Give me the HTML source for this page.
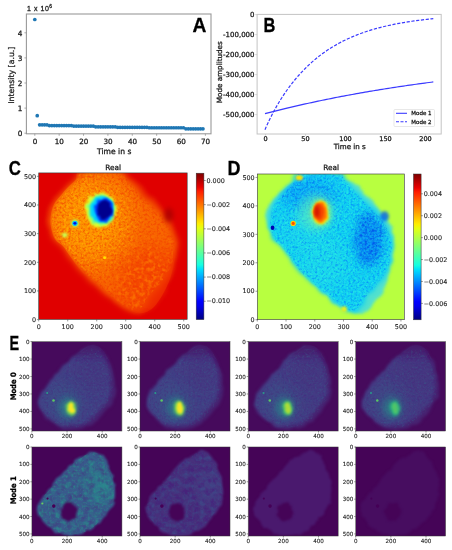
<!DOCTYPE html>
<html><head><meta charset="utf-8"><title>Figure</title>
<style>html,body{margin:0;padding:0;background:#fff;overflow:hidden}svg{display:block;filter:blur(0.35px)}</style></head>
<body><svg width="452" height="550" viewBox="0 0 452 550">
<defs><linearGradient id="gC" x1="0" y1="0" x2="0" y2="1"><stop offset="0.0000" stop-color="#800000"/><stop offset="0.0312" stop-color="#9f0000"/><stop offset="0.0625" stop-color="#c40000"/><stop offset="0.0938" stop-color="#e80000"/><stop offset="0.1250" stop-color="#ff1e00"/><stop offset="0.1562" stop-color="#ff3b00"/><stop offset="0.1875" stop-color="#ff5900"/><stop offset="0.2188" stop-color="#ff7700"/><stop offset="0.2500" stop-color="#ff9400"/><stop offset="0.2812" stop-color="#ffb200"/><stop offset="0.3125" stop-color="#ffd000"/><stop offset="0.3438" stop-color="#feed00"/><stop offset="0.3750" stop-color="#e4ff13"/><stop offset="0.4062" stop-color="#caff2c"/><stop offset="0.4375" stop-color="#b1ff46"/><stop offset="0.4688" stop-color="#97ff60"/><stop offset="0.5000" stop-color="#7dff7a"/><stop offset="0.5312" stop-color="#63ff94"/><stop offset="0.5625" stop-color="#49ffad"/><stop offset="0.5938" stop-color="#30ffc7"/><stop offset="0.6250" stop-color="#16ffe1"/><stop offset="0.6562" stop-color="#00e0fb"/><stop offset="0.6875" stop-color="#00c0ff"/><stop offset="0.7188" stop-color="#00a0ff"/><stop offset="0.7500" stop-color="#0080ff"/><stop offset="0.7812" stop-color="#0060ff"/><stop offset="0.8125" stop-color="#0040ff"/><stop offset="0.8438" stop-color="#0020ff"/><stop offset="0.8750" stop-color="#0000ff"/><stop offset="0.9062" stop-color="#0000ed"/><stop offset="0.9375" stop-color="#0000c8"/><stop offset="0.9688" stop-color="#0000a4"/><stop offset="1.0000" stop-color="#000080"/></linearGradient><linearGradient id="gD" x1="0" y1="0" x2="0" y2="1"><stop offset="0.0000" stop-color="#800000"/><stop offset="0.0312" stop-color="#9f0000"/><stop offset="0.0625" stop-color="#c40000"/><stop offset="0.0938" stop-color="#e80000"/><stop offset="0.1250" stop-color="#ff1e00"/><stop offset="0.1562" stop-color="#ff3b00"/><stop offset="0.1875" stop-color="#ff5900"/><stop offset="0.2188" stop-color="#ff7700"/><stop offset="0.2500" stop-color="#ff9400"/><stop offset="0.2812" stop-color="#ffb200"/><stop offset="0.3125" stop-color="#ffd000"/><stop offset="0.3438" stop-color="#feed00"/><stop offset="0.3750" stop-color="#e4ff13"/><stop offset="0.4062" stop-color="#caff2c"/><stop offset="0.4375" stop-color="#b1ff46"/><stop offset="0.4688" stop-color="#97ff60"/><stop offset="0.5000" stop-color="#7dff7a"/><stop offset="0.5312" stop-color="#63ff94"/><stop offset="0.5625" stop-color="#49ffad"/><stop offset="0.5938" stop-color="#30ffc7"/><stop offset="0.6250" stop-color="#16ffe1"/><stop offset="0.6562" stop-color="#00e0fb"/><stop offset="0.6875" stop-color="#00c0ff"/><stop offset="0.7188" stop-color="#00a0ff"/><stop offset="0.7500" stop-color="#0080ff"/><stop offset="0.7812" stop-color="#0060ff"/><stop offset="0.8125" stop-color="#0040ff"/><stop offset="0.8438" stop-color="#0020ff"/><stop offset="0.8750" stop-color="#0000ff"/><stop offset="0.9062" stop-color="#0000ed"/><stop offset="0.9375" stop-color="#0000c8"/><stop offset="0.9688" stop-color="#0000a4"/><stop offset="1.0000" stop-color="#000080"/></linearGradient></defs>
<rect width="452" height="550" fill="#fff"/>
<rect x="26.4" y="14.0" width="184.6" height="119.80000000000001" fill="none" stroke="#9a9a9a" stroke-width="1.1"/>
<line x1="24.4" y1="133.20" x2="26.4" y2="133.20" stroke="#8a8a8a" stroke-width="0.7"/>
<text x="22.40" y="136.10" font-size="7.3" text-anchor="end" fill="#1a1a1a" stroke="#1a1a1a" stroke-width="0.28" font-family="DejaVu Sans, Liberation Sans, sans-serif" >0</text>
<line x1="24.4" y1="108.10" x2="26.4" y2="108.10" stroke="#8a8a8a" stroke-width="0.7"/>
<text x="22.40" y="111.00" font-size="7.3" text-anchor="end" fill="#1a1a1a" stroke="#1a1a1a" stroke-width="0.28" font-family="DejaVu Sans, Liberation Sans, sans-serif" >1</text>
<line x1="24.4" y1="83.00" x2="26.4" y2="83.00" stroke="#8a8a8a" stroke-width="0.7"/>
<text x="22.40" y="85.90" font-size="7.3" text-anchor="end" fill="#1a1a1a" stroke="#1a1a1a" stroke-width="0.28" font-family="DejaVu Sans, Liberation Sans, sans-serif" >2</text>
<line x1="24.4" y1="57.90" x2="26.4" y2="57.90" stroke="#8a8a8a" stroke-width="0.7"/>
<text x="22.40" y="60.80" font-size="7.3" text-anchor="end" fill="#1a1a1a" stroke="#1a1a1a" stroke-width="0.28" font-family="DejaVu Sans, Liberation Sans, sans-serif" >3</text>
<line x1="24.4" y1="32.80" x2="26.4" y2="32.80" stroke="#8a8a8a" stroke-width="0.7"/>
<text x="22.40" y="35.70" font-size="7.3" text-anchor="end" fill="#1a1a1a" stroke="#1a1a1a" stroke-width="0.28" font-family="DejaVu Sans, Liberation Sans, sans-serif" >4</text>
<line x1="34.80" y1="133.8" x2="34.80" y2="135.8" stroke="#8a8a8a" stroke-width="0.7"/>
<text x="35.00" y="144.00" font-size="7.2" text-anchor="middle" fill="#1a1a1a" stroke="#1a1a1a" stroke-width="0.28" font-family="DejaVu Sans, Liberation Sans, sans-serif" >0</text>
<line x1="59.17" y1="133.8" x2="59.17" y2="135.8" stroke="#8a8a8a" stroke-width="0.7"/>
<text x="59.37" y="144.00" font-size="7.2" text-anchor="middle" fill="#1a1a1a" stroke="#1a1a1a" stroke-width="0.28" font-family="DejaVu Sans, Liberation Sans, sans-serif" >10</text>
<line x1="83.54" y1="133.8" x2="83.54" y2="135.8" stroke="#8a8a8a" stroke-width="0.7"/>
<text x="83.74" y="144.00" font-size="7.2" text-anchor="middle" fill="#1a1a1a" stroke="#1a1a1a" stroke-width="0.28" font-family="DejaVu Sans, Liberation Sans, sans-serif" >20</text>
<line x1="107.91" y1="133.8" x2="107.91" y2="135.8" stroke="#8a8a8a" stroke-width="0.7"/>
<text x="108.11" y="144.00" font-size="7.2" text-anchor="middle" fill="#1a1a1a" stroke="#1a1a1a" stroke-width="0.28" font-family="DejaVu Sans, Liberation Sans, sans-serif" >30</text>
<line x1="132.28" y1="133.8" x2="132.28" y2="135.8" stroke="#8a8a8a" stroke-width="0.7"/>
<text x="132.48" y="144.00" font-size="7.2" text-anchor="middle" fill="#1a1a1a" stroke="#1a1a1a" stroke-width="0.28" font-family="DejaVu Sans, Liberation Sans, sans-serif" >40</text>
<line x1="156.65" y1="133.8" x2="156.65" y2="135.8" stroke="#8a8a8a" stroke-width="0.7"/>
<text x="156.85" y="144.00" font-size="7.2" text-anchor="middle" fill="#1a1a1a" stroke="#1a1a1a" stroke-width="0.28" font-family="DejaVu Sans, Liberation Sans, sans-serif" >50</text>
<line x1="181.02" y1="133.8" x2="181.02" y2="135.8" stroke="#8a8a8a" stroke-width="0.7"/>
<text x="181.22" y="144.00" font-size="7.2" text-anchor="middle" fill="#1a1a1a" stroke="#1a1a1a" stroke-width="0.28" font-family="DejaVu Sans, Liberation Sans, sans-serif" >60</text>
<line x1="205.39" y1="133.8" x2="205.39" y2="135.8" stroke="#8a8a8a" stroke-width="0.7"/>
<text x="205.59" y="144.00" font-size="7.2" text-anchor="middle" fill="#1a1a1a" stroke="#1a1a1a" stroke-width="0.28" font-family="DejaVu Sans, Liberation Sans, sans-serif" >70</text>
<text x="27.00" y="11.00" font-size="7.0" text-anchor="start" fill="#1a1a1a" stroke="#1a1a1a" stroke-width="0.28" font-family="Liberation Sans, sans-serif" letter-spacing="0.55" >1 x 10<tspan font-size="4.8" dy="-3.0" dx="-0.2">6</tspan></text>
<text x="0.00" y="0.00" font-size="7.8" text-anchor="middle" fill="#1a1a1a" stroke="#1a1a1a" stroke-width="0.28" font-family="DejaVu Sans, Liberation Sans, sans-serif" transform="translate(13.7,75.2) rotate(-90)">Intensity [a.u.]</text>
<text x="114.20" y="154.30" font-size="7.6" text-anchor="middle" fill="#1a1a1a" stroke="#1a1a1a" stroke-width="0.28" font-family="DejaVu Sans, Liberation Sans, sans-serif" >Time in s</text>
<text x="0.00" y="0.00" font-size="20" text-anchor="start" fill="#000" stroke="#000" stroke-width="0.28" font-family="Liberation Sans, Arial, sans-serif" font-weight="bold" transform="translate(192.6,32.1) scale(0.96,1)">A</text>
<circle cx="34.80" cy="19.50" r="1.85" fill="#1f77b4"/>
<circle cx="37.24" cy="115.63" r="1.85" fill="#1f77b4"/>
<circle cx="39.67" cy="124.79" r="1.85" fill="#1f77b4"/>
<circle cx="42.11" cy="124.79" r="1.85" fill="#1f77b4"/>
<circle cx="44.55" cy="124.79" r="1.85" fill="#1f77b4"/>
<circle cx="46.98" cy="124.79" r="1.85" fill="#1f77b4"/>
<circle cx="49.42" cy="125.59" r="1.85" fill="#1f77b4"/>
<circle cx="51.86" cy="125.59" r="1.85" fill="#1f77b4"/>
<circle cx="54.30" cy="125.59" r="1.85" fill="#1f77b4"/>
<circle cx="56.73" cy="125.59" r="1.85" fill="#1f77b4"/>
<circle cx="59.17" cy="125.59" r="1.85" fill="#1f77b4"/>
<circle cx="61.61" cy="125.59" r="1.85" fill="#1f77b4"/>
<circle cx="64.04" cy="125.59" r="1.85" fill="#1f77b4"/>
<circle cx="66.48" cy="125.59" r="1.85" fill="#1f77b4"/>
<circle cx="68.92" cy="125.59" r="1.85" fill="#1f77b4"/>
<circle cx="71.35" cy="125.59" r="1.85" fill="#1f77b4"/>
<circle cx="73.79" cy="126.10" r="1.85" fill="#1f77b4"/>
<circle cx="76.23" cy="126.10" r="1.85" fill="#1f77b4"/>
<circle cx="78.67" cy="126.10" r="1.85" fill="#1f77b4"/>
<circle cx="81.10" cy="126.10" r="1.85" fill="#1f77b4"/>
<circle cx="83.54" cy="126.10" r="1.85" fill="#1f77b4"/>
<circle cx="85.98" cy="126.10" r="1.85" fill="#1f77b4"/>
<circle cx="88.41" cy="126.10" r="1.85" fill="#1f77b4"/>
<circle cx="90.85" cy="126.10" r="1.85" fill="#1f77b4"/>
<circle cx="93.29" cy="126.10" r="1.85" fill="#1f77b4"/>
<circle cx="95.72" cy="126.80" r="1.85" fill="#1f77b4"/>
<circle cx="98.16" cy="126.80" r="1.85" fill="#1f77b4"/>
<circle cx="100.60" cy="126.80" r="1.85" fill="#1f77b4"/>
<circle cx="103.04" cy="126.80" r="1.85" fill="#1f77b4"/>
<circle cx="105.47" cy="126.80" r="1.85" fill="#1f77b4"/>
<circle cx="107.91" cy="126.80" r="1.85" fill="#1f77b4"/>
<circle cx="110.35" cy="126.80" r="1.85" fill="#1f77b4"/>
<circle cx="112.78" cy="126.80" r="1.85" fill="#1f77b4"/>
<circle cx="115.22" cy="126.80" r="1.85" fill="#1f77b4"/>
<circle cx="117.66" cy="127.35" r="1.85" fill="#1f77b4"/>
<circle cx="120.09" cy="127.35" r="1.85" fill="#1f77b4"/>
<circle cx="122.53" cy="127.35" r="1.85" fill="#1f77b4"/>
<circle cx="124.97" cy="127.35" r="1.85" fill="#1f77b4"/>
<circle cx="127.41" cy="127.35" r="1.85" fill="#1f77b4"/>
<circle cx="129.84" cy="127.35" r="1.85" fill="#1f77b4"/>
<circle cx="132.28" cy="127.35" r="1.85" fill="#1f77b4"/>
<circle cx="134.72" cy="127.35" r="1.85" fill="#1f77b4"/>
<circle cx="137.15" cy="127.35" r="1.85" fill="#1f77b4"/>
<circle cx="139.59" cy="127.35" r="1.85" fill="#1f77b4"/>
<circle cx="142.03" cy="127.35" r="1.85" fill="#1f77b4"/>
<circle cx="144.46" cy="127.35" r="1.85" fill="#1f77b4"/>
<circle cx="146.90" cy="127.35" r="1.85" fill="#1f77b4"/>
<circle cx="149.34" cy="127.75" r="1.85" fill="#1f77b4"/>
<circle cx="151.78" cy="127.75" r="1.85" fill="#1f77b4"/>
<circle cx="154.21" cy="127.75" r="1.85" fill="#1f77b4"/>
<circle cx="156.65" cy="127.75" r="1.85" fill="#1f77b4"/>
<circle cx="159.09" cy="127.75" r="1.85" fill="#1f77b4"/>
<circle cx="161.52" cy="127.75" r="1.85" fill="#1f77b4"/>
<circle cx="163.96" cy="127.75" r="1.85" fill="#1f77b4"/>
<circle cx="166.40" cy="127.75" r="1.85" fill="#1f77b4"/>
<circle cx="168.83" cy="127.75" r="1.85" fill="#1f77b4"/>
<circle cx="171.27" cy="127.75" r="1.85" fill="#1f77b4"/>
<circle cx="173.71" cy="127.75" r="1.85" fill="#1f77b4"/>
<circle cx="176.15" cy="127.75" r="1.85" fill="#1f77b4"/>
<circle cx="178.58" cy="127.75" r="1.85" fill="#1f77b4"/>
<circle cx="181.02" cy="127.75" r="1.85" fill="#1f77b4"/>
<circle cx="183.46" cy="127.75" r="1.85" fill="#1f77b4"/>
<circle cx="185.89" cy="128.81" r="1.85" fill="#1f77b4"/>
<circle cx="188.33" cy="128.81" r="1.85" fill="#1f77b4"/>
<circle cx="190.77" cy="128.81" r="1.85" fill="#1f77b4"/>
<circle cx="193.20" cy="128.81" r="1.85" fill="#1f77b4"/>
<circle cx="195.64" cy="128.81" r="1.85" fill="#1f77b4"/>
<circle cx="198.08" cy="128.81" r="1.85" fill="#1f77b4"/>
<circle cx="200.52" cy="128.81" r="1.85" fill="#1f77b4"/>
<circle cx="202.95" cy="128.81" r="1.85" fill="#1f77b4"/>
<rect x="257.1" y="14.4" width="184.09999999999997" height="119.6" fill="none" stroke="#c4c4c4" stroke-width="1"/>
<line x1="255.3" y1="14.60" x2="257.1" y2="14.60" stroke="#c4c4c4" stroke-width="0.7"/>
<text x="254.50" y="17.15" font-size="7.0" text-anchor="end" fill="#1a1a1a" stroke="#1a1a1a" stroke-width="0.28" font-family="DejaVu Sans, Liberation Sans, sans-serif" >0</text>
<line x1="255.3" y1="34.60" x2="257.1" y2="34.60" stroke="#c4c4c4" stroke-width="0.7"/>
<text x="254.50" y="37.15" font-size="7.0" text-anchor="end" fill="#1a1a1a" stroke="#1a1a1a" stroke-width="0.28" font-family="DejaVu Sans, Liberation Sans, sans-serif" >-100,000</text>
<line x1="255.3" y1="54.60" x2="257.1" y2="54.60" stroke="#c4c4c4" stroke-width="0.7"/>
<text x="254.50" y="57.15" font-size="7.0" text-anchor="end" fill="#1a1a1a" stroke="#1a1a1a" stroke-width="0.28" font-family="DejaVu Sans, Liberation Sans, sans-serif" >-200,000</text>
<line x1="255.3" y1="74.60" x2="257.1" y2="74.60" stroke="#c4c4c4" stroke-width="0.7"/>
<text x="254.50" y="77.15" font-size="7.0" text-anchor="end" fill="#1a1a1a" stroke="#1a1a1a" stroke-width="0.28" font-family="DejaVu Sans, Liberation Sans, sans-serif" >-300,000</text>
<line x1="255.3" y1="94.60" x2="257.1" y2="94.60" stroke="#c4c4c4" stroke-width="0.7"/>
<text x="254.50" y="97.15" font-size="7.0" text-anchor="end" fill="#1a1a1a" stroke="#1a1a1a" stroke-width="0.28" font-family="DejaVu Sans, Liberation Sans, sans-serif" >-400,000</text>
<line x1="255.3" y1="114.60" x2="257.1" y2="114.60" stroke="#c4c4c4" stroke-width="0.7"/>
<text x="254.50" y="117.15" font-size="7.0" text-anchor="end" fill="#1a1a1a" stroke="#1a1a1a" stroke-width="0.28" font-family="DejaVu Sans, Liberation Sans, sans-serif" >-500,000</text>
<line x1="265.50" y1="134.0" x2="265.50" y2="135.8" stroke="#c4c4c4" stroke-width="0.7"/>
<text x="265.50" y="141.20" font-size="6.5" text-anchor="middle" fill="#1a1a1a" stroke="#1a1a1a" stroke-width="0.28" font-family="DejaVu Sans, Liberation Sans, sans-serif" >0</text>
<line x1="305.50" y1="134.0" x2="305.50" y2="135.8" stroke="#c4c4c4" stroke-width="0.7"/>
<text x="305.50" y="141.20" font-size="6.5" text-anchor="middle" fill="#1a1a1a" stroke="#1a1a1a" stroke-width="0.28" font-family="DejaVu Sans, Liberation Sans, sans-serif" >50</text>
<line x1="345.50" y1="134.0" x2="345.50" y2="135.8" stroke="#c4c4c4" stroke-width="0.7"/>
<text x="345.50" y="141.20" font-size="6.5" text-anchor="middle" fill="#1a1a1a" stroke="#1a1a1a" stroke-width="0.28" font-family="DejaVu Sans, Liberation Sans, sans-serif" >100</text>
<line x1="385.50" y1="134.0" x2="385.50" y2="135.8" stroke="#c4c4c4" stroke-width="0.7"/>
<text x="385.50" y="141.20" font-size="6.5" text-anchor="middle" fill="#1a1a1a" stroke="#1a1a1a" stroke-width="0.28" font-family="DejaVu Sans, Liberation Sans, sans-serif" >150</text>
<line x1="425.50" y1="134.0" x2="425.50" y2="135.8" stroke="#c4c4c4" stroke-width="0.7"/>
<text x="425.50" y="141.20" font-size="6.5" text-anchor="middle" fill="#1a1a1a" stroke="#1a1a1a" stroke-width="0.28" font-family="DejaVu Sans, Liberation Sans, sans-serif" >200</text>
<text x="0.00" y="0.00" font-size="7.2" text-anchor="middle" fill="#1a1a1a" stroke="#1a1a1a" stroke-width="0.28" font-family="DejaVu Sans, Liberation Sans, sans-serif" transform="translate(221.6,72.2) rotate(-90)">Mode amplitudes</text>
<text x="349.70" y="148.70" font-size="7.1" text-anchor="middle" fill="#1a1a1a" stroke="#1a1a1a" stroke-width="0.28" font-family="DejaVu Sans, Liberation Sans, sans-serif" >Time in s</text>
<text x="0.00" y="0.00" font-size="19.3" text-anchor="start" fill="#000" stroke="#000" stroke-width="0.28" font-family="Liberation Sans, Arial, sans-serif" font-weight="bold" transform="translate(263.4,31.9) scale(0.85,1)">B</text>
<polyline points="265.00,113.70 266.00,113.43 267.00,113.17 268.00,112.91 269.00,112.65 270.00,112.39 271.00,112.13 272.00,111.88 273.00,111.62 274.00,111.37 275.00,111.11 276.00,110.86 277.00,110.61 278.00,110.36 279.00,110.11 280.00,109.86 281.00,109.62 282.00,109.37 283.00,109.13 284.00,108.88 285.00,108.64 286.00,108.40 288.13,107.88 290.27,107.38 292.40,106.87 294.54,106.37 296.67,105.88 298.81,105.39 300.94,104.90 303.08,104.42 305.21,103.94 307.35,103.47 309.48,103.00 311.62,102.54 313.75,102.08 315.89,101.62 318.02,101.17 320.16,100.72 322.29,100.28 324.43,99.84 326.56,99.40 328.70,98.97 330.83,98.54 332.97,98.12 335.10,97.70 337.23,97.28 339.37,96.87 341.50,96.46 343.64,96.05 345.77,95.65 347.91,95.25 350.04,94.86 352.18,94.47 354.31,94.08 356.45,93.69 358.58,93.31 360.72,92.94 362.85,92.56 364.99,92.19 367.12,91.82 369.26,91.46 371.39,91.10 373.53,90.74 375.66,90.39 377.80,90.04 379.93,89.69 382.07,89.34 384.20,89.00 386.33,88.66 388.47,88.33 390.60,88.00 392.74,87.67 394.87,87.34 397.01,87.02 399.14,86.70 401.28,86.38 403.41,86.06 405.55,85.75 407.68,85.44 409.82,85.14 411.95,84.83 414.09,84.53 416.22,84.23 418.36,83.94 420.49,83.64 422.63,83.35 424.76,83.06 426.90,82.78 429.03,82.50 431.17,82.22 433.30,81.94" fill="none" stroke="#3a3aff" stroke-width="1.2"/>
<polyline points="265.00,129.66 266.00,127.35 267.00,125.10 268.00,122.92 269.00,120.80 270.00,118.74 271.00,116.73 272.00,114.77 273.00,112.86 274.00,110.99 275.00,109.17 276.00,107.39 277.00,105.65 278.00,103.94 279.00,102.28 280.00,100.64 281.00,99.04 282.00,97.48 283.00,95.94 284.00,94.44 285.00,92.97 286.00,91.52 288.13,88.53 290.27,85.66 292.40,82.90 294.54,80.25 296.67,77.71 298.81,75.26 300.94,72.91 303.08,70.65 305.21,68.47 307.35,66.38 309.48,64.37 311.62,62.43 313.75,60.57 315.89,58.78 318.02,57.06 320.16,55.40 322.29,53.81 324.43,52.27 326.56,50.79 328.70,49.37 330.83,48.01 332.97,46.69 335.10,45.43 337.23,44.21 339.37,43.04 341.50,41.91 343.64,40.82 345.77,39.78 347.91,38.78 350.04,37.81 352.18,36.88 354.31,35.98 356.45,35.12 358.58,34.29 360.72,33.50 362.85,32.73 364.99,31.99 367.12,31.28 369.26,30.60 371.39,29.94 373.53,29.31 375.66,28.70 377.80,28.11 379.93,27.55 382.07,27.01 384.20,26.49 386.33,25.98 388.47,25.50 390.60,25.04 392.74,24.59 394.87,24.16 397.01,23.74 399.14,23.35 401.28,22.96 403.41,22.59 405.55,22.24 407.68,21.90 409.82,21.57 411.95,21.25 414.09,20.95 416.22,20.65 418.36,20.37 420.49,20.10 422.63,19.84 424.76,19.59 426.90,19.35 429.03,19.12 431.17,18.89 433.30,18.68" fill="none" stroke="#3a3aff" stroke-width="1.2" stroke-dasharray="3.2,1.6"/>
<rect x="394" y="109.5" width="40.5" height="17" rx="1" fill="#fff" stroke="#d8d8d8" stroke-width="0.6"/>
<line x1="396" y1="113.3" x2="407" y2="113.3" stroke="#3a3aff" stroke-width="1.1"/>
<line x1="396" y1="121.8" x2="407" y2="121.8" stroke="#3a3aff" stroke-width="1.1" stroke-dasharray="3,1.5"/>
<text x="411.30" y="115.20" font-size="5.5" text-anchor="start" fill="#1a1a1a" stroke="#1a1a1a" stroke-width="0.28" font-family="DejaVu Sans, Liberation Sans, sans-serif" >Mode 1</text>
<text x="411.30" y="123.70" font-size="5.5" text-anchor="start" fill="#1a1a1a" stroke="#1a1a1a" stroke-width="0.28" font-family="DejaVu Sans, Liberation Sans, sans-serif" >Mode 2</text>
<defs><clipPath id="i1clip"><rect x="38.70" y="172.90" width="148.50" height="146.70"/></clipPath><filter id="i1r1" x="-20%" y="-20%" width="140%" height="140%" color-interpolation-filters="sRGB"><feTurbulence type="fractalNoise" baseFrequency="0.1" numOctaves="2" seed="3" result="t"/><feDisplacementMap in="SourceGraphic" in2="t" scale="7" xChannelSelector="R" yChannelSelector="G" result="d"/><feGaussianBlur in="d" stdDeviation="2.5"/></filter><filter id="i1r2" x="-20%" y="-20%" width="140%" height="140%" color-interpolation-filters="sRGB"><feTurbulence type="fractalNoise" baseFrequency="0.12" numOctaves="2" seed="5" result="t"/><feDisplacementMap in="SourceGraphic" in2="t" scale="5" xChannelSelector="R" yChannelSelector="G" result="d"/><feGaussianBlur in="d" stdDeviation="3.5"/></filter><filter id="i1b3" x="-50%" y="-50%" width="200%" height="200%"><feGaussianBlur stdDeviation="10"/></filter><clipPath id="i1ccbody"><path d="M130.03,310.80 C132.38,311.78 135.35,312.75 137.45,312.26 C139.56,311.78 141.36,309.21 142.65,307.86 C143.94,306.52 143.91,306.20 145.17,304.20 C146.44,302.19 148.00,298.62 150.22,295.83 C152.45,293.05 156.06,290.24 158.54,287.47 C161.01,284.71 163.14,282.02 165.07,279.26 C167.00,276.49 168.74,273.66 170.12,270.90 C171.51,268.13 172.72,265.44 173.39,262.68 C174.06,259.92 173.69,257.06 174.13,254.32 C174.58,251.58 175.91,248.96 176.06,246.25 C176.21,243.54 176.38,242.07 175.02,238.03 C173.66,234.00 170.57,226.54 167.89,222.04 C165.22,217.55 161.96,214.34 158.99,211.04 C156.02,207.74 153.04,205.17 150.07,202.24 C147.10,199.31 143.89,196.37 141.16,193.44 C138.44,190.50 136.22,187.33 133.74,184.64 C131.27,181.95 128.47,179.50 126.31,177.30 C124.16,175.10 128.37,172.41 120.82,171.43 C113.27,170.45 88.52,170.09 81.02,171.43 C73.52,172.78 77.93,176.93 75.83,179.50 C73.72,182.07 70.63,184.51 68.40,186.84 C66.17,189.16 64.94,190.38 62.46,193.44 C59.99,196.49 55.55,200.43 53.55,205.17 C51.55,209.92 50.26,216.35 50.43,221.90 C50.60,227.45 52.51,234.47 54.59,238.47 C56.67,242.48 60.55,243.32 62.91,245.96 C65.26,248.60 66.77,251.56 68.70,254.32 C70.63,257.08 72.41,259.77 74.49,262.53 C76.57,265.30 78.70,268.11 81.17,270.90 C83.65,273.68 86.29,276.49 89.34,279.26 C92.38,282.02 96.12,284.71 99.44,287.47 C102.75,290.24 106.99,293.90 109.24,295.83 C111.49,297.77 110.60,297.30 112.95,299.06 C115.30,300.82 120.50,304.44 123.34,306.40 C126.19,308.35 127.68,309.82 130.03,310.80Z"/></clipPath><filter id="i1b4" x="-50%" y="-50%" width="200%" height="200%"><feGaussianBlur stdDeviation="9"/></filter><clipPath id="i1cc1000"><path d="M137.45,313.00 C140.30,313.49 143.02,313.12 145.62,312.26 C148.22,311.41 150.82,309.82 153.05,307.86 C155.27,305.91 157.01,303.46 158.99,300.53 C160.97,297.59 163.07,293.93 164.93,290.26 C166.78,286.59 168.76,282.44 170.12,278.52 C171.48,274.61 172.23,270.70 173.09,266.79 C173.96,262.88 174.82,258.96 175.32,255.05 C175.81,251.14 176.06,246.74 176.06,243.32 C176.06,239.89 175.94,237.69 175.32,234.51 C174.70,231.34 173.84,227.55 172.35,224.25 C170.87,220.94 168.64,217.89 166.41,214.71 C164.18,211.53 161.71,208.47 158.99,205.17 C156.26,201.87 153.04,198.08 150.07,194.91 C147.10,191.73 144.38,188.55 141.16,186.10 C137.95,183.66 133.99,181.87 130.77,180.24 C127.55,178.60 125.57,177.25 121.86,176.27 C118.15,175.30 112.95,174.73 108.50,174.37 C104.04,174.00 99.34,173.76 95.13,174.07 C90.92,174.39 86.84,175.00 83.25,176.27 C79.66,177.55 76.69,179.57 73.60,181.70 C70.50,183.83 67.53,186.47 64.69,189.04 C61.84,191.60 59.00,194.29 56.52,197.11 C54.05,199.92 51.45,202.97 49.84,205.91 C48.23,208.84 47.24,211.90 46.87,214.71 C46.50,217.52 46.87,220.21 47.61,222.78 C48.35,225.35 49.84,227.55 51.32,230.11 C52.81,232.68 54.54,235.49 56.52,238.18 C58.50,240.87 60.95,243.66 63.20,246.25 C65.45,248.84 67.78,251.09 70.03,253.73 C72.29,256.37 74.19,259.31 76.72,262.09 C79.24,264.88 82.36,267.47 85.18,270.46 C88.00,273.44 90.75,276.81 93.65,279.99 C96.54,283.17 99.59,286.47 102.56,289.53 C105.53,292.58 108.50,296.01 111.47,298.33 C114.44,300.65 117.53,301.63 120.38,303.46 C123.22,305.30 125.70,307.74 128.54,309.33 C131.39,310.92 134.61,312.51 137.45,313.00Z"/></clipPath><filter id="i1n5" x="0" y="0" width="100%" height="100%" color-interpolation-filters="sRGB"><feTurbulence type="fractalNoise" baseFrequency="0.42" numOctaves="2" seed="3"/><feColorMatrix type="matrix" values="0 0 0 0 1.000 0 0 0 0 0.706 0 0 0 0 0.000 3.0 0 0 0 -1.25"/></filter><clipPath id="i1c6"><path d="M129.73,309.39 C132.03,310.35 134.94,311.31 137.00,310.83 C139.07,310.35 140.84,307.84 142.10,306.52 C143.36,305.20 143.34,304.89 144.57,302.92 C145.81,300.96 147.34,297.46 149.52,294.73 C151.70,292.00 155.24,289.24 157.67,286.53 C160.10,283.83 162.18,281.19 164.07,278.48 C165.97,275.78 167.66,273.00 169.02,270.29 C170.38,267.58 171.57,264.95 172.22,262.24 C172.88,259.53 172.51,256.73 172.95,254.04 C173.39,251.36 174.70,248.80 174.84,246.14 C174.99,243.48 175.16,242.04 173.82,238.09 C172.49,234.13 169.46,226.82 166.84,222.42 C164.22,218.01 161.02,214.87 158.11,211.63 C155.20,208.40 152.29,205.88 149.37,203.01 C146.46,200.13 143.31,197.26 140.64,194.38 C137.97,191.51 135.79,188.39 133.37,185.75 C130.94,183.12 128.20,180.72 126.09,178.57 C123.98,176.41 128.10,173.77 120.71,172.82 C113.31,171.86 89.05,171.50 81.70,172.82 C74.35,174.13 78.67,178.21 76.61,180.72 C74.55,183.24 71.52,185.63 69.33,187.91 C67.15,190.19 65.94,191.39 63.51,194.38 C61.09,197.38 56.74,201.23 54.78,205.88 C52.82,210.53 51.55,216.83 51.72,222.27 C51.89,227.71 53.76,234.59 55.80,238.52 C57.84,242.45 61.64,243.26 63.95,245.85 C66.25,248.44 67.73,251.34 69.62,254.04 C71.52,256.75 73.26,259.39 75.30,262.09 C77.34,264.80 79.42,267.56 81.85,270.29 C84.27,273.02 86.87,275.78 89.85,278.48 C92.84,281.19 96.50,283.83 99.75,286.53 C103.00,289.24 107.15,292.84 109.35,294.73 C111.56,296.62 110.69,296.17 112.99,297.89 C115.30,299.62 120.39,303.16 123.18,305.08 C125.97,307.00 127.42,308.44 129.73,309.39Z"/></clipPath><filter id="i1m7f" x="-50%" y="-50%" width="200%" height="200%"><feGaussianBlur stdDeviation="12"/></filter><mask id="i1m7" maskUnits="userSpaceOnUse" x="38.7" y="172.9" width="148.5" height="146.70000000000002"><ellipse cx="90.67" cy="222.78" rx="44.55" ry="48.41" fill="#fff" filter="url(#i1m7f)"/></mask><filter id="i1n8" x="0" y="0" width="100%" height="100%" color-interpolation-filters="sRGB"><feTurbulence type="fractalNoise" baseFrequency="0.42" numOctaves="2" seed="11"/><feColorMatrix type="matrix" values="0 0 0 0 0.941 0 0 0 0 0.188 0 0 0 0 0.000 3.0 0 0 0 -1.35"/></filter><clipPath id="i1c9"><path d="M129.73,309.39 C132.03,310.35 134.94,311.31 137.00,310.83 C139.07,310.35 140.84,307.84 142.10,306.52 C143.36,305.20 143.34,304.89 144.57,302.92 C145.81,300.96 147.34,297.46 149.52,294.73 C151.70,292.00 155.24,289.24 157.67,286.53 C160.10,283.83 162.18,281.19 164.07,278.48 C165.97,275.78 167.66,273.00 169.02,270.29 C170.38,267.58 171.57,264.95 172.22,262.24 C172.88,259.53 172.51,256.73 172.95,254.04 C173.39,251.36 174.70,248.80 174.84,246.14 C174.99,243.48 175.16,242.04 173.82,238.09 C172.49,234.13 169.46,226.82 166.84,222.42 C164.22,218.01 161.02,214.87 158.11,211.63 C155.20,208.40 152.29,205.88 149.37,203.01 C146.46,200.13 143.31,197.26 140.64,194.38 C137.97,191.51 135.79,188.39 133.37,185.75 C130.94,183.12 128.20,180.72 126.09,178.57 C123.98,176.41 128.10,173.77 120.71,172.82 C113.31,171.86 89.05,171.50 81.70,172.82 C74.35,174.13 78.67,178.21 76.61,180.72 C74.55,183.24 71.52,185.63 69.33,187.91 C67.15,190.19 65.94,191.39 63.51,194.38 C61.09,197.38 56.74,201.23 54.78,205.88 C52.82,210.53 51.55,216.83 51.72,222.27 C51.89,227.71 53.76,234.59 55.80,238.52 C57.84,242.45 61.64,243.26 63.95,245.85 C66.25,248.44 67.73,251.34 69.62,254.04 C71.52,256.75 73.26,259.39 75.30,262.09 C77.34,264.80 79.42,267.56 81.85,270.29 C84.27,273.02 86.87,275.78 89.85,278.48 C92.84,281.19 96.50,283.83 99.75,286.53 C103.00,289.24 107.15,292.84 109.35,294.73 C111.56,296.62 110.69,296.17 112.99,297.89 C115.30,299.62 120.39,303.16 123.18,305.08 C125.97,307.00 127.42,308.44 129.73,309.39Z"/></clipPath><filter id="i1n10" x="0" y="0" width="100%" height="100%" color-interpolation-filters="sRGB"><feTurbulence type="fractalNoise" baseFrequency="0.25" numOctaves="2" seed="13"/><feColorMatrix type="matrix" values="0 0 0 0 1.000 0 0 0 0 0.533 0 0 0 0 0.000 3.0 0 0 0 -1.3"/></filter><clipPath id="i1c11"><path d="M129.73,309.39 C132.03,310.35 134.94,311.31 137.00,310.83 C139.07,310.35 140.84,307.84 142.10,306.52 C143.36,305.20 143.34,304.89 144.57,302.92 C145.81,300.96 147.34,297.46 149.52,294.73 C151.70,292.00 155.24,289.24 157.67,286.53 C160.10,283.83 162.18,281.19 164.07,278.48 C165.97,275.78 167.66,273.00 169.02,270.29 C170.38,267.58 171.57,264.95 172.22,262.24 C172.88,259.53 172.51,256.73 172.95,254.04 C173.39,251.36 174.70,248.80 174.84,246.14 C174.99,243.48 175.16,242.04 173.82,238.09 C172.49,234.13 169.46,226.82 166.84,222.42 C164.22,218.01 161.02,214.87 158.11,211.63 C155.20,208.40 152.29,205.88 149.37,203.01 C146.46,200.13 143.31,197.26 140.64,194.38 C137.97,191.51 135.79,188.39 133.37,185.75 C130.94,183.12 128.20,180.72 126.09,178.57 C123.98,176.41 128.10,173.77 120.71,172.82 C113.31,171.86 89.05,171.50 81.70,172.82 C74.35,174.13 78.67,178.21 76.61,180.72 C74.55,183.24 71.52,185.63 69.33,187.91 C67.15,190.19 65.94,191.39 63.51,194.38 C61.09,197.38 56.74,201.23 54.78,205.88 C52.82,210.53 51.55,216.83 51.72,222.27 C51.89,227.71 53.76,234.59 55.80,238.52 C57.84,242.45 61.64,243.26 63.95,245.85 C66.25,248.44 67.73,251.34 69.62,254.04 C71.52,256.75 73.26,259.39 75.30,262.09 C77.34,264.80 79.42,267.56 81.85,270.29 C84.27,273.02 86.87,275.78 89.85,278.48 C92.84,281.19 96.50,283.83 99.75,286.53 C103.00,289.24 107.15,292.84 109.35,294.73 C111.56,296.62 110.69,296.17 112.99,297.89 C115.30,299.62 120.39,303.16 123.18,305.08 C125.97,307.00 127.42,308.44 129.73,309.39Z"/></clipPath><filter id="i1m12f" x="-50%" y="-50%" width="200%" height="200%"><feGaussianBlur stdDeviation="10"/></filter><mask id="i1m12" maskUnits="userSpaceOnUse" x="38.7" y="172.9" width="148.5" height="146.70000000000002"><ellipse cx="145.62" cy="278.52" rx="37.12" ry="41.08" fill="#fff" filter="url(#i1m12f)"/></mask><filter id="i1r13" x="-20%" y="-20%" width="140%" height="140%" color-interpolation-filters="sRGB"><feTurbulence type="fractalNoise" baseFrequency="0.2" numOctaves="2" seed="4" result="t"/><feDisplacementMap in="SourceGraphic" in2="t" scale="6" xChannelSelector="R" yChannelSelector="G" result="d"/><feGaussianBlur in="d" stdDeviation="1.2"/></filter><filter id="i1r14" x="-20%" y="-20%" width="140%" height="140%" color-interpolation-filters="sRGB"><feTurbulence type="fractalNoise" baseFrequency="0.2" numOctaves="2" seed="6" result="t"/><feDisplacementMap in="SourceGraphic" in2="t" scale="6" xChannelSelector="R" yChannelSelector="G" result="d"/><feGaussianBlur in="d" stdDeviation="1.2"/></filter><filter id="i1r15" x="-20%" y="-20%" width="140%" height="140%" color-interpolation-filters="sRGB"><feTurbulence type="fractalNoise" baseFrequency="0.2" numOctaves="2" seed="7" result="t"/><feDisplacementMap in="SourceGraphic" in2="t" scale="5" xChannelSelector="R" yChannelSelector="G" result="d"/><feGaussianBlur in="d" stdDeviation="1.0"/></filter><filter id="i1r16" x="-20%" y="-20%" width="140%" height="140%" color-interpolation-filters="sRGB"><feTurbulence type="fractalNoise" baseFrequency="0.2" numOctaves="2" seed="8" result="t"/><feDisplacementMap in="SourceGraphic" in2="t" scale="5" xChannelSelector="R" yChannelSelector="G" result="d"/><feGaussianBlur in="d" stdDeviation="1.0"/></filter><filter id="i1r17" x="-20%" y="-20%" width="140%" height="140%" color-interpolation-filters="sRGB"><feTurbulence type="fractalNoise" baseFrequency="0.2" numOctaves="2" seed="9" result="t"/><feDisplacementMap in="SourceGraphic" in2="t" scale="4" xChannelSelector="R" yChannelSelector="G" result="d"/><feGaussianBlur in="d" stdDeviation="1.0"/></filter><filter id="i1b18" x="-50%" y="-50%" width="200%" height="200%"><feGaussianBlur stdDeviation="0.8"/></filter><filter id="i1b19" x="-50%" y="-50%" width="200%" height="200%"><feGaussianBlur stdDeviation="0.6"/></filter><filter id="i1b20" x="-50%" y="-50%" width="200%" height="200%"><feGaussianBlur stdDeviation="0.5"/></filter><filter id="i1b21" x="-50%" y="-50%" width="200%" height="200%"><feGaussianBlur stdDeviation="0.8"/></filter><filter id="i1b22" x="-50%" y="-50%" width="200%" height="200%"><feGaussianBlur stdDeviation="2.5"/></filter><filter id="i1b23" x="-50%" y="-50%" width="200%" height="200%"><feGaussianBlur stdDeviation="0.5"/></filter></defs><g clip-path="url(#i1clip)"><rect x="38.70" y="172.90" width="148.50" height="146.70" fill="#e00000"/><path d="M137.45,313.00 C140.30,313.49 143.02,313.12 145.62,312.26 C148.22,311.41 150.82,309.82 153.05,307.86 C155.27,305.91 157.01,303.46 158.99,300.53 C160.97,297.59 163.07,293.93 164.93,290.26 C166.78,286.59 168.76,282.44 170.12,278.52 C171.48,274.61 172.23,270.70 173.09,266.79 C173.96,262.88 174.82,258.96 175.32,255.05 C175.81,251.14 176.06,246.74 176.06,243.32 C176.06,239.89 175.94,237.69 175.32,234.51 C174.70,231.34 173.84,227.55 172.35,224.25 C170.87,220.94 168.64,217.89 166.41,214.71 C164.18,211.53 161.71,208.47 158.99,205.17 C156.26,201.87 153.04,198.08 150.07,194.91 C147.10,191.73 144.38,188.55 141.16,186.10 C137.95,183.66 133.99,181.87 130.77,180.24 C127.55,178.60 125.57,177.25 121.86,176.27 C118.15,175.30 112.95,174.73 108.50,174.37 C104.04,174.00 99.34,173.76 95.13,174.07 C90.92,174.39 86.84,175.00 83.25,176.27 C79.66,177.55 76.69,179.57 73.60,181.70 C70.50,183.83 67.53,186.47 64.69,189.04 C61.84,191.60 59.00,194.29 56.52,197.11 C54.05,199.92 51.45,202.97 49.84,205.91 C48.23,208.84 47.24,211.90 46.87,214.71 C46.50,217.52 46.87,220.21 47.61,222.78 C48.35,225.35 49.84,227.55 51.32,230.11 C52.81,232.68 54.54,235.49 56.52,238.18 C58.50,240.87 60.95,243.66 63.20,246.25 C65.45,248.84 67.78,251.09 70.03,253.73 C72.29,256.37 74.19,259.31 76.72,262.09 C79.24,264.88 82.36,267.47 85.18,270.46 C88.00,273.44 90.75,276.81 93.65,279.99 C96.54,283.17 99.59,286.47 102.56,289.53 C105.53,292.58 108.50,296.01 111.47,298.33 C114.44,300.65 117.53,301.63 120.38,303.46 C123.22,305.30 125.70,307.74 128.54,309.33 C131.39,310.92 134.61,312.51 137.45,313.00Z" fill="#ea2400" opacity="0.9" filter="url(#i1r1)"/><path d="M130.03,310.80 C132.38,311.78 135.35,312.75 137.45,312.26 C139.56,311.78 141.36,309.21 142.65,307.86 C143.94,306.52 143.91,306.20 145.17,304.20 C146.44,302.19 148.00,298.62 150.22,295.83 C152.45,293.05 156.06,290.24 158.54,287.47 C161.01,284.71 163.14,282.02 165.07,279.26 C167.00,276.49 168.74,273.66 170.12,270.90 C171.51,268.13 172.72,265.44 173.39,262.68 C174.06,259.92 173.69,257.06 174.13,254.32 C174.58,251.58 175.91,248.96 176.06,246.25 C176.21,243.54 176.38,242.07 175.02,238.03 C173.66,234.00 170.57,226.54 167.89,222.04 C165.22,217.55 161.96,214.34 158.99,211.04 C156.02,207.74 153.04,205.17 150.07,202.24 C147.10,199.31 143.89,196.37 141.16,193.44 C138.44,190.50 136.22,187.33 133.74,184.64 C131.27,181.95 128.47,179.50 126.31,177.30 C124.16,175.10 128.37,172.41 120.82,171.43 C113.27,170.45 88.52,170.09 81.02,171.43 C73.52,172.78 77.93,176.93 75.83,179.50 C73.72,182.07 70.63,184.51 68.40,186.84 C66.17,189.16 64.94,190.38 62.46,193.44 C59.99,196.49 55.55,200.43 53.55,205.17 C51.55,209.92 50.26,216.35 50.43,221.90 C50.60,227.45 52.51,234.47 54.59,238.47 C56.67,242.48 60.55,243.32 62.91,245.96 C65.26,248.60 66.77,251.56 68.70,254.32 C70.63,257.08 72.41,259.77 74.49,262.53 C76.57,265.30 78.70,268.11 81.17,270.90 C83.65,273.68 86.29,276.49 89.34,279.26 C92.38,282.02 96.12,284.71 99.44,287.47 C102.75,290.24 106.99,293.90 109.24,295.83 C111.49,297.77 110.60,297.30 112.95,299.06 C115.30,300.82 120.50,304.44 123.34,306.40 C126.19,308.35 127.68,309.82 130.03,310.80Z" fill="#f86800" opacity="1.0" filter="url(#i1r2)"/><g clip-path="url(#i1ccbody)"><g filter="url(#i1b3)"><ellipse cx="89.19" cy="219.84" rx="38.61" ry="41.08" fill="#ffa000" opacity="0.75"/></g></g><g clip-path="url(#i1cc1000)"><g filter="url(#i1b4)"><ellipse cx="151.56" cy="282.93" rx="35.64" ry="38.14" fill="#f23400" opacity="0.6"/></g></g><g clip-path="url(#i1c6)"><g mask="url(#i1m7)"><rect x="38.70" y="172.90" width="148.50" height="146.70" filter="url(#i1n5)" opacity="0.7"/></g></g><g clip-path="url(#i1c9)"><g><rect x="38.70" y="172.90" width="148.50" height="146.70" filter="url(#i1n8)" opacity="0.5"/></g></g><g clip-path="url(#i1c11)"><g mask="url(#i1m12)"><rect x="38.70" y="172.90" width="148.50" height="146.70" filter="url(#i1n10)" opacity="0.6"/></g></g><g filter="url(#i1r13)"><ellipse cx="100.33" cy="209.87" rx="15.15" ry="16.72" fill="#e0ff28" opacity="1.0"/></g><g filter="url(#i1r14)"><ellipse cx="101.07" cy="209.87" rx="13.37" ry="15.11" fill="#80ff7c" opacity="1.0"/></g><g filter="url(#i1r15)"><ellipse cx="101.81" cy="209.58" rx="11.73" ry="13.79" fill="#00d4ff" opacity="1.0"/></g><g filter="url(#i1r16)"><ellipse cx="103.59" cy="209.87" rx="9.21" ry="11.74" fill="#0040ff" opacity="1.0"/></g><g filter="url(#i1r17)"><ellipse cx="104.49" cy="209.87" rx="7.28" ry="9.83" fill="#00008e" opacity="1.0"/></g><g filter="url(#i1b18)"><ellipse cx="74.93" cy="223.36" rx="3.86" ry="3.81" fill="#b0ff50" opacity="1.0"/></g><g filter="url(#i1b19)"><ellipse cx="74.93" cy="223.36" rx="2.67" ry="2.64" fill="#00c0ff" opacity="1.0"/></g><g filter="url(#i1b20)"><ellipse cx="74.93" cy="223.36" rx="1.49" ry="1.47" fill="#0010e0" opacity="1.0"/></g><g filter="url(#i1b21)"><ellipse cx="64.69" cy="235.10" rx="2.67" ry="2.35" fill="#c8ff50" opacity="1.0"/></g><g filter="url(#i1b22)"><ellipse cx="168.79" cy="215.15" rx="4.46" ry="7.34" fill="#a80000" opacity="0.8"/></g><g filter="url(#i1b23)"><ellipse cx="104.63" cy="257.69" rx="1.49" ry="1.47" fill="#ffe000" opacity="1.0"/></g></g>
<rect x="38.70" y="172.90" width="148.50" height="146.70" fill="none" stroke="#333" stroke-width="0.6"/>
<line x1="38.70" y1="319.6" x2="38.70" y2="321.40000000000003" stroke="#333" stroke-width="0.5"/>
<text x="38.70" y="328.50" font-size="6.4" text-anchor="middle" fill="#1a1a1a" stroke="#1a1a1a" stroke-width="0.1" font-family="DejaVu Sans, Liberation Sans, sans-serif" >0</text>
<line x1="36.900000000000006" y1="319.60" x2="38.7" y2="319.60" stroke="#333" stroke-width="0.5"/>
<text x="36.10" y="321.80" font-size="6.4" text-anchor="end" fill="#1a1a1a" stroke="#1a1a1a" stroke-width="0.1" font-family="DejaVu Sans, Liberation Sans, sans-serif" >0</text>
<line x1="67.70" y1="319.6" x2="67.70" y2="321.40000000000003" stroke="#333" stroke-width="0.5"/>
<text x="67.70" y="328.50" font-size="6.4" text-anchor="middle" fill="#1a1a1a" stroke="#1a1a1a" stroke-width="0.1" font-family="DejaVu Sans, Liberation Sans, sans-serif" >100</text>
<line x1="36.900000000000006" y1="290.95" x2="38.7" y2="290.95" stroke="#333" stroke-width="0.5"/>
<text x="36.10" y="293.15" font-size="6.4" text-anchor="end" fill="#1a1a1a" stroke="#1a1a1a" stroke-width="0.1" font-family="DejaVu Sans, Liberation Sans, sans-serif" >100</text>
<line x1="96.71" y1="319.6" x2="96.71" y2="321.40000000000003" stroke="#333" stroke-width="0.5"/>
<text x="96.71" y="328.50" font-size="6.4" text-anchor="middle" fill="#1a1a1a" stroke="#1a1a1a" stroke-width="0.1" font-family="DejaVu Sans, Liberation Sans, sans-serif" >200</text>
<line x1="36.900000000000006" y1="262.30" x2="38.7" y2="262.30" stroke="#333" stroke-width="0.5"/>
<text x="36.10" y="264.50" font-size="6.4" text-anchor="end" fill="#1a1a1a" stroke="#1a1a1a" stroke-width="0.1" font-family="DejaVu Sans, Liberation Sans, sans-serif" >200</text>
<line x1="125.71" y1="319.6" x2="125.71" y2="321.40000000000003" stroke="#333" stroke-width="0.5"/>
<text x="125.71" y="328.50" font-size="6.4" text-anchor="middle" fill="#1a1a1a" stroke="#1a1a1a" stroke-width="0.1" font-family="DejaVu Sans, Liberation Sans, sans-serif" >300</text>
<line x1="36.900000000000006" y1="233.64" x2="38.7" y2="233.64" stroke="#333" stroke-width="0.5"/>
<text x="36.10" y="235.84" font-size="6.4" text-anchor="end" fill="#1a1a1a" stroke="#1a1a1a" stroke-width="0.1" font-family="DejaVu Sans, Liberation Sans, sans-serif" >300</text>
<line x1="154.72" y1="319.6" x2="154.72" y2="321.40000000000003" stroke="#333" stroke-width="0.5"/>
<text x="154.72" y="328.50" font-size="6.4" text-anchor="middle" fill="#1a1a1a" stroke="#1a1a1a" stroke-width="0.1" font-family="DejaVu Sans, Liberation Sans, sans-serif" >400</text>
<line x1="36.900000000000006" y1="204.99" x2="38.7" y2="204.99" stroke="#333" stroke-width="0.5"/>
<text x="36.10" y="207.19" font-size="6.4" text-anchor="end" fill="#1a1a1a" stroke="#1a1a1a" stroke-width="0.1" font-family="DejaVu Sans, Liberation Sans, sans-serif" >400</text>
<line x1="183.72" y1="319.6" x2="183.72" y2="321.40000000000003" stroke="#333" stroke-width="0.5"/>
<text x="183.72" y="328.50" font-size="6.4" text-anchor="middle" fill="#1a1a1a" stroke="#1a1a1a" stroke-width="0.1" font-family="DejaVu Sans, Liberation Sans, sans-serif" >500</text>
<line x1="36.900000000000006" y1="176.34" x2="38.7" y2="176.34" stroke="#333" stroke-width="0.5"/>
<text x="36.10" y="178.54" font-size="6.4" text-anchor="end" fill="#1a1a1a" stroke="#1a1a1a" stroke-width="0.1" font-family="DejaVu Sans, Liberation Sans, sans-serif" >500</text>
<text x="113.20" y="169.50" font-size="7.3" text-anchor="middle" fill="#1a1a1a" stroke="#1a1a1a" stroke-width="0.28" font-family="DejaVu Sans, Liberation Sans, sans-serif" >Real</text>
<text x="0.00" y="0.00" font-size="20" text-anchor="start" fill="#000" stroke="#000" stroke-width="0.28" font-family="Liberation Sans, Arial, sans-serif" font-weight="bold" transform="translate(8.7,175.3) scale(0.84,1)">C</text>
<rect x="196.2" y="173.20" width="7.70" height="146.40" fill="url(#gC)" stroke="#333" stroke-width="0.5"/>
<line x1="203.9" y1="180.50" x2="205.70000000000002" y2="180.50" stroke="#333" stroke-width="0.5"/>
<text x="206.50" y="182.70" font-size="6.4" text-anchor="start" fill="#1a1a1a" stroke="#1a1a1a" stroke-width="0.1" font-family="DejaVu Sans, Liberation Sans, sans-serif" >0.000</text>
<line x1="203.9" y1="204.65" x2="205.70000000000002" y2="204.65" stroke="#333" stroke-width="0.5"/>
<text x="206.50" y="206.85" font-size="6.4" text-anchor="start" fill="#1a1a1a" stroke="#1a1a1a" stroke-width="0.1" font-family="DejaVu Sans, Liberation Sans, sans-serif" >−0.002</text>
<line x1="203.9" y1="228.80" x2="205.70000000000002" y2="228.80" stroke="#333" stroke-width="0.5"/>
<text x="206.50" y="231.00" font-size="6.4" text-anchor="start" fill="#1a1a1a" stroke="#1a1a1a" stroke-width="0.1" font-family="DejaVu Sans, Liberation Sans, sans-serif" >−0.004</text>
<line x1="203.9" y1="252.95" x2="205.70000000000002" y2="252.95" stroke="#333" stroke-width="0.5"/>
<text x="206.50" y="255.15" font-size="6.4" text-anchor="start" fill="#1a1a1a" stroke="#1a1a1a" stroke-width="0.1" font-family="DejaVu Sans, Liberation Sans, sans-serif" >−0.006</text>
<line x1="203.9" y1="277.10" x2="205.70000000000002" y2="277.10" stroke="#333" stroke-width="0.5"/>
<text x="206.50" y="279.30" font-size="6.4" text-anchor="start" fill="#1a1a1a" stroke="#1a1a1a" stroke-width="0.1" font-family="DejaVu Sans, Liberation Sans, sans-serif" >−0.008</text>
<line x1="203.9" y1="301.25" x2="205.70000000000002" y2="301.25" stroke="#333" stroke-width="0.5"/>
<text x="206.50" y="303.45" font-size="6.4" text-anchor="start" fill="#1a1a1a" stroke="#1a1a1a" stroke-width="0.1" font-family="DejaVu Sans, Liberation Sans, sans-serif" >−0.010</text>
<defs><clipPath id="i2clip"><rect x="257.30" y="174.00" width="147.10" height="145.70"/></clipPath><filter id="i2r1" x="-20%" y="-20%" width="140%" height="140%" color-interpolation-filters="sRGB"><feTurbulence type="fractalNoise" baseFrequency="0.1" numOctaves="2" seed="3" result="t"/><feDisplacementMap in="SourceGraphic" in2="t" scale="6" xChannelSelector="R" yChannelSelector="G" result="d"/><feGaussianBlur in="d" stdDeviation="1.5"/></filter><filter id="i2r2" x="-20%" y="-20%" width="140%" height="140%" color-interpolation-filters="sRGB"><feTurbulence type="fractalNoise" baseFrequency="0.12" numOctaves="2" seed="5" result="t"/><feDisplacementMap in="SourceGraphic" in2="t" scale="5" xChannelSelector="R" yChannelSelector="G" result="d"/><feGaussianBlur in="d" stdDeviation="2.0"/></filter><filter id="i2b3" x="-50%" y="-50%" width="200%" height="200%"><feGaussianBlur stdDeviation="8"/></filter><clipPath id="i2ccbody"><path d="M347.77,310.96 C350.10,311.93 353.04,312.90 355.12,312.41 C357.21,311.93 359.00,309.38 360.27,308.04 C361.54,306.71 361.52,306.39 362.77,304.40 C364.02,302.41 365.57,298.86 367.77,296.10 C369.98,293.33 373.56,290.54 376.01,287.79 C378.46,285.05 380.57,282.38 382.48,279.63 C384.39,276.89 386.11,274.07 387.48,271.33 C388.86,268.58 390.06,265.91 390.72,263.17 C391.38,260.42 391.01,257.58 391.46,254.86 C391.90,252.14 393.22,249.55 393.37,246.85 C393.51,244.15 393.69,242.70 392.34,238.69 C390.99,234.68 387.92,227.28 385.28,222.81 C382.63,218.34 379.39,215.16 376.45,211.88 C373.51,208.60 370.57,206.05 367.62,203.14 C364.68,200.23 361.50,197.31 358.80,194.40 C356.10,191.48 353.90,188.33 351.44,185.66 C348.99,182.98 346.22,180.56 344.09,178.37 C341.96,176.19 346.12,173.51 338.65,172.54 C331.17,171.57 306.65,171.21 299.22,172.54 C291.79,173.88 296.16,178.01 294.07,180.56 C291.99,183.11 288.93,185.53 286.72,187.84 C284.51,190.15 283.29,191.36 280.84,194.40 C278.38,197.43 274.00,201.34 272.01,206.05 C270.02,210.76 268.75,217.15 268.92,222.66 C269.09,228.18 270.98,235.15 273.04,239.13 C275.10,243.11 278.95,243.94 281.28,246.56 C283.61,249.18 285.10,252.12 287.01,254.86 C288.93,257.61 290.69,260.28 292.75,263.02 C294.81,265.77 296.92,268.56 299.37,271.33 C301.82,274.10 304.45,276.89 307.46,279.63 C310.48,282.38 314.18,285.05 317.46,287.79 C320.75,290.54 324.94,294.18 327.17,296.10 C329.40,298.01 328.52,297.55 330.85,299.30 C333.18,301.05 338.33,304.64 341.15,306.59 C343.97,308.53 345.44,309.99 347.77,310.96Z"/></clipPath><filter id="i2b4" x="-50%" y="-50%" width="200%" height="200%"><feGaussianBlur stdDeviation="8"/></filter><filter id="i2n5" x="0" y="0" width="100%" height="100%" color-interpolation-filters="sRGB"><feTurbulence type="fractalNoise" baseFrequency="0.45" numOctaves="2" seed="5"/><feColorMatrix type="matrix" values="0 0 0 0 0.000 0 0 0 0 0.439 0 0 0 0 1.000 3.0 0 0 0 -1.35"/></filter><clipPath id="i2c6"><path d="M347.47,309.56 C349.75,310.51 352.64,311.47 354.68,310.99 C356.72,310.51 358.47,308.02 359.72,306.71 C360.97,305.40 360.95,305.09 362.17,303.14 C363.40,301.19 364.91,297.71 367.08,295.00 C369.24,292.29 372.75,289.55 375.15,286.86 C377.55,284.17 379.62,281.55 381.49,278.86 C383.37,276.17 385.05,273.41 386.39,270.73 C387.74,268.04 388.92,265.42 389.56,262.73 C390.21,260.04 389.85,257.26 390.28,254.59 C390.72,251.93 392.01,249.38 392.16,246.74 C392.30,244.10 392.47,242.67 391.15,238.74 C389.83,234.81 386.83,227.56 384.23,223.18 C381.64,218.80 378.46,215.68 375.58,212.47 C372.70,209.26 369.81,206.76 366.93,203.90 C364.05,201.05 360.92,198.19 358.28,195.33 C355.64,192.48 353.48,189.38 351.07,186.77 C348.67,184.15 345.96,181.77 343.87,179.63 C341.78,177.49 345.86,174.87 338.53,173.92 C331.20,172.96 307.18,172.61 299.90,173.92 C292.62,175.23 296.89,179.27 294.85,181.77 C292.81,184.27 289.81,186.65 287.64,188.91 C285.48,191.17 284.28,192.36 281.88,195.33 C279.48,198.31 275.17,202.14 273.23,206.76 C271.28,211.37 270.03,217.63 270.20,223.03 C270.37,228.44 272.22,235.27 274.24,239.17 C276.26,243.07 280.03,243.88 282.31,246.45 C284.59,249.02 286.06,251.90 287.93,254.59 C289.81,257.28 291.54,259.90 293.55,262.59 C295.57,265.28 297.64,268.01 300.04,270.73 C302.44,273.44 305.02,276.17 307.97,278.86 C310.93,281.55 314.55,284.17 317.77,286.86 C320.99,289.55 325.10,293.12 327.29,295.00 C329.47,296.88 328.61,296.43 330.89,298.14 C333.17,299.85 338.22,303.38 340.98,305.28 C343.75,307.18 345.19,308.61 347.47,309.56Z"/></clipPath><filter id="i2n7" x="0" y="0" width="100%" height="100%" color-interpolation-filters="sRGB"><feTurbulence type="fractalNoise" baseFrequency="0.45" numOctaves="2" seed="9"/><feColorMatrix type="matrix" values="0 0 0 0 0.188 0 0 0 0 0.957 0 0 0 0 0.878 3.0 0 0 0 -1.3"/></filter><clipPath id="i2c8"><path d="M347.47,309.56 C349.75,310.51 352.64,311.47 354.68,310.99 C356.72,310.51 358.47,308.02 359.72,306.71 C360.97,305.40 360.95,305.09 362.17,303.14 C363.40,301.19 364.91,297.71 367.08,295.00 C369.24,292.29 372.75,289.55 375.15,286.86 C377.55,284.17 379.62,281.55 381.49,278.86 C383.37,276.17 385.05,273.41 386.39,270.73 C387.74,268.04 388.92,265.42 389.56,262.73 C390.21,260.04 389.85,257.26 390.28,254.59 C390.72,251.93 392.01,249.38 392.16,246.74 C392.30,244.10 392.47,242.67 391.15,238.74 C389.83,234.81 386.83,227.56 384.23,223.18 C381.64,218.80 378.46,215.68 375.58,212.47 C372.70,209.26 369.81,206.76 366.93,203.90 C364.05,201.05 360.92,198.19 358.28,195.33 C355.64,192.48 353.48,189.38 351.07,186.77 C348.67,184.15 345.96,181.77 343.87,179.63 C341.78,177.49 345.86,174.87 338.53,173.92 C331.20,172.96 307.18,172.61 299.90,173.92 C292.62,175.23 296.89,179.27 294.85,181.77 C292.81,184.27 289.81,186.65 287.64,188.91 C285.48,191.17 284.28,192.36 281.88,195.33 C279.48,198.31 275.17,202.14 273.23,206.76 C271.28,211.37 270.03,217.63 270.20,223.03 C270.37,228.44 272.22,235.27 274.24,239.17 C276.26,243.07 280.03,243.88 282.31,246.45 C284.59,249.02 286.06,251.90 287.93,254.59 C289.81,257.28 291.54,259.90 293.55,262.59 C295.57,265.28 297.64,268.01 300.04,270.73 C302.44,273.44 305.02,276.17 307.97,278.86 C310.93,281.55 314.55,284.17 317.77,286.86 C320.99,289.55 325.10,293.12 327.29,295.00 C329.47,296.88 328.61,296.43 330.89,298.14 C333.17,299.85 338.22,303.38 340.98,305.28 C343.75,307.18 345.19,308.61 347.47,309.56Z"/></clipPath><filter id="i2r9" x="-20%" y="-20%" width="140%" height="140%" color-interpolation-filters="sRGB"><feTurbulence type="fractalNoise" baseFrequency="0.1" numOctaves="2" seed="4" result="t"/><feDisplacementMap in="SourceGraphic" in2="t" scale="10" xChannelSelector="R" yChannelSelector="G" result="d"/><feGaussianBlur in="d" stdDeviation="3"/></filter><clipPath id="i2cc1000"><path d="M355.12,313.14 C357.94,313.63 360.64,313.26 363.21,312.41 C365.79,311.57 368.36,309.99 370.57,308.04 C372.77,306.10 374.49,303.67 376.45,300.76 C378.41,297.85 380.50,294.20 382.33,290.56 C384.17,286.92 386.14,282.79 387.48,278.90 C388.83,275.02 389.57,271.13 390.43,267.25 C391.28,263.36 392.14,259.48 392.63,255.59 C393.12,251.71 393.37,247.34 393.37,243.94 C393.37,240.54 393.24,238.35 392.63,235.19 C392.02,232.04 391.16,228.27 389.69,225.00 C388.22,221.72 386.01,218.68 383.81,215.52 C381.60,212.37 379.15,209.33 376.45,206.05 C373.75,202.78 370.57,199.01 367.62,195.85 C364.68,192.70 361.99,189.54 358.80,187.11 C355.61,184.68 351.69,182.91 348.50,181.28 C345.31,179.66 343.35,178.32 339.68,177.35 C336.00,176.38 330.85,175.82 326.44,175.46 C322.02,175.09 317.37,174.85 313.20,175.17 C309.03,175.48 304.98,176.09 301.43,177.35 C297.88,178.61 294.93,180.63 291.87,182.74 C288.80,184.85 285.86,187.48 283.04,190.03 C280.22,192.58 277.40,195.25 274.95,198.04 C272.50,200.83 269.93,203.87 268.33,206.78 C266.74,209.70 265.76,212.73 265.39,215.52 C265.02,218.32 265.39,220.99 266.13,223.54 C266.86,226.09 268.33,228.27 269.80,230.82 C271.27,233.37 272.99,236.17 274.95,238.84 C276.91,241.51 279.34,244.28 281.57,246.85 C283.80,249.42 286.11,251.66 288.34,254.28 C290.57,256.90 292.46,259.82 294.96,262.59 C297.46,265.35 300.55,267.93 303.34,270.89 C306.14,273.85 308.86,277.20 311.73,280.36 C314.60,283.52 317.61,286.80 320.55,289.83 C323.50,292.87 326.44,296.27 329.38,298.57 C332.32,300.88 335.39,301.85 338.20,303.67 C341.02,305.49 343.48,307.92 346.30,309.50 C349.11,311.08 352.30,312.66 355.12,313.14Z"/></clipPath><filter id="i2b10" x="-50%" y="-50%" width="200%" height="200%"><feGaussianBlur stdDeviation="1.5"/></filter><filter id="i2b11" x="-50%" y="-50%" width="200%" height="200%"><feGaussianBlur stdDeviation="6"/></filter><filter id="i2n12" x="0" y="0" width="100%" height="100%" color-interpolation-filters="sRGB"><feTurbulence type="fractalNoise" baseFrequency="0.4" numOctaves="2" seed="19"/><feColorMatrix type="matrix" values="0 0 0 0 0.000 0 0 0 0 0.251 0 0 0 0 0.910 3.0 0 0 0 -1.25"/></filter><clipPath id="i2c13"><path d="M347.47,309.56 C349.75,310.51 352.64,311.47 354.68,310.99 C356.72,310.51 358.47,308.02 359.72,306.71 C360.97,305.40 360.95,305.09 362.17,303.14 C363.40,301.19 364.91,297.71 367.08,295.00 C369.24,292.29 372.75,289.55 375.15,286.86 C377.55,284.17 379.62,281.55 381.49,278.86 C383.37,276.17 385.05,273.41 386.39,270.73 C387.74,268.04 388.92,265.42 389.56,262.73 C390.21,260.04 389.85,257.26 390.28,254.59 C390.72,251.93 392.01,249.38 392.16,246.74 C392.30,244.10 392.47,242.67 391.15,238.74 C389.83,234.81 386.83,227.56 384.23,223.18 C381.64,218.80 378.46,215.68 375.58,212.47 C372.70,209.26 369.81,206.76 366.93,203.90 C364.05,201.05 360.92,198.19 358.28,195.33 C355.64,192.48 353.48,189.38 351.07,186.77 C348.67,184.15 345.96,181.77 343.87,179.63 C341.78,177.49 345.86,174.87 338.53,173.92 C331.20,172.96 307.18,172.61 299.90,173.92 C292.62,175.23 296.89,179.27 294.85,181.77 C292.81,184.27 289.81,186.65 287.64,188.91 C285.48,191.17 284.28,192.36 281.88,195.33 C279.48,198.31 275.17,202.14 273.23,206.76 C271.28,211.37 270.03,217.63 270.20,223.03 C270.37,228.44 272.22,235.27 274.24,239.17 C276.26,243.07 280.03,243.88 282.31,246.45 C284.59,249.02 286.06,251.90 287.93,254.59 C289.81,257.28 291.54,259.90 293.55,262.59 C295.57,265.28 297.64,268.01 300.04,270.73 C302.44,273.44 305.02,276.17 307.97,278.86 C310.93,281.55 314.55,284.17 317.77,286.86 C320.99,289.55 325.10,293.12 327.29,295.00 C329.47,296.88 328.61,296.43 330.89,298.14 C333.17,299.85 338.22,303.38 340.98,305.28 C343.75,307.18 345.19,308.61 347.47,309.56Z"/></clipPath><filter id="i2m14f" x="-50%" y="-50%" width="200%" height="200%"><feGaussianBlur stdDeviation="4"/></filter><mask id="i2m14" maskUnits="userSpaceOnUse" x="257.3" y="174.0" width="147.09999999999997" height="145.7"><ellipse cx="369.10" cy="239.56" rx="14.71" ry="27.68" fill="#fff" filter="url(#i2m14f)"/></mask><filter id="i2n15" x="0" y="0" width="100%" height="100%" color-interpolation-filters="sRGB"><feTurbulence type="fractalNoise" baseFrequency="0.45" numOctaves="2" seed="23"/><feColorMatrix type="matrix" values="0 0 0 0 0.000 0 0 0 0 0.314 0 0 0 0 0.941 3.0 0 0 0 -1.4"/></filter><clipPath id="i2c16"><path d="M347.47,309.56 C349.75,310.51 352.64,311.47 354.68,310.99 C356.72,310.51 358.47,308.02 359.72,306.71 C360.97,305.40 360.95,305.09 362.17,303.14 C363.40,301.19 364.91,297.71 367.08,295.00 C369.24,292.29 372.75,289.55 375.15,286.86 C377.55,284.17 379.62,281.55 381.49,278.86 C383.37,276.17 385.05,273.41 386.39,270.73 C387.74,268.04 388.92,265.42 389.56,262.73 C390.21,260.04 389.85,257.26 390.28,254.59 C390.72,251.93 392.01,249.38 392.16,246.74 C392.30,244.10 392.47,242.67 391.15,238.74 C389.83,234.81 386.83,227.56 384.23,223.18 C381.64,218.80 378.46,215.68 375.58,212.47 C372.70,209.26 369.81,206.76 366.93,203.90 C364.05,201.05 360.92,198.19 358.28,195.33 C355.64,192.48 353.48,189.38 351.07,186.77 C348.67,184.15 345.96,181.77 343.87,179.63 C341.78,177.49 345.86,174.87 338.53,173.92 C331.20,172.96 307.18,172.61 299.90,173.92 C292.62,175.23 296.89,179.27 294.85,181.77 C292.81,184.27 289.81,186.65 287.64,188.91 C285.48,191.17 284.28,192.36 281.88,195.33 C279.48,198.31 275.17,202.14 273.23,206.76 C271.28,211.37 270.03,217.63 270.20,223.03 C270.37,228.44 272.22,235.27 274.24,239.17 C276.26,243.07 280.03,243.88 282.31,246.45 C284.59,249.02 286.06,251.90 287.93,254.59 C289.81,257.28 291.54,259.90 293.55,262.59 C295.57,265.28 297.64,268.01 300.04,270.73 C302.44,273.44 305.02,276.17 307.97,278.86 C310.93,281.55 314.55,284.17 317.77,286.86 C320.99,289.55 325.10,293.12 327.29,295.00 C329.47,296.88 328.61,296.43 330.89,298.14 C333.17,299.85 338.22,303.38 340.98,305.28 C343.75,307.18 345.19,308.61 347.47,309.56Z"/></clipPath><filter id="i2m17f" x="-50%" y="-50%" width="200%" height="200%"><feGaussianBlur stdDeviation="5"/></filter><mask id="i2m17" maskUnits="userSpaceOnUse" x="257.3" y="174.0" width="147.09999999999997" height="145.7"><ellipse cx="308.78" cy="194.40" rx="29.42" ry="17.48" fill="#fff" filter="url(#i2m17f)"/></mask><filter id="i2b18" x="-50%" y="-50%" width="200%" height="200%"><feGaussianBlur stdDeviation="4"/></filter><filter id="i2r19" x="-20%" y="-20%" width="140%" height="140%" color-interpolation-filters="sRGB"><feTurbulence type="fractalNoise" baseFrequency="0.2" numOctaves="2" seed="4" result="t"/><feDisplacementMap in="SourceGraphic" in2="t" scale="4" xChannelSelector="R" yChannelSelector="G" result="d"/><feGaussianBlur in="d" stdDeviation="2"/></filter><filter id="i2r20" x="-20%" y="-20%" width="140%" height="140%" color-interpolation-filters="sRGB"><feTurbulence type="fractalNoise" baseFrequency="0.2" numOctaves="2" seed="6" result="t"/><feDisplacementMap in="SourceGraphic" in2="t" scale="4" xChannelSelector="R" yChannelSelector="G" result="d"/><feGaussianBlur in="d" stdDeviation="1.2"/></filter><filter id="i2r21" x="-20%" y="-20%" width="140%" height="140%" color-interpolation-filters="sRGB"><feTurbulence type="fractalNoise" baseFrequency="0.2" numOctaves="2" seed="7" result="t"/><feDisplacementMap in="SourceGraphic" in2="t" scale="4" xChannelSelector="R" yChannelSelector="G" result="d"/><feGaussianBlur in="d" stdDeviation="1.0"/></filter><filter id="i2r22" x="-20%" y="-20%" width="140%" height="140%" color-interpolation-filters="sRGB"><feTurbulence type="fractalNoise" baseFrequency="0.2" numOctaves="2" seed="8" result="t"/><feDisplacementMap in="SourceGraphic" in2="t" scale="3" xChannelSelector="R" yChannelSelector="G" result="d"/><feGaussianBlur in="d" stdDeviation="1.2"/></filter><filter id="i2r23" x="-20%" y="-20%" width="140%" height="140%" color-interpolation-filters="sRGB"><feTurbulence type="fractalNoise" baseFrequency="0.2" numOctaves="2" seed="9" result="t"/><feDisplacementMap in="SourceGraphic" in2="t" scale="3" xChannelSelector="R" yChannelSelector="G" result="d"/><feGaussianBlur in="d" stdDeviation="1.5"/></filter><filter id="i2b24" x="-50%" y="-50%" width="200%" height="200%"><feGaussianBlur stdDeviation="0.7"/></filter><filter id="i2b25" x="-50%" y="-50%" width="200%" height="200%"><feGaussianBlur stdDeviation="0.5"/></filter><filter id="i2b26" x="-50%" y="-50%" width="200%" height="200%"><feGaussianBlur stdDeviation="0.6"/></filter><filter id="i2b27" x="-50%" y="-50%" width="200%" height="200%"><feGaussianBlur stdDeviation="1"/></filter><filter id="i2b28" x="-50%" y="-50%" width="200%" height="200%"><feGaussianBlur stdDeviation="1"/></filter></defs><g clip-path="url(#i2clip)"><rect x="257.30" y="174.00" width="147.10" height="145.70" fill="#b8ff40"/><path d="M355.12,313.14 C357.94,313.63 360.64,313.26 363.21,312.41 C365.79,311.57 368.36,309.99 370.57,308.04 C372.77,306.10 374.49,303.67 376.45,300.76 C378.41,297.85 380.50,294.20 382.33,290.56 C384.17,286.92 386.14,282.79 387.48,278.90 C388.83,275.02 389.57,271.13 390.43,267.25 C391.28,263.36 392.14,259.48 392.63,255.59 C393.12,251.71 393.37,247.34 393.37,243.94 C393.37,240.54 393.24,238.35 392.63,235.19 C392.02,232.04 391.16,228.27 389.69,225.00 C388.22,221.72 386.01,218.68 383.81,215.52 C381.60,212.37 379.15,209.33 376.45,206.05 C373.75,202.78 370.57,199.01 367.62,195.85 C364.68,192.70 361.99,189.54 358.80,187.11 C355.61,184.68 351.69,182.91 348.50,181.28 C345.31,179.66 343.35,178.32 339.68,177.35 C336.00,176.38 330.85,175.82 326.44,175.46 C322.02,175.09 317.37,174.85 313.20,175.17 C309.03,175.48 304.98,176.09 301.43,177.35 C297.88,178.61 294.93,180.63 291.87,182.74 C288.80,184.85 285.86,187.48 283.04,190.03 C280.22,192.58 277.40,195.25 274.95,198.04 C272.50,200.83 269.93,203.87 268.33,206.78 C266.74,209.70 265.76,212.73 265.39,215.52 C265.02,218.32 265.39,220.99 266.13,223.54 C266.86,226.09 268.33,228.27 269.80,230.82 C271.27,233.37 272.99,236.17 274.95,238.84 C276.91,241.51 279.34,244.28 281.57,246.85 C283.80,249.42 286.11,251.66 288.34,254.28 C290.57,256.90 292.46,259.82 294.96,262.59 C297.46,265.35 300.55,267.93 303.34,270.89 C306.14,273.85 308.86,277.20 311.73,280.36 C314.60,283.52 317.61,286.80 320.55,289.83 C323.50,292.87 326.44,296.27 329.38,298.57 C332.32,300.88 335.39,301.85 338.20,303.67 C341.02,305.49 343.48,307.92 346.30,309.50 C349.11,311.08 352.30,312.66 355.12,313.14Z" fill="#40dce8" opacity="0.85" filter="url(#i2r1)"/><path d="M347.77,310.96 C350.10,311.93 353.04,312.90 355.12,312.41 C357.21,311.93 359.00,309.38 360.27,308.04 C361.54,306.71 361.52,306.39 362.77,304.40 C364.02,302.41 365.57,298.86 367.77,296.10 C369.98,293.33 373.56,290.54 376.01,287.79 C378.46,285.05 380.57,282.38 382.48,279.63 C384.39,276.89 386.11,274.07 387.48,271.33 C388.86,268.58 390.06,265.91 390.72,263.17 C391.38,260.42 391.01,257.58 391.46,254.86 C391.90,252.14 393.22,249.55 393.37,246.85 C393.51,244.15 393.69,242.70 392.34,238.69 C390.99,234.68 387.92,227.28 385.28,222.81 C382.63,218.34 379.39,215.16 376.45,211.88 C373.51,208.60 370.57,206.05 367.62,203.14 C364.68,200.23 361.50,197.31 358.80,194.40 C356.10,191.48 353.90,188.33 351.44,185.66 C348.99,182.98 346.22,180.56 344.09,178.37 C341.96,176.19 346.12,173.51 338.65,172.54 C331.17,171.57 306.65,171.21 299.22,172.54 C291.79,173.88 296.16,178.01 294.07,180.56 C291.99,183.11 288.93,185.53 286.72,187.84 C284.51,190.15 283.29,191.36 280.84,194.40 C278.38,197.43 274.00,201.34 272.01,206.05 C270.02,210.76 268.75,217.15 268.92,222.66 C269.09,228.18 270.98,235.15 273.04,239.13 C275.10,243.11 278.95,243.94 281.28,246.56 C283.61,249.18 285.10,252.12 287.01,254.86 C288.93,257.61 290.69,260.28 292.75,263.02 C294.81,265.77 296.92,268.56 299.37,271.33 C301.82,274.10 304.45,276.89 307.46,279.63 C310.48,282.38 314.18,285.05 317.46,287.79 C320.75,290.54 324.94,294.18 327.17,296.10 C329.40,298.01 328.52,297.55 330.85,299.30 C333.18,301.05 338.33,304.64 341.15,306.59 C343.97,308.53 345.44,309.99 347.77,310.96Z" fill="#10d0f2" opacity="1.0" filter="url(#i2r2)"/><g clip-path="url(#i2ccbody)"><g filter="url(#i2b3)"><ellipse cx="323.50" cy="261.42" rx="23.54" ry="29.14" fill="#28e4e4" opacity="0.45"/></g></g><g clip-path="url(#i2ccbody)"><g filter="url(#i2b4)"><ellipse cx="301.43" cy="229.37" rx="17.65" ry="21.85" fill="#20dce8" opacity="0.4"/></g></g><g clip-path="url(#i2c6)"><g><rect x="257.30" y="174.00" width="147.10" height="145.70" filter="url(#i2n5)" opacity="0.55"/></g></g><g clip-path="url(#i2c8)"><g><rect x="257.30" y="174.00" width="147.10" height="145.70" filter="url(#i2n7)" opacity="0.55"/></g></g><g clip-path="url(#i2cc1000)"><g filter="url(#i2r9)"><ellipse cx="369.10" cy="239.56" rx="13.97" ry="26.23" fill="#0064f4" opacity="0.45"/></g></g><g filter="url(#i2b10)"><ellipse cx="384.54" cy="216.25" rx="4.41" ry="5.10" fill="#0060f0" opacity="0.8"/></g><g clip-path="url(#i2cc1000)"><g filter="url(#i2b11)"><ellipse cx="308.78" cy="194.40" rx="26.48" ry="14.57" fill="#0088ff" opacity="0.35"/></g></g><g clip-path="url(#i2c13)"><g mask="url(#i2m14)"><rect x="257.30" y="174.00" width="147.10" height="145.70" filter="url(#i2n12)" opacity="0.7"/></g></g><g clip-path="url(#i2c16)"><g mask="url(#i2m17)"><rect x="257.30" y="174.00" width="147.10" height="145.70" filter="url(#i2n15)" opacity="0.5"/></g></g><g clip-path="url(#i2cc1000)"><g filter="url(#i2b18)"><ellipse cx="316.14" cy="212.61" rx="17.65" ry="18.94" fill="#60f0b8" opacity="0.55"/></g></g><g filter="url(#i2r19)"><ellipse cx="320.55" cy="212.61" rx="10.00" ry="13.40" fill="#b0ff60" opacity="0.7"/></g><g filter="url(#i2r20)"><ellipse cx="320.55" cy="212.61" rx="7.94" ry="11.36" fill="#ffd800" opacity="1.0"/></g><g filter="url(#i2r21)"><ellipse cx="320.26" cy="212.17" rx="6.62" ry="9.91" fill="#ff7000" opacity="1.0"/></g><g filter="url(#i2r22)"><ellipse cx="319.08" cy="211.88" rx="4.71" ry="8.01" fill="#f44000" opacity="1.0"/></g><g filter="url(#i2r23)"><ellipse cx="316.88" cy="211.88" rx="2.65" ry="5.83" fill="#d41800" opacity="1.0"/></g><g filter="url(#i2b24)"><ellipse cx="293.19" cy="223.39" rx="2.65" ry="2.62" fill="#ffd000" opacity="1.0"/></g><g filter="url(#i2b25)"><ellipse cx="293.19" cy="223.39" rx="1.62" ry="1.60" fill="#ff5000" opacity="1.0"/></g><g filter="url(#i2b26)"><ellipse cx="272.60" cy="227.76" rx="1.91" ry="2.19" fill="#0000b4" opacity="1.0"/></g><g filter="url(#i2b27)"><ellipse cx="299.22" cy="177.64" rx="3.68" ry="2.62" fill="#ffe000" opacity="1.0"/></g><g filter="url(#i2b28)"><ellipse cx="344.09" cy="309.06" rx="2.94" ry="2.91" fill="#e0f020" opacity="1.0"/></g></g>
<rect x="257.30" y="174.00" width="147.10" height="145.70" fill="none" stroke="#333" stroke-width="0.6"/>
<line x1="257.30" y1="319.7" x2="257.30" y2="321.5" stroke="#333" stroke-width="0.5"/>
<text x="257.30" y="328.50" font-size="6.4" text-anchor="middle" fill="#1a1a1a" stroke="#1a1a1a" stroke-width="0.1" font-family="DejaVu Sans, Liberation Sans, sans-serif" >0</text>
<line x1="255.5" y1="319.70" x2="257.3" y2="319.70" stroke="#333" stroke-width="0.5"/>
<text x="254.70" y="321.90" font-size="6.4" text-anchor="end" fill="#1a1a1a" stroke="#1a1a1a" stroke-width="0.1" font-family="DejaVu Sans, Liberation Sans, sans-serif" >0</text>
<line x1="286.03" y1="319.7" x2="286.03" y2="321.5" stroke="#333" stroke-width="0.5"/>
<text x="286.03" y="328.50" font-size="6.4" text-anchor="middle" fill="#1a1a1a" stroke="#1a1a1a" stroke-width="0.1" font-family="DejaVu Sans, Liberation Sans, sans-serif" >100</text>
<line x1="255.5" y1="291.24" x2="257.3" y2="291.24" stroke="#333" stroke-width="0.5"/>
<text x="254.70" y="293.44" font-size="6.4" text-anchor="end" fill="#1a1a1a" stroke="#1a1a1a" stroke-width="0.1" font-family="DejaVu Sans, Liberation Sans, sans-serif" >100</text>
<line x1="314.76" y1="319.7" x2="314.76" y2="321.5" stroke="#333" stroke-width="0.5"/>
<text x="314.76" y="328.50" font-size="6.4" text-anchor="middle" fill="#1a1a1a" stroke="#1a1a1a" stroke-width="0.1" font-family="DejaVu Sans, Liberation Sans, sans-serif" >200</text>
<line x1="255.5" y1="262.79" x2="257.3" y2="262.79" stroke="#333" stroke-width="0.5"/>
<text x="254.70" y="264.99" font-size="6.4" text-anchor="end" fill="#1a1a1a" stroke="#1a1a1a" stroke-width="0.1" font-family="DejaVu Sans, Liberation Sans, sans-serif" >200</text>
<line x1="343.49" y1="319.7" x2="343.49" y2="321.5" stroke="#333" stroke-width="0.5"/>
<text x="343.49" y="328.50" font-size="6.4" text-anchor="middle" fill="#1a1a1a" stroke="#1a1a1a" stroke-width="0.1" font-family="DejaVu Sans, Liberation Sans, sans-serif" >300</text>
<line x1="255.5" y1="234.33" x2="257.3" y2="234.33" stroke="#333" stroke-width="0.5"/>
<text x="254.70" y="236.53" font-size="6.4" text-anchor="end" fill="#1a1a1a" stroke="#1a1a1a" stroke-width="0.1" font-family="DejaVu Sans, Liberation Sans, sans-serif" >300</text>
<line x1="372.22" y1="319.7" x2="372.22" y2="321.5" stroke="#333" stroke-width="0.5"/>
<text x="372.22" y="328.50" font-size="6.4" text-anchor="middle" fill="#1a1a1a" stroke="#1a1a1a" stroke-width="0.1" font-family="DejaVu Sans, Liberation Sans, sans-serif" >400</text>
<line x1="255.5" y1="205.87" x2="257.3" y2="205.87" stroke="#333" stroke-width="0.5"/>
<text x="254.70" y="208.07" font-size="6.4" text-anchor="end" fill="#1a1a1a" stroke="#1a1a1a" stroke-width="0.1" font-family="DejaVu Sans, Liberation Sans, sans-serif" >400</text>
<line x1="400.95" y1="319.7" x2="400.95" y2="321.5" stroke="#333" stroke-width="0.5"/>
<text x="400.95" y="328.50" font-size="6.4" text-anchor="middle" fill="#1a1a1a" stroke="#1a1a1a" stroke-width="0.1" font-family="DejaVu Sans, Liberation Sans, sans-serif" >500</text>
<line x1="255.5" y1="177.41" x2="257.3" y2="177.41" stroke="#333" stroke-width="0.5"/>
<text x="254.70" y="179.61" font-size="6.4" text-anchor="end" fill="#1a1a1a" stroke="#1a1a1a" stroke-width="0.1" font-family="DejaVu Sans, Liberation Sans, sans-serif" >500</text>
<text x="331.20" y="170.30" font-size="7.3" text-anchor="middle" fill="#1a1a1a" stroke="#1a1a1a" stroke-width="0.28" font-family="DejaVu Sans, Liberation Sans, sans-serif" >Real</text>
<text x="0.00" y="0.00" font-size="20" text-anchor="start" fill="#000" stroke="#000" stroke-width="0.28" font-family="Liberation Sans, Arial, sans-serif" font-weight="bold" transform="translate(227.4,175.0) scale(0.9,1)">D</text>
<rect x="413.5" y="174.00" width="7.60" height="145.80" fill="url(#gD)" stroke="#333" stroke-width="0.5"/>
<line x1="421.1" y1="193.80" x2="422.90000000000003" y2="193.80" stroke="#333" stroke-width="0.5"/>
<text x="423.70" y="196.00" font-size="6.4" text-anchor="start" fill="#1a1a1a" stroke="#1a1a1a" stroke-width="0.1" font-family="DejaVu Sans, Liberation Sans, sans-serif" >0.004</text>
<line x1="421.1" y1="215.72" x2="422.90000000000003" y2="215.72" stroke="#333" stroke-width="0.5"/>
<text x="423.70" y="217.92" font-size="6.4" text-anchor="start" fill="#1a1a1a" stroke="#1a1a1a" stroke-width="0.1" font-family="DejaVu Sans, Liberation Sans, sans-serif" >0.002</text>
<line x1="421.1" y1="237.64" x2="422.90000000000003" y2="237.64" stroke="#333" stroke-width="0.5"/>
<text x="423.70" y="239.84" font-size="6.4" text-anchor="start" fill="#1a1a1a" stroke="#1a1a1a" stroke-width="0.1" font-family="DejaVu Sans, Liberation Sans, sans-serif" >0.000</text>
<line x1="421.1" y1="259.56" x2="422.90000000000003" y2="259.56" stroke="#333" stroke-width="0.5"/>
<text x="423.70" y="261.76" font-size="6.4" text-anchor="start" fill="#1a1a1a" stroke="#1a1a1a" stroke-width="0.1" font-family="DejaVu Sans, Liberation Sans, sans-serif" >−0.002</text>
<line x1="421.1" y1="281.48" x2="422.90000000000003" y2="281.48" stroke="#333" stroke-width="0.5"/>
<text x="423.70" y="283.68" font-size="6.4" text-anchor="start" fill="#1a1a1a" stroke="#1a1a1a" stroke-width="0.1" font-family="DejaVu Sans, Liberation Sans, sans-serif" >−0.004</text>
<line x1="421.1" y1="303.40" x2="422.90000000000003" y2="303.40" stroke="#333" stroke-width="0.5"/>
<text x="423.70" y="305.60" font-size="6.4" text-anchor="start" fill="#1a1a1a" stroke="#1a1a1a" stroke-width="0.1" font-family="DejaVu Sans, Liberation Sans, sans-serif" >−0.006</text>
<defs><clipPath id="i3clip"><rect x="31.90" y="341.60" width="90.00" height="89.40"/></clipPath><filter id="i3r1" x="-20%" y="-20%" width="140%" height="140%" color-interpolation-filters="sRGB"><feTurbulence type="fractalNoise" baseFrequency="0.1" numOctaves="2" seed="3" result="t"/><feDisplacementMap in="SourceGraphic" in2="t" scale="4" xChannelSelector="R" yChannelSelector="G" result="d"/><feGaussianBlur in="d" stdDeviation="1.5"/></filter><filter id="i3r2" x="-20%" y="-20%" width="140%" height="140%" color-interpolation-filters="sRGB"><feTurbulence type="fractalNoise" baseFrequency="0.12" numOctaves="2" seed="5" result="t"/><feDisplacementMap in="SourceGraphic" in2="t" scale="5" xChannelSelector="R" yChannelSelector="G" result="d"/><feGaussianBlur in="d" stdDeviation="1.5"/></filter><filter id="i3b3" x="-50%" y="-50%" width="200%" height="200%"><feGaussianBlur stdDeviation="6"/></filter><clipPath id="i3cc950"><path d="M91.07,347.83 C92.71,347.55 94.28,347.76 95.77,348.25 C97.27,348.75 98.77,349.67 100.05,350.80 C101.33,351.93 102.33,353.35 103.47,355.05 C104.61,356.75 105.82,358.87 106.89,360.99 C107.96,363.12 109.10,365.52 109.88,367.79 C110.67,370.05 111.09,372.32 111.59,374.58 C112.09,376.85 112.59,379.11 112.87,381.38 C113.16,383.64 113.30,386.19 113.30,388.17 C113.30,390.15 113.23,391.43 112.87,393.27 C112.52,395.11 112.02,397.30 111.16,399.21 C110.31,401.12 109.03,402.89 107.74,404.73 C106.46,406.57 105.04,408.34 103.47,410.25 C101.90,412.16 100.05,414.36 98.34,416.20 C96.63,418.04 95.06,419.88 93.21,421.29 C91.36,422.71 89.08,423.74 87.22,424.69 C85.37,425.64 84.23,426.42 82.09,426.98 C79.96,427.55 76.96,427.88 74.40,428.09 C71.83,428.30 69.13,428.44 66.70,428.26 C64.28,428.07 61.93,427.72 59.86,426.98 C57.80,426.25 56.09,425.07 54.31,423.84 C52.53,422.61 50.82,421.08 49.18,419.60 C47.54,418.11 45.90,416.55 44.47,414.92 C43.05,413.30 41.55,411.53 40.63,409.83 C39.70,408.13 39.13,406.36 38.92,404.73 C38.70,403.11 38.92,401.55 39.34,400.06 C39.77,398.58 40.63,397.30 41.48,395.82 C42.34,394.33 43.33,392.70 44.47,391.14 C45.61,389.59 47.02,387.97 48.32,386.47 C49.62,384.97 50.96,383.67 52.25,382.14 C53.55,380.61 54.65,378.91 56.10,377.30 C57.56,375.69 59.35,374.19 60.98,372.46 C62.60,370.73 64.18,368.78 65.85,366.94 C67.52,365.10 69.27,363.19 70.98,361.42 C72.69,359.65 74.40,357.67 76.11,356.32 C77.82,354.98 79.60,354.41 81.24,353.35 C82.88,352.29 84.30,350.87 85.94,349.95 C87.58,349.03 89.43,348.11 91.07,347.83Z"/></clipPath><filter id="i3b4" x="-50%" y="-50%" width="200%" height="200%"><feGaussianBlur stdDeviation="7"/></filter><clipPath id="i3cc1000"><path d="M91.75,345.62 C93.47,345.33 95.12,345.55 96.70,346.07 C98.27,346.59 99.85,347.56 101.20,348.75 C102.55,349.94 103.60,351.43 104.80,353.22 C106.00,355.01 107.28,357.25 108.40,359.48 C109.53,361.72 110.73,364.25 111.55,366.63 C112.38,369.02 112.83,371.40 113.35,373.78 C113.87,376.17 114.40,378.55 114.70,380.94 C115.00,383.32 115.15,386.00 115.15,388.09 C115.15,390.17 115.07,391.51 114.70,393.45 C114.32,395.39 113.80,397.70 112.90,399.71 C112.00,401.72 110.65,403.58 109.30,405.52 C107.95,407.46 106.45,409.32 104.80,411.33 C103.15,413.34 101.20,415.65 99.40,417.59 C97.60,419.53 95.95,421.46 94.00,422.95 C92.05,424.44 89.65,425.53 87.70,426.53 C85.75,427.53 84.55,428.35 82.30,428.94 C80.05,429.54 76.90,429.88 74.20,430.11 C71.50,430.33 68.65,430.48 66.10,430.28 C63.55,430.09 61.07,429.72 58.90,428.94 C56.73,428.17 54.92,426.93 53.05,425.64 C51.17,424.34 49.38,422.73 47.65,421.17 C45.92,419.60 44.20,417.96 42.70,416.25 C41.20,414.54 39.62,412.67 38.65,410.88 C37.67,409.10 37.07,407.23 36.85,405.52 C36.62,403.81 36.85,402.17 37.30,400.60 C37.75,399.04 38.65,397.70 39.55,396.13 C40.45,394.57 41.50,392.86 42.70,391.22 C43.90,389.58 45.38,387.88 46.75,386.30 C48.12,384.72 49.52,383.35 50.89,381.74 C52.26,380.13 53.41,378.34 54.94,376.64 C56.47,374.95 58.36,373.37 60.07,371.55 C61.78,369.73 63.44,367.68 65.20,365.74 C66.95,363.80 68.80,361.79 70.60,359.93 C72.40,358.06 74.20,355.98 76.00,354.56 C77.80,353.15 79.68,352.55 81.40,351.43 C83.12,350.32 84.62,348.83 86.35,347.86 C88.07,346.89 90.03,345.92 91.75,345.62Z"/></clipPath><filter id="i3b5" x="-50%" y="-50%" width="200%" height="200%"><feGaussianBlur stdDeviation="4"/></filter><filter id="i3b6" x="-50%" y="-50%" width="200%" height="200%"><feGaussianBlur stdDeviation="4"/></filter><filter id="i3n7" x="0" y="0" width="100%" height="100%" color-interpolation-filters="sRGB"><feTurbulence type="fractalNoise" baseFrequency="0.45" numOctaves="2" seed="5"/><feColorMatrix type="matrix" values="0 0 0 0 0.227 0 0 0 0 0.361 0 0 0 0 0.549 2.6 0 0 0 -1.3"/></filter><clipPath id="i3c8"><path d="M90.80,348.71 C92.40,348.44 93.94,348.64 95.40,349.13 C96.87,349.61 98.33,350.51 99.59,351.62 C100.84,352.73 101.82,354.12 102.94,355.78 C104.05,357.44 105.24,359.52 106.28,361.60 C107.33,363.68 108.45,366.03 109.21,368.25 C109.98,370.47 110.40,372.69 110.89,374.90 C111.38,377.12 111.86,379.34 112.14,381.55 C112.42,383.77 112.56,386.27 112.56,388.21 C112.56,390.15 112.49,391.39 112.14,393.19 C111.79,394.99 111.31,397.14 110.47,399.01 C109.63,400.88 108.38,402.62 107.12,404.42 C105.87,406.22 104.47,407.95 102.94,409.82 C101.40,411.69 99.59,413.84 97.91,415.64 C96.24,417.44 94.71,419.24 92.89,420.63 C91.08,422.02 88.85,423.03 87.03,423.96 C85.22,424.88 84.10,425.65 82.01,426.20 C79.92,426.76 76.99,427.07 74.48,427.28 C71.97,427.49 69.32,427.63 66.95,427.45 C64.57,427.27 62.27,426.92 60.25,426.20 C58.23,425.48 56.55,424.33 54.81,423.12 C53.07,421.92 51.39,420.42 49.79,418.97 C48.18,417.51 46.58,415.99 45.18,414.39 C43.79,412.80 42.32,411.07 41.42,409.41 C40.51,407.74 39.95,406.01 39.74,404.42 C39.53,402.82 39.74,401.30 40.16,399.84 C40.58,398.39 41.42,397.14 42.25,395.69 C43.09,394.23 44.07,392.64 45.18,391.12 C46.30,389.59 47.68,388.01 48.95,386.54 C50.22,385.07 51.53,383.80 52.80,382.30 C54.07,380.81 55.14,379.14 56.57,377.56 C57.99,375.98 59.75,374.51 61.34,372.82 C62.93,371.13 64.48,369.22 66.11,367.42 C67.74,365.62 69.46,363.75 71.13,362.02 C72.80,360.28 74.48,358.34 76.15,357.03 C77.83,355.71 79.57,355.16 81.17,354.12 C82.78,353.08 84.17,351.69 85.78,350.79 C87.38,349.89 89.20,348.99 90.80,348.71Z"/></clipPath><filter id="i3n9" x="0" y="0" width="100%" height="100%" color-interpolation-filters="sRGB"><feTurbulence type="fractalNoise" baseFrequency="0.45" numOctaves="2" seed="15"/><feColorMatrix type="matrix" values="0 0 0 0 0.282 0 0 0 0 0.137 0 0 0 0 0.478 2.6 0 0 0 -1.3"/></filter><clipPath id="i3c10"><path d="M90.80,348.71 C92.40,348.44 93.94,348.64 95.40,349.13 C96.87,349.61 98.33,350.51 99.59,351.62 C100.84,352.73 101.82,354.12 102.94,355.78 C104.05,357.44 105.24,359.52 106.28,361.60 C107.33,363.68 108.45,366.03 109.21,368.25 C109.98,370.47 110.40,372.69 110.89,374.90 C111.38,377.12 111.86,379.34 112.14,381.55 C112.42,383.77 112.56,386.27 112.56,388.21 C112.56,390.15 112.49,391.39 112.14,393.19 C111.79,394.99 111.31,397.14 110.47,399.01 C109.63,400.88 108.38,402.62 107.12,404.42 C105.87,406.22 104.47,407.95 102.94,409.82 C101.40,411.69 99.59,413.84 97.91,415.64 C96.24,417.44 94.71,419.24 92.89,420.63 C91.08,422.02 88.85,423.03 87.03,423.96 C85.22,424.88 84.10,425.65 82.01,426.20 C79.92,426.76 76.99,427.07 74.48,427.28 C71.97,427.49 69.32,427.63 66.95,427.45 C64.57,427.27 62.27,426.92 60.25,426.20 C58.23,425.48 56.55,424.33 54.81,423.12 C53.07,421.92 51.39,420.42 49.79,418.97 C48.18,417.51 46.58,415.99 45.18,414.39 C43.79,412.80 42.32,411.07 41.42,409.41 C40.51,407.74 39.95,406.01 39.74,404.42 C39.53,402.82 39.74,401.30 40.16,399.84 C40.58,398.39 41.42,397.14 42.25,395.69 C43.09,394.23 44.07,392.64 45.18,391.12 C46.30,389.59 47.68,388.01 48.95,386.54 C50.22,385.07 51.53,383.80 52.80,382.30 C54.07,380.81 55.14,379.14 56.57,377.56 C57.99,375.98 59.75,374.51 61.34,372.82 C62.93,371.13 64.48,369.22 66.11,367.42 C67.74,365.62 69.46,363.75 71.13,362.02 C72.80,360.28 74.48,358.34 76.15,357.03 C77.83,355.71 79.57,355.16 81.17,354.12 C82.78,353.08 84.17,351.69 85.78,350.79 C87.38,349.89 89.20,348.99 90.80,348.71Z"/></clipPath><filter id="i3b11" x="-50%" y="-50%" width="200%" height="200%"><feGaussianBlur stdDeviation="3"/></filter><filter id="i3r12" x="-20%" y="-20%" width="140%" height="140%" color-interpolation-filters="sRGB"><feTurbulence type="fractalNoise" baseFrequency="0.2" numOctaves="2" seed="4" result="t"/><feDisplacementMap in="SourceGraphic" in2="t" scale="3" xChannelSelector="R" yChannelSelector="G" result="d"/><feGaussianBlur in="d" stdDeviation="1.4"/></filter><filter id="i3r13" x="-20%" y="-20%" width="140%" height="140%" color-interpolation-filters="sRGB"><feTurbulence type="fractalNoise" baseFrequency="0.2" numOctaves="2" seed="6" result="t"/><feDisplacementMap in="SourceGraphic" in2="t" scale="3" xChannelSelector="R" yChannelSelector="G" result="d"/><feGaussianBlur in="d" stdDeviation="1.1"/></filter><filter id="i3b14" x="-50%" y="-50%" width="200%" height="200%"><feGaussianBlur stdDeviation="0.6"/></filter><filter id="i3b15" x="-50%" y="-50%" width="200%" height="200%"><feGaussianBlur stdDeviation="0.6"/></filter></defs><g clip-path="url(#i3clip)"><rect x="31.90" y="341.60" width="90.00" height="89.40" fill="#460a5c"/><path d="M92.42,347.48 C94.10,347.19 95.70,347.41 97.22,347.92 C98.75,348.42 100.28,349.36 101.59,350.52 C102.90,351.67 103.92,353.12 105.08,354.85 C106.25,356.59 107.48,358.76 108.57,360.92 C109.66,363.09 110.83,365.55 111.63,367.86 C112.43,370.17 112.87,372.49 113.37,374.80 C113.88,377.11 114.39,379.42 114.68,381.74 C114.98,384.05 115.12,386.65 115.12,388.67 C115.12,390.70 115.05,392.00 114.68,393.88 C114.32,395.76 113.81,398.00 112.94,399.95 C112.07,401.90 110.76,403.71 109.45,405.58 C108.14,407.46 106.68,409.27 105.08,411.22 C103.48,413.17 101.59,415.41 99.84,417.29 C98.10,419.17 96.50,421.05 94.61,422.49 C92.71,423.94 90.39,424.99 88.49,425.96 C86.60,426.93 85.44,427.73 83.26,428.30 C81.07,428.88 78.02,429.22 75.40,429.43 C72.78,429.65 70.02,429.79 67.54,429.61 C65.07,429.42 62.67,429.06 60.56,428.30 C58.45,427.55 56.70,426.35 54.88,425.10 C53.07,423.84 51.32,422.28 49.65,420.76 C47.97,419.24 46.30,417.65 44.84,415.99 C43.39,414.33 41.86,412.52 40.92,410.79 C39.97,409.05 39.39,407.25 39.17,405.58 C38.95,403.92 39.17,402.33 39.61,400.82 C40.04,399.30 40.92,398.00 41.79,396.48 C42.66,394.96 43.68,393.30 44.84,391.71 C46.01,390.12 47.45,388.47 48.77,386.94 C50.10,385.41 51.46,384.08 52.79,382.52 C54.11,380.96 55.23,379.22 56.72,377.57 C58.20,375.93 60.03,374.39 61.69,372.63 C63.35,370.87 64.97,368.87 66.67,367.00 C68.37,365.12 70.16,363.17 71.91,361.36 C73.65,359.55 75.40,357.53 77.15,356.16 C78.89,354.78 80.71,354.20 82.38,353.12 C84.06,352.04 85.51,350.59 87.18,349.65 C88.86,348.71 90.75,347.77 92.42,347.48Z" fill="#472472" opacity="1.0" filter="url(#i3r1)"/><path d="M89.00,346.92 C90.60,346.65 92.14,346.86 93.60,347.34 C95.07,347.83 96.53,348.73 97.79,349.83 C99.04,350.94 100.02,352.33 101.14,353.99 C102.25,355.65 103.44,357.73 104.48,359.81 C105.53,361.89 106.65,364.25 107.41,366.46 C108.18,368.68 108.60,370.90 109.09,373.11 C109.58,375.33 110.06,377.55 110.34,379.77 C110.62,381.98 110.76,384.48 110.76,386.42 C110.76,388.36 110.69,389.60 110.34,391.41 C109.99,393.21 109.51,395.35 108.67,397.23 C107.83,399.10 106.58,400.83 105.32,402.63 C104.07,404.43 102.67,406.16 101.14,408.03 C99.60,409.90 97.79,412.05 96.11,413.85 C94.44,415.66 92.91,417.46 91.09,418.84 C89.28,420.23 87.05,421.24 85.23,422.17 C83.42,423.10 82.30,423.86 80.21,424.41 C78.12,424.97 75.19,425.29 72.68,425.49 C70.17,425.70 67.52,425.84 65.15,425.66 C62.77,425.48 60.47,425.13 58.45,424.41 C56.43,423.69 54.75,422.54 53.01,421.34 C51.27,420.13 49.59,418.63 47.99,417.18 C46.38,415.72 44.78,414.20 43.38,412.61 C41.99,411.01 40.52,409.28 39.62,407.62 C38.71,405.96 38.15,404.22 37.94,402.63 C37.73,401.04 37.94,399.51 38.36,398.06 C38.78,396.60 39.62,395.35 40.45,393.90 C41.29,392.44 42.27,390.85 43.38,389.33 C44.50,387.80 45.88,386.22 47.15,384.75 C48.42,383.29 49.73,382.01 51.00,380.51 C52.27,379.02 53.34,377.35 54.77,375.77 C56.19,374.20 57.95,372.73 59.54,371.04 C61.13,369.35 62.68,367.43 64.31,365.63 C65.94,363.83 67.66,361.96 69.33,360.23 C71.00,358.50 72.68,356.56 74.35,355.24 C76.03,353.92 77.77,353.37 79.37,352.33 C80.98,351.29 82.37,349.90 83.98,349.00 C85.58,348.10 87.40,347.20 89.00,346.92Z" fill="#423f85" opacity="1.0" filter="url(#i3r2)"/><g clip-path="url(#i3cc950)"><g filter="url(#i3b3)"><ellipse cx="64.30" cy="402.39" rx="19.80" ry="19.67" fill="#355f8d" opacity="0.35"/></g></g><g clip-path="url(#i3cc1000)"><g filter="url(#i3b4)"><ellipse cx="94.90" cy="368.42" rx="19.80" ry="22.35" fill="#472c7c" opacity="0.4"/></g></g><g clip-path="url(#i3cc1000)"><g filter="url(#i3b5)"><ellipse cx="87.70" cy="346.07" rx="22.50" ry="9.83" fill="#46146a" opacity="0.85"/></g></g><g clip-path="url(#i3cc1000)"><g filter="url(#i3b6)"><ellipse cx="112.90" cy="352.33" rx="9.00" ry="8.94" fill="#46166a" opacity="0.5"/></g></g><g clip-path="url(#i3c8)"><g><rect x="31.90" y="341.60" width="90.00" height="89.40" filter="url(#i3n7)" opacity="0.5"/></g></g><g clip-path="url(#i3c10)"><g><rect x="31.90" y="341.60" width="90.00" height="89.40" filter="url(#i3n9)" opacity="0.45"/></g></g><g filter="url(#i3b11)"><ellipse cx="67.90" cy="407.76" rx="9.00" ry="10.73" fill="#1f968b" opacity="0.55"/></g><g filter="url(#i3r12)"><ellipse cx="71.05" cy="408.20" rx="5.04" ry="7.69" fill="#6ccd5a" opacity="1.0" transform="rotate(-10 71.05 408.20)"/></g><g filter="url(#i3r13)"><ellipse cx="71.50" cy="408.20" rx="3.24" ry="5.72" fill="#f5e626" opacity="1.0" transform="rotate(-10 71.50 408.20)"/></g><g filter="url(#i3b14)"><ellipse cx="53.50" cy="400.60" rx="1.26" ry="1.25" fill="#5ac864" opacity="1.0"/></g><g filter="url(#i3b15)"><ellipse cx="47.20" cy="393.09" rx="0.99" ry="0.98" fill="#2a9a8a" opacity="1.0"/></g></g>
<rect x="31.90" y="341.60" width="90.00" height="89.40" fill="none" stroke="#333" stroke-width="0.5"/>
<defs><clipPath id="i4clip"><rect x="31.90" y="447.00" width="90.00" height="89.00"/></clipPath><filter id="i4r1" x="-20%" y="-20%" width="140%" height="140%" color-interpolation-filters="sRGB"><feTurbulence type="fractalNoise" baseFrequency="0.12" numOctaves="2" seed="3" result="t"/><feDisplacementMap in="SourceGraphic" in2="t" scale="6" xChannelSelector="R" yChannelSelector="G" result="d"/><feGaussianBlur in="d" stdDeviation="1.0"/></filter><filter id="i4b2" x="-50%" y="-50%" width="200%" height="200%"><feGaussianBlur stdDeviation="5"/></filter><clipPath id="i4cc1000"><path d="M91.75,451.00 C93.47,450.71 95.12,450.93 96.70,451.45 C98.27,451.97 99.85,452.93 101.20,454.12 C102.55,455.31 103.60,456.79 104.80,458.57 C106.00,460.35 107.28,462.57 108.40,464.80 C109.53,467.03 110.73,469.55 111.55,471.92 C112.38,474.29 112.83,476.67 113.35,479.04 C113.87,481.41 114.40,483.79 114.70,486.16 C115.00,488.53 115.15,491.20 115.15,493.28 C115.15,495.36 115.07,496.69 114.70,498.62 C114.32,500.55 113.80,502.85 112.90,504.85 C112.00,506.85 110.65,508.71 109.30,510.63 C107.95,512.56 106.45,514.42 104.80,516.42 C103.15,518.42 101.20,520.72 99.40,522.65 C97.60,524.58 95.95,526.51 94.00,527.99 C92.05,529.47 89.65,530.56 87.70,531.55 C85.75,532.54 84.55,533.36 82.30,533.95 C80.05,534.55 76.90,534.89 74.20,535.11 C71.50,535.33 68.65,535.48 66.10,535.29 C63.55,535.10 61.07,534.72 58.90,533.95 C56.73,533.18 54.92,531.95 53.05,530.66 C51.17,529.37 49.38,527.77 47.65,526.21 C45.92,524.65 44.20,523.02 42.70,521.32 C41.20,519.61 39.62,517.75 38.65,515.98 C37.67,514.20 37.07,512.34 36.85,510.63 C36.62,508.93 36.85,507.30 37.30,505.74 C37.75,504.18 38.65,502.85 39.55,501.29 C40.45,499.73 41.50,498.03 42.70,496.39 C43.90,494.76 45.38,493.07 46.75,491.50 C48.12,489.93 49.52,488.56 50.89,486.96 C52.26,485.36 53.41,483.58 54.94,481.89 C56.47,480.20 58.36,478.62 60.07,476.81 C61.78,475.01 63.44,472.96 65.20,471.03 C66.95,469.10 68.80,467.10 70.60,465.25 C72.40,463.39 74.20,461.31 76.00,459.90 C77.80,458.50 79.68,457.90 81.40,456.79 C83.12,455.68 84.62,454.19 86.35,453.23 C88.07,452.27 90.03,451.30 91.75,451.00Z"/></clipPath><filter id="i4n3" x="0" y="0" width="100%" height="100%" color-interpolation-filters="sRGB"><feTurbulence type="fractalNoise" baseFrequency="0.18" numOctaves="2" seed="7"/><feColorMatrix type="matrix" values="0 0 0 0 0.165 0 0 0 0 0.553 0 0 0 0 0.549 2.8 0 0 0 -1.25"/></filter><clipPath id="i4c4"><path d="M91.34,452.32 C93.02,452.04 94.62,452.25 96.14,452.75 C97.67,453.26 99.20,454.19 100.51,455.34 C101.82,456.50 102.84,457.93 104.00,459.66 C105.17,461.39 106.40,463.55 107.49,465.70 C108.58,467.86 109.75,470.31 110.55,472.61 C111.35,474.91 111.79,477.22 112.29,479.52 C112.80,481.82 113.31,484.12 113.60,486.42 C113.90,488.73 114.04,491.32 114.04,493.33 C114.04,495.34 113.97,496.64 113.60,498.51 C113.24,500.38 112.73,502.61 111.86,504.55 C110.99,506.50 109.68,508.29 108.37,510.16 C107.06,512.03 105.60,513.83 104.00,515.78 C102.40,517.72 100.51,519.95 98.76,521.82 C97.02,523.69 95.42,525.56 93.53,527.00 C91.63,528.44 89.31,529.49 87.41,530.45 C85.52,531.42 84.36,532.21 82.18,532.78 C79.99,533.36 76.94,533.69 74.32,533.91 C71.70,534.12 68.94,534.26 66.46,534.08 C63.99,533.89 61.59,533.53 59.48,532.78 C57.37,532.03 55.62,530.84 53.80,529.59 C51.99,528.34 50.24,526.78 48.57,525.27 C46.89,523.76 45.22,522.18 43.76,520.52 C42.31,518.87 40.78,517.07 39.84,515.34 C38.89,513.62 38.31,511.82 38.09,510.16 C37.87,508.51 38.09,506.93 38.53,505.42 C38.96,503.91 39.84,502.61 40.71,501.10 C41.58,499.59 42.60,497.93 43.76,496.35 C44.93,494.77 46.37,493.13 47.69,491.60 C49.02,490.08 50.38,488.75 51.71,487.20 C53.03,485.65 54.15,483.92 55.64,482.28 C57.12,480.64 58.95,479.11 60.61,477.36 C62.27,475.60 63.89,473.62 65.59,471.75 C67.29,469.88 69.08,467.93 70.83,466.14 C72.57,464.34 74.32,462.32 76.07,460.96 C77.81,459.59 79.63,459.01 81.30,457.93 C82.98,456.86 84.43,455.42 86.10,454.48 C87.78,453.55 89.67,452.61 91.34,452.32Z"/></clipPath><filter id="i4n5" x="0" y="0" width="100%" height="100%" color-interpolation-filters="sRGB"><feTurbulence type="fractalNoise" baseFrequency="0.18" numOctaves="2" seed="27"/><feColorMatrix type="matrix" values="0 0 0 0 0.267 0 0 0 0 0.208 0 0 0 0 0.498 2.8 0 0 0 -1.3"/></filter><clipPath id="i4c6"><path d="M91.34,452.32 C93.02,452.04 94.62,452.25 96.14,452.75 C97.67,453.26 99.20,454.19 100.51,455.34 C101.82,456.50 102.84,457.93 104.00,459.66 C105.17,461.39 106.40,463.55 107.49,465.70 C108.58,467.86 109.75,470.31 110.55,472.61 C111.35,474.91 111.79,477.22 112.29,479.52 C112.80,481.82 113.31,484.12 113.60,486.42 C113.90,488.73 114.04,491.32 114.04,493.33 C114.04,495.34 113.97,496.64 113.60,498.51 C113.24,500.38 112.73,502.61 111.86,504.55 C110.99,506.50 109.68,508.29 108.37,510.16 C107.06,512.03 105.60,513.83 104.00,515.78 C102.40,517.72 100.51,519.95 98.76,521.82 C97.02,523.69 95.42,525.56 93.53,527.00 C91.63,528.44 89.31,529.49 87.41,530.45 C85.52,531.42 84.36,532.21 82.18,532.78 C79.99,533.36 76.94,533.69 74.32,533.91 C71.70,534.12 68.94,534.26 66.46,534.08 C63.99,533.89 61.59,533.53 59.48,532.78 C57.37,532.03 55.62,530.84 53.80,529.59 C51.99,528.34 50.24,526.78 48.57,525.27 C46.89,523.76 45.22,522.18 43.76,520.52 C42.31,518.87 40.78,517.07 39.84,515.34 C38.89,513.62 38.31,511.82 38.09,510.16 C37.87,508.51 38.09,506.93 38.53,505.42 C38.96,503.91 39.84,502.61 40.71,501.10 C41.58,499.59 42.60,497.93 43.76,496.35 C44.93,494.77 46.37,493.13 47.69,491.60 C49.02,490.08 50.38,488.75 51.71,487.20 C53.03,485.65 54.15,483.92 55.64,482.28 C57.12,480.64 58.95,479.11 60.61,477.36 C62.27,475.60 63.89,473.62 65.59,471.75 C67.29,469.88 69.08,467.93 70.83,466.14 C72.57,464.34 74.32,462.32 76.07,460.96 C77.81,459.59 79.63,459.01 81.30,457.93 C82.98,456.86 84.43,455.42 86.10,454.48 C87.78,453.55 89.67,452.61 91.34,452.32Z"/></clipPath><filter id="i4n7" x="0" y="0" width="100%" height="100%" color-interpolation-filters="sRGB"><feTurbulence type="fractalNoise" baseFrequency="0.5" numOctaves="2" seed="37"/><feColorMatrix type="matrix" values="0 0 0 0 0.165 0 0 0 0 0.627 0 0 0 0 0.533 2.6 0 0 0 -1.3"/></filter><clipPath id="i4c8"><path d="M91.34,452.32 C93.02,452.04 94.62,452.25 96.14,452.75 C97.67,453.26 99.20,454.19 100.51,455.34 C101.82,456.50 102.84,457.93 104.00,459.66 C105.17,461.39 106.40,463.55 107.49,465.70 C108.58,467.86 109.75,470.31 110.55,472.61 C111.35,474.91 111.79,477.22 112.29,479.52 C112.80,481.82 113.31,484.12 113.60,486.42 C113.90,488.73 114.04,491.32 114.04,493.33 C114.04,495.34 113.97,496.64 113.60,498.51 C113.24,500.38 112.73,502.61 111.86,504.55 C110.99,506.50 109.68,508.29 108.37,510.16 C107.06,512.03 105.60,513.83 104.00,515.78 C102.40,517.72 100.51,519.95 98.76,521.82 C97.02,523.69 95.42,525.56 93.53,527.00 C91.63,528.44 89.31,529.49 87.41,530.45 C85.52,531.42 84.36,532.21 82.18,532.78 C79.99,533.36 76.94,533.69 74.32,533.91 C71.70,534.12 68.94,534.26 66.46,534.08 C63.99,533.89 61.59,533.53 59.48,532.78 C57.37,532.03 55.62,530.84 53.80,529.59 C51.99,528.34 50.24,526.78 48.57,525.27 C46.89,523.76 45.22,522.18 43.76,520.52 C42.31,518.87 40.78,517.07 39.84,515.34 C38.89,513.62 38.31,511.82 38.09,510.16 C37.87,508.51 38.09,506.93 38.53,505.42 C38.96,503.91 39.84,502.61 40.71,501.10 C41.58,499.59 42.60,497.93 43.76,496.35 C44.93,494.77 46.37,493.13 47.69,491.60 C49.02,490.08 50.38,488.75 51.71,487.20 C53.03,485.65 54.15,483.92 55.64,482.28 C57.12,480.64 58.95,479.11 60.61,477.36 C62.27,475.60 63.89,473.62 65.59,471.75 C67.29,469.88 69.08,467.93 70.83,466.14 C72.57,464.34 74.32,462.32 76.07,460.96 C77.81,459.59 79.63,459.01 81.30,457.93 C82.98,456.86 84.43,455.42 86.10,454.48 C87.78,453.55 89.67,452.61 91.34,452.32Z"/></clipPath><filter id="i4r9" x="-20%" y="-20%" width="140%" height="140%" color-interpolation-filters="sRGB"><feTurbulence type="fractalNoise" baseFrequency="0.2" numOctaves="2" seed="4" result="t"/><feDisplacementMap in="SourceGraphic" in2="t" scale="4" xChannelSelector="R" yChannelSelector="G" result="d"/><feGaussianBlur in="d" stdDeviation="1.0"/></filter><filter id="i4b10" x="-50%" y="-50%" width="200%" height="200%"><feGaussianBlur stdDeviation="0.6"/></filter><filter id="i4b11" x="-50%" y="-50%" width="200%" height="200%"><feGaussianBlur stdDeviation="0.5"/></filter><filter id="i4b12" x="-50%" y="-50%" width="200%" height="200%"><feGaussianBlur stdDeviation="0.5"/></filter></defs><g clip-path="url(#i4clip)"><rect x="31.90" y="447.00" width="90.00" height="89.00" fill="#450457"/><path d="M91.75,451.00 C93.47,450.71 95.12,450.93 96.70,451.45 C98.27,451.97 99.85,452.93 101.20,454.12 C102.55,455.31 103.60,456.79 104.80,458.57 C106.00,460.35 107.28,462.57 108.40,464.80 C109.53,467.03 110.73,469.55 111.55,471.92 C112.38,474.29 112.83,476.67 113.35,479.04 C113.87,481.41 114.40,483.79 114.70,486.16 C115.00,488.53 115.15,491.20 115.15,493.28 C115.15,495.36 115.07,496.69 114.70,498.62 C114.32,500.55 113.80,502.85 112.90,504.85 C112.00,506.85 110.65,508.71 109.30,510.63 C107.95,512.56 106.45,514.42 104.80,516.42 C103.15,518.42 101.20,520.72 99.40,522.65 C97.60,524.58 95.95,526.51 94.00,527.99 C92.05,529.47 89.65,530.56 87.70,531.55 C85.75,532.54 84.55,533.36 82.30,533.95 C80.05,534.55 76.90,534.89 74.20,535.11 C71.50,535.33 68.65,535.48 66.10,535.29 C63.55,535.10 61.07,534.72 58.90,533.95 C56.73,533.18 54.92,531.95 53.05,530.66 C51.17,529.37 49.38,527.77 47.65,526.21 C45.92,524.65 44.20,523.02 42.70,521.32 C41.20,519.61 39.62,517.75 38.65,515.98 C37.67,514.20 37.07,512.34 36.85,510.63 C36.62,508.93 36.85,507.30 37.30,505.74 C37.75,504.18 38.65,502.85 39.55,501.29 C40.45,499.73 41.50,498.03 42.70,496.39 C43.90,494.76 45.38,493.07 46.75,491.50 C48.12,489.93 49.52,488.56 50.89,486.96 C52.26,485.36 53.41,483.58 54.94,481.89 C56.47,480.20 58.36,478.62 60.07,476.81 C61.78,475.01 63.44,472.96 65.20,471.03 C66.95,469.10 68.80,467.10 70.60,465.25 C72.40,463.39 74.20,461.31 76.00,459.90 C77.80,458.50 79.68,457.90 81.40,456.79 C83.12,455.68 84.62,454.19 86.35,453.23 C88.07,452.27 90.03,451.30 91.75,451.00Z" fill="#395a8c" opacity="1.0" filter="url(#i4r1)"/><g clip-path="url(#i4cc1000)"><g filter="url(#i4b2)"><ellipse cx="100.30" cy="486.16" rx="11.70" ry="17.80" fill="#2b7f8e" opacity="0.8"/></g></g><g clip-path="url(#i4c4)"><g><rect x="31.90" y="447.00" width="90.00" height="89.00" filter="url(#i4n3)" opacity="0.75"/></g></g><g clip-path="url(#i4c6)"><g><rect x="31.90" y="447.00" width="90.00" height="89.00" filter="url(#i4n5)" opacity="0.6"/></g></g><g clip-path="url(#i4c8)"><g><rect x="31.90" y="447.00" width="90.00" height="89.00" filter="url(#i4n7)" opacity="0.45"/></g></g><g filter="url(#i4r9)"><ellipse cx="68.80" cy="511.97" rx="7.92" ry="9.34" fill="#450457" opacity="1.0"/></g><g filter="url(#i4b10)"><ellipse cx="53.77" cy="506.10" rx="1.80" ry="1.78" fill="#450457" opacity="1.0"/></g><g filter="url(#i4b11)"><ellipse cx="47.56" cy="498.62" rx="1.08" ry="1.07" fill="#450457" opacity="1.0"/></g><g filter="url(#i4b12)"><ellipse cx="42.34" cy="503.51" rx="1.08" ry="1.07" fill="#6ad060" opacity="1.0"/></g></g>
<rect x="31.90" y="447.00" width="90.00" height="89.00" fill="none" stroke="#333" stroke-width="0.5"/>
<line x1="30.4" y1="341.60" x2="31.9" y2="341.60" stroke="#333" stroke-width="0.5"/>
<text x="29.60" y="343.60" font-size="5.6" text-anchor="end" fill="#1a1a1a" stroke="#1a1a1a" stroke-width="0.1" font-family="DejaVu Sans, Liberation Sans, sans-serif" >0</text>
<line x1="30.4" y1="359.06" x2="31.9" y2="359.06" stroke="#333" stroke-width="0.5"/>
<text x="29.60" y="361.06" font-size="5.6" text-anchor="end" fill="#1a1a1a" stroke="#1a1a1a" stroke-width="0.1" font-family="DejaVu Sans, Liberation Sans, sans-serif" >100</text>
<line x1="30.4" y1="376.52" x2="31.9" y2="376.52" stroke="#333" stroke-width="0.5"/>
<text x="29.60" y="378.52" font-size="5.6" text-anchor="end" fill="#1a1a1a" stroke="#1a1a1a" stroke-width="0.1" font-family="DejaVu Sans, Liberation Sans, sans-serif" >200</text>
<line x1="30.4" y1="393.98" x2="31.9" y2="393.98" stroke="#333" stroke-width="0.5"/>
<text x="29.60" y="395.98" font-size="5.6" text-anchor="end" fill="#1a1a1a" stroke="#1a1a1a" stroke-width="0.1" font-family="DejaVu Sans, Liberation Sans, sans-serif" >300</text>
<line x1="30.4" y1="411.44" x2="31.9" y2="411.44" stroke="#333" stroke-width="0.5"/>
<text x="29.60" y="413.44" font-size="5.6" text-anchor="end" fill="#1a1a1a" stroke="#1a1a1a" stroke-width="0.1" font-family="DejaVu Sans, Liberation Sans, sans-serif" >400</text>
<line x1="30.4" y1="428.90" x2="31.9" y2="428.90" stroke="#333" stroke-width="0.5"/>
<text x="29.60" y="430.90" font-size="5.6" text-anchor="end" fill="#1a1a1a" stroke="#1a1a1a" stroke-width="0.1" font-family="DejaVu Sans, Liberation Sans, sans-serif" >500</text>
<line x1="31.90" y1="431.0" x2="31.90" y2="432.5" stroke="#333" stroke-width="0.5"/>
<text x="31.90" y="438.40" font-size="5.6" text-anchor="middle" fill="#1a1a1a" stroke="#1a1a1a" stroke-width="0.1" font-family="DejaVu Sans, Liberation Sans, sans-serif" >0</text>
<line x1="67.06" y1="431.0" x2="67.06" y2="432.5" stroke="#333" stroke-width="0.5"/>
<text x="67.06" y="438.40" font-size="5.6" text-anchor="middle" fill="#1a1a1a" stroke="#1a1a1a" stroke-width="0.1" font-family="DejaVu Sans, Liberation Sans, sans-serif" >200</text>
<line x1="102.21" y1="431.0" x2="102.21" y2="432.5" stroke="#333" stroke-width="0.5"/>
<text x="102.21" y="438.40" font-size="5.6" text-anchor="middle" fill="#1a1a1a" stroke="#1a1a1a" stroke-width="0.1" font-family="DejaVu Sans, Liberation Sans, sans-serif" >400</text>
<line x1="30.4" y1="447.00" x2="31.9" y2="447.00" stroke="#333" stroke-width="0.5"/>
<text x="29.60" y="449.00" font-size="5.6" text-anchor="end" fill="#1a1a1a" stroke="#1a1a1a" stroke-width="0.1" font-family="DejaVu Sans, Liberation Sans, sans-serif" >0</text>
<line x1="30.4" y1="464.38" x2="31.9" y2="464.38" stroke="#333" stroke-width="0.5"/>
<text x="29.60" y="466.38" font-size="5.6" text-anchor="end" fill="#1a1a1a" stroke="#1a1a1a" stroke-width="0.1" font-family="DejaVu Sans, Liberation Sans, sans-serif" >100</text>
<line x1="30.4" y1="481.77" x2="31.9" y2="481.77" stroke="#333" stroke-width="0.5"/>
<text x="29.60" y="483.77" font-size="5.6" text-anchor="end" fill="#1a1a1a" stroke="#1a1a1a" stroke-width="0.1" font-family="DejaVu Sans, Liberation Sans, sans-serif" >200</text>
<line x1="30.4" y1="499.15" x2="31.9" y2="499.15" stroke="#333" stroke-width="0.5"/>
<text x="29.60" y="501.15" font-size="5.6" text-anchor="end" fill="#1a1a1a" stroke="#1a1a1a" stroke-width="0.1" font-family="DejaVu Sans, Liberation Sans, sans-serif" >300</text>
<line x1="30.4" y1="516.53" x2="31.9" y2="516.53" stroke="#333" stroke-width="0.5"/>
<text x="29.60" y="518.53" font-size="5.6" text-anchor="end" fill="#1a1a1a" stroke="#1a1a1a" stroke-width="0.1" font-family="DejaVu Sans, Liberation Sans, sans-serif" >400</text>
<line x1="30.4" y1="533.91" x2="31.9" y2="533.91" stroke="#333" stroke-width="0.5"/>
<text x="29.60" y="535.91" font-size="5.6" text-anchor="end" fill="#1a1a1a" stroke="#1a1a1a" stroke-width="0.1" font-family="DejaVu Sans, Liberation Sans, sans-serif" >500</text>
<line x1="31.90" y1="536.0" x2="31.90" y2="537.5" stroke="#333" stroke-width="0.5"/>
<text x="31.90" y="543.40" font-size="5.6" text-anchor="middle" fill="#1a1a1a" stroke="#1a1a1a" stroke-width="0.1" font-family="DejaVu Sans, Liberation Sans, sans-serif" >0</text>
<line x1="67.06" y1="536.0" x2="67.06" y2="537.5" stroke="#333" stroke-width="0.5"/>
<text x="67.06" y="543.40" font-size="5.6" text-anchor="middle" fill="#1a1a1a" stroke="#1a1a1a" stroke-width="0.1" font-family="DejaVu Sans, Liberation Sans, sans-serif" >200</text>
<line x1="102.21" y1="536.0" x2="102.21" y2="537.5" stroke="#333" stroke-width="0.5"/>
<text x="102.21" y="543.40" font-size="5.6" text-anchor="middle" fill="#1a1a1a" stroke="#1a1a1a" stroke-width="0.1" font-family="DejaVu Sans, Liberation Sans, sans-serif" >400</text>
<defs><clipPath id="i5clip"><rect x="140.00" y="341.60" width="90.00" height="89.40"/></clipPath><filter id="i5r1" x="-20%" y="-20%" width="140%" height="140%" color-interpolation-filters="sRGB"><feTurbulence type="fractalNoise" baseFrequency="0.1" numOctaves="2" seed="3" result="t"/><feDisplacementMap in="SourceGraphic" in2="t" scale="4" xChannelSelector="R" yChannelSelector="G" result="d"/><feGaussianBlur in="d" stdDeviation="1.5"/></filter><filter id="i5r2" x="-20%" y="-20%" width="140%" height="140%" color-interpolation-filters="sRGB"><feTurbulence type="fractalNoise" baseFrequency="0.12" numOctaves="2" seed="5" result="t"/><feDisplacementMap in="SourceGraphic" in2="t" scale="5" xChannelSelector="R" yChannelSelector="G" result="d"/><feGaussianBlur in="d" stdDeviation="1.5"/></filter><filter id="i5b3" x="-50%" y="-50%" width="200%" height="200%"><feGaussianBlur stdDeviation="6"/></filter><clipPath id="i5cc950"><path d="M199.17,347.83 C200.81,347.55 202.38,347.76 203.87,348.25 C205.37,348.75 206.87,349.67 208.15,350.80 C209.43,351.93 210.43,353.35 211.57,355.05 C212.71,356.75 213.92,358.87 214.99,360.99 C216.06,363.12 217.20,365.52 217.98,367.79 C218.77,370.05 219.19,372.32 219.69,374.58 C220.19,376.85 220.69,379.11 220.97,381.38 C221.26,383.64 221.40,386.19 221.40,388.17 C221.40,390.15 221.33,391.43 220.97,393.27 C220.62,395.11 220.12,397.30 219.26,399.21 C218.41,401.12 217.13,402.89 215.84,404.73 C214.56,406.57 213.14,408.34 211.57,410.25 C210.00,412.16 208.15,414.36 206.44,416.20 C204.73,418.04 203.16,419.88 201.31,421.29 C199.46,422.71 197.18,423.74 195.32,424.69 C193.47,425.64 192.33,426.42 190.19,426.98 C188.06,427.55 185.06,427.88 182.50,428.09 C179.93,428.30 177.23,428.44 174.80,428.26 C172.38,428.07 170.03,427.72 167.96,426.98 C165.90,426.25 164.19,425.07 162.41,423.84 C160.63,422.61 158.92,421.08 157.28,419.60 C155.64,418.11 154.00,416.55 152.57,414.92 C151.15,413.30 149.65,411.53 148.73,409.83 C147.80,408.13 147.23,406.36 147.02,404.73 C146.80,403.11 147.02,401.55 147.44,400.06 C147.87,398.58 148.73,397.30 149.58,395.82 C150.44,394.33 151.43,392.70 152.57,391.14 C153.71,389.59 155.12,387.97 156.42,386.47 C157.72,384.97 159.06,383.67 160.35,382.14 C161.65,380.61 162.75,378.91 164.20,377.30 C165.66,375.69 167.45,374.19 169.08,372.46 C170.70,370.73 172.28,368.78 173.95,366.94 C175.62,365.10 177.37,363.19 179.08,361.42 C180.79,359.65 182.50,357.67 184.21,356.32 C185.92,354.98 187.70,354.41 189.34,353.35 C190.98,352.29 192.40,350.87 194.04,349.95 C195.68,349.03 197.53,348.11 199.17,347.83Z"/></clipPath><filter id="i5b4" x="-50%" y="-50%" width="200%" height="200%"><feGaussianBlur stdDeviation="7"/></filter><clipPath id="i5cc1000"><path d="M199.85,345.62 C201.57,345.33 203.23,345.55 204.80,346.07 C206.38,346.59 207.95,347.56 209.30,348.75 C210.65,349.94 211.70,351.43 212.90,353.22 C214.10,355.01 215.38,357.25 216.50,359.48 C217.62,361.72 218.83,364.25 219.65,366.63 C220.47,369.02 220.92,371.40 221.45,373.78 C221.97,376.17 222.50,378.55 222.80,380.94 C223.10,383.32 223.25,386.00 223.25,388.09 C223.25,390.17 223.18,391.51 222.80,393.45 C222.43,395.39 221.90,397.70 221.00,399.71 C220.10,401.72 218.75,403.58 217.40,405.52 C216.05,407.46 214.55,409.32 212.90,411.33 C211.25,413.34 209.30,415.65 207.50,417.59 C205.70,419.53 204.05,421.46 202.10,422.95 C200.15,424.44 197.75,425.53 195.80,426.53 C193.85,427.53 192.65,428.35 190.40,428.94 C188.15,429.54 185.00,429.88 182.30,430.11 C179.60,430.33 176.75,430.48 174.20,430.28 C171.65,430.09 169.18,429.72 167.00,428.94 C164.82,428.17 163.03,426.93 161.15,425.64 C159.28,424.34 157.47,422.73 155.75,421.17 C154.03,419.60 152.30,417.96 150.80,416.25 C149.30,414.54 147.72,412.67 146.75,410.88 C145.78,409.10 145.17,407.23 144.95,405.52 C144.72,403.81 144.95,402.17 145.40,400.60 C145.85,399.04 146.75,397.70 147.65,396.13 C148.55,394.57 149.60,392.86 150.80,391.22 C152.00,389.58 153.48,387.88 154.85,386.30 C156.22,384.72 157.62,383.35 158.99,381.74 C160.36,380.13 161.51,378.34 163.04,376.64 C164.57,374.95 166.46,373.37 168.17,371.55 C169.88,369.73 171.55,367.68 173.30,365.74 C175.06,363.80 176.90,361.79 178.70,359.93 C180.50,358.06 182.30,355.98 184.10,354.56 C185.90,353.15 187.78,352.55 189.50,351.43 C191.22,350.32 192.72,348.83 194.45,347.86 C196.17,346.89 198.12,345.92 199.85,345.62Z"/></clipPath><filter id="i5b5" x="-50%" y="-50%" width="200%" height="200%"><feGaussianBlur stdDeviation="4"/></filter><filter id="i5b6" x="-50%" y="-50%" width="200%" height="200%"><feGaussianBlur stdDeviation="4"/></filter><filter id="i5n7" x="0" y="0" width="100%" height="100%" color-interpolation-filters="sRGB"><feTurbulence type="fractalNoise" baseFrequency="0.45" numOctaves="2" seed="6"/><feColorMatrix type="matrix" values="0 0 0 0 0.227 0 0 0 0 0.361 0 0 0 0 0.549 2.6 0 0 0 -1.3"/></filter><clipPath id="i5c8"><path d="M198.90,348.71 C200.50,348.44 202.04,348.64 203.50,349.13 C204.97,349.61 206.43,350.51 207.69,351.62 C208.94,352.73 209.92,354.12 211.04,355.78 C212.15,357.44 213.34,359.52 214.38,361.60 C215.43,363.68 216.55,366.03 217.31,368.25 C218.08,370.47 218.50,372.69 218.99,374.90 C219.48,377.12 219.96,379.34 220.24,381.55 C220.52,383.77 220.66,386.27 220.66,388.21 C220.66,390.15 220.59,391.39 220.24,393.19 C219.89,394.99 219.41,397.14 218.57,399.01 C217.73,400.88 216.48,402.62 215.22,404.42 C213.97,406.22 212.57,407.95 211.04,409.82 C209.50,411.69 207.69,413.84 206.01,415.64 C204.34,417.44 202.81,419.24 200.99,420.63 C199.18,422.02 196.95,423.03 195.13,423.96 C193.32,424.88 192.20,425.65 190.11,426.20 C188.02,426.76 185.09,427.07 182.58,427.28 C180.07,427.49 177.42,427.63 175.05,427.45 C172.67,427.27 170.37,426.92 168.35,426.20 C166.33,425.48 164.65,424.33 162.91,423.12 C161.17,421.92 159.49,420.42 157.89,418.97 C156.28,417.51 154.68,415.99 153.28,414.39 C151.89,412.80 150.42,411.07 149.52,409.41 C148.61,407.74 148.05,406.01 147.84,404.42 C147.63,402.82 147.84,401.30 148.26,399.84 C148.68,398.39 149.52,397.14 150.35,395.69 C151.19,394.23 152.17,392.64 153.28,391.12 C154.40,389.59 155.78,388.01 157.05,386.54 C158.32,385.07 159.63,383.80 160.90,382.30 C162.17,380.81 163.24,379.14 164.67,377.56 C166.09,375.98 167.85,374.51 169.44,372.82 C171.03,371.13 172.58,369.22 174.21,367.42 C175.84,365.62 177.56,363.75 179.23,362.02 C180.90,360.28 182.58,358.34 184.25,357.03 C185.93,355.71 187.67,355.16 189.27,354.12 C190.88,353.08 192.27,351.69 193.88,350.79 C195.48,349.89 197.30,348.99 198.90,348.71Z"/></clipPath><filter id="i5n9" x="0" y="0" width="100%" height="100%" color-interpolation-filters="sRGB"><feTurbulence type="fractalNoise" baseFrequency="0.45" numOctaves="2" seed="16"/><feColorMatrix type="matrix" values="0 0 0 0 0.282 0 0 0 0 0.137 0 0 0 0 0.478 2.6 0 0 0 -1.3"/></filter><clipPath id="i5c10"><path d="M198.90,348.71 C200.50,348.44 202.04,348.64 203.50,349.13 C204.97,349.61 206.43,350.51 207.69,351.62 C208.94,352.73 209.92,354.12 211.04,355.78 C212.15,357.44 213.34,359.52 214.38,361.60 C215.43,363.68 216.55,366.03 217.31,368.25 C218.08,370.47 218.50,372.69 218.99,374.90 C219.48,377.12 219.96,379.34 220.24,381.55 C220.52,383.77 220.66,386.27 220.66,388.21 C220.66,390.15 220.59,391.39 220.24,393.19 C219.89,394.99 219.41,397.14 218.57,399.01 C217.73,400.88 216.48,402.62 215.22,404.42 C213.97,406.22 212.57,407.95 211.04,409.82 C209.50,411.69 207.69,413.84 206.01,415.64 C204.34,417.44 202.81,419.24 200.99,420.63 C199.18,422.02 196.95,423.03 195.13,423.96 C193.32,424.88 192.20,425.65 190.11,426.20 C188.02,426.76 185.09,427.07 182.58,427.28 C180.07,427.49 177.42,427.63 175.05,427.45 C172.67,427.27 170.37,426.92 168.35,426.20 C166.33,425.48 164.65,424.33 162.91,423.12 C161.17,421.92 159.49,420.42 157.89,418.97 C156.28,417.51 154.68,415.99 153.28,414.39 C151.89,412.80 150.42,411.07 149.52,409.41 C148.61,407.74 148.05,406.01 147.84,404.42 C147.63,402.82 147.84,401.30 148.26,399.84 C148.68,398.39 149.52,397.14 150.35,395.69 C151.19,394.23 152.17,392.64 153.28,391.12 C154.40,389.59 155.78,388.01 157.05,386.54 C158.32,385.07 159.63,383.80 160.90,382.30 C162.17,380.81 163.24,379.14 164.67,377.56 C166.09,375.98 167.85,374.51 169.44,372.82 C171.03,371.13 172.58,369.22 174.21,367.42 C175.84,365.62 177.56,363.75 179.23,362.02 C180.90,360.28 182.58,358.34 184.25,357.03 C185.93,355.71 187.67,355.16 189.27,354.12 C190.88,353.08 192.27,351.69 193.88,350.79 C195.48,349.89 197.30,348.99 198.90,348.71Z"/></clipPath><filter id="i5b11" x="-50%" y="-50%" width="200%" height="200%"><feGaussianBlur stdDeviation="3"/></filter><filter id="i5r12" x="-20%" y="-20%" width="140%" height="140%" color-interpolation-filters="sRGB"><feTurbulence type="fractalNoise" baseFrequency="0.2" numOctaves="2" seed="4" result="t"/><feDisplacementMap in="SourceGraphic" in2="t" scale="3" xChannelSelector="R" yChannelSelector="G" result="d"/><feGaussianBlur in="d" stdDeviation="1.4"/></filter><filter id="i5r13" x="-20%" y="-20%" width="140%" height="140%" color-interpolation-filters="sRGB"><feTurbulence type="fractalNoise" baseFrequency="0.2" numOctaves="2" seed="6" result="t"/><feDisplacementMap in="SourceGraphic" in2="t" scale="3" xChannelSelector="R" yChannelSelector="G" result="d"/><feGaussianBlur in="d" stdDeviation="1.1"/></filter><filter id="i5b14" x="-50%" y="-50%" width="200%" height="200%"><feGaussianBlur stdDeviation="0.6"/></filter><filter id="i5b15" x="-50%" y="-50%" width="200%" height="200%"><feGaussianBlur stdDeviation="0.6"/></filter></defs><g clip-path="url(#i5clip)"><rect x="140.00" y="341.60" width="90.00" height="89.40" fill="#460a5c"/><path d="M200.52,347.48 C202.20,347.19 203.80,347.41 205.32,347.92 C206.85,348.42 208.38,349.36 209.69,350.52 C211.00,351.67 212.02,353.12 213.18,354.85 C214.35,356.59 215.58,358.76 216.67,360.92 C217.76,363.09 218.93,365.55 219.73,367.86 C220.53,370.17 220.97,372.49 221.47,374.80 C221.98,377.11 222.49,379.42 222.78,381.74 C223.08,384.05 223.22,386.65 223.22,388.67 C223.22,390.70 223.15,392.00 222.78,393.88 C222.42,395.76 221.91,398.00 221.04,399.95 C220.17,401.90 218.86,403.71 217.55,405.58 C216.24,407.46 214.78,409.27 213.18,411.22 C211.58,413.17 209.69,415.41 207.94,417.29 C206.20,419.17 204.60,421.05 202.71,422.49 C200.81,423.94 198.49,424.99 196.59,425.96 C194.70,426.93 193.54,427.73 191.36,428.30 C189.17,428.88 186.12,429.22 183.50,429.43 C180.88,429.65 178.12,429.79 175.64,429.61 C173.17,429.42 170.77,429.06 168.66,428.30 C166.55,427.55 164.80,426.35 162.98,425.10 C161.17,423.84 159.42,422.28 157.75,420.76 C156.07,419.24 154.40,417.65 152.94,415.99 C151.49,414.33 149.96,412.52 149.02,410.79 C148.07,409.05 147.49,407.25 147.27,405.58 C147.05,403.92 147.27,402.33 147.71,400.82 C148.14,399.30 149.02,398.00 149.89,396.48 C150.76,394.96 151.78,393.30 152.94,391.71 C154.11,390.12 155.55,388.47 156.87,386.94 C158.20,385.41 159.56,384.08 160.89,382.52 C162.21,380.96 163.33,379.22 164.82,377.57 C166.30,375.93 168.13,374.39 169.79,372.63 C171.45,370.87 173.07,368.87 174.77,367.00 C176.47,365.12 178.26,363.17 180.01,361.36 C181.75,359.55 183.50,357.53 185.25,356.16 C186.99,354.78 188.81,354.20 190.48,353.12 C192.16,352.04 193.61,350.59 195.28,349.65 C196.96,348.71 198.85,347.77 200.52,347.48Z" fill="#472472" opacity="1.0" filter="url(#i5r1)"/><path d="M197.10,346.92 C198.70,346.65 200.24,346.86 201.70,347.34 C203.17,347.83 204.63,348.73 205.89,349.83 C207.14,350.94 208.12,352.33 209.24,353.99 C210.35,355.65 211.54,357.73 212.58,359.81 C213.63,361.89 214.75,364.25 215.51,366.46 C216.28,368.68 216.70,370.90 217.19,373.11 C217.68,375.33 218.16,377.55 218.44,379.77 C218.72,381.98 218.86,384.48 218.86,386.42 C218.86,388.36 218.79,389.60 218.44,391.41 C218.09,393.21 217.61,395.35 216.77,397.23 C215.93,399.10 214.68,400.83 213.42,402.63 C212.17,404.43 210.77,406.16 209.24,408.03 C207.70,409.90 205.89,412.05 204.21,413.85 C202.54,415.66 201.01,417.46 199.19,418.84 C197.38,420.23 195.15,421.24 193.33,422.17 C191.52,423.10 190.40,423.86 188.31,424.41 C186.22,424.97 183.29,425.29 180.78,425.49 C178.27,425.70 175.62,425.84 173.25,425.66 C170.87,425.48 168.57,425.13 166.55,424.41 C164.53,423.69 162.85,422.54 161.11,421.34 C159.37,420.13 157.69,418.63 156.09,417.18 C154.48,415.72 152.88,414.20 151.48,412.61 C150.09,411.01 148.62,409.28 147.72,407.62 C146.81,405.96 146.25,404.22 146.04,402.63 C145.83,401.04 146.04,399.51 146.46,398.06 C146.88,396.60 147.72,395.35 148.55,393.90 C149.39,392.44 150.37,390.85 151.48,389.33 C152.60,387.80 153.98,386.22 155.25,384.75 C156.52,383.29 157.83,382.01 159.10,380.51 C160.37,379.02 161.44,377.35 162.87,375.77 C164.29,374.20 166.05,372.73 167.64,371.04 C169.23,369.35 170.78,367.43 172.41,365.63 C174.04,363.83 175.76,361.96 177.43,360.23 C179.10,358.50 180.78,356.56 182.45,355.24 C184.13,353.92 185.87,353.37 187.47,352.33 C189.08,351.29 190.47,349.90 192.08,349.00 C193.68,348.10 195.50,347.20 197.10,346.92Z" fill="#423f85" opacity="1.0" filter="url(#i5r2)"/><g clip-path="url(#i5cc950)"><g filter="url(#i5b3)"><ellipse cx="172.40" cy="402.39" rx="19.80" ry="19.67" fill="#355f8d" opacity="0.35"/></g></g><g clip-path="url(#i5cc1000)"><g filter="url(#i5b4)"><ellipse cx="203.00" cy="368.42" rx="19.80" ry="22.35" fill="#472c7c" opacity="0.4"/></g></g><g clip-path="url(#i5cc1000)"><g filter="url(#i5b5)"><ellipse cx="195.80" cy="346.07" rx="22.50" ry="9.83" fill="#46146a" opacity="0.85"/></g></g><g clip-path="url(#i5cc1000)"><g filter="url(#i5b6)"><ellipse cx="221.00" cy="352.33" rx="9.00" ry="8.94" fill="#46166a" opacity="0.5"/></g></g><g clip-path="url(#i5c8)"><g><rect x="140.00" y="341.60" width="90.00" height="89.40" filter="url(#i5n7)" opacity="0.5"/></g></g><g clip-path="url(#i5c10)"><g><rect x="140.00" y="341.60" width="90.00" height="89.40" filter="url(#i5n9)" opacity="0.45"/></g></g><g filter="url(#i5b11)"><ellipse cx="176.00" cy="407.76" rx="9.00" ry="10.73" fill="#1f968b" opacity="0.55"/></g><g filter="url(#i5r12)"><ellipse cx="179.15" cy="408.20" rx="5.04" ry="7.69" fill="#6ccd5a" opacity="1.0" transform="rotate(-10 179.15 408.20)"/></g><g filter="url(#i5r13)"><ellipse cx="179.60" cy="408.20" rx="3.24" ry="5.72" fill="#f5e626" opacity="1.0" transform="rotate(-10 179.60 408.20)"/></g><g filter="url(#i5b14)"><ellipse cx="161.60" cy="400.60" rx="1.26" ry="1.25" fill="#5ac864" opacity="1.0"/></g><g filter="url(#i5b15)"><ellipse cx="155.30" cy="393.09" rx="0.99" ry="0.98" fill="#2a9a8a" opacity="1.0"/></g></g>
<rect x="140.00" y="341.60" width="90.00" height="89.40" fill="none" stroke="#333" stroke-width="0.5"/>
<defs><clipPath id="i6clip"><rect x="140.00" y="447.00" width="90.00" height="89.00"/></clipPath><filter id="i6r1" x="-20%" y="-20%" width="140%" height="140%" color-interpolation-filters="sRGB"><feTurbulence type="fractalNoise" baseFrequency="0.12" numOctaves="2" seed="3" result="t"/><feDisplacementMap in="SourceGraphic" in2="t" scale="6" xChannelSelector="R" yChannelSelector="G" result="d"/><feGaussianBlur in="d" stdDeviation="1.0"/></filter><filter id="i6b2" x="-50%" y="-50%" width="200%" height="200%"><feGaussianBlur stdDeviation="5"/></filter><clipPath id="i6cc1000"><path d="M199.85,451.00 C201.57,450.71 203.23,450.93 204.80,451.45 C206.38,451.97 207.95,452.93 209.30,454.12 C210.65,455.31 211.70,456.79 212.90,458.57 C214.10,460.35 215.38,462.57 216.50,464.80 C217.62,467.03 218.83,469.55 219.65,471.92 C220.47,474.29 220.92,476.67 221.45,479.04 C221.97,481.41 222.50,483.79 222.80,486.16 C223.10,488.53 223.25,491.20 223.25,493.28 C223.25,495.36 223.18,496.69 222.80,498.62 C222.43,500.55 221.90,502.85 221.00,504.85 C220.10,506.85 218.75,508.71 217.40,510.63 C216.05,512.56 214.55,514.42 212.90,516.42 C211.25,518.42 209.30,520.72 207.50,522.65 C205.70,524.58 204.05,526.51 202.10,527.99 C200.15,529.47 197.75,530.56 195.80,531.55 C193.85,532.54 192.65,533.36 190.40,533.95 C188.15,534.55 185.00,534.89 182.30,535.11 C179.60,535.33 176.75,535.48 174.20,535.29 C171.65,535.10 169.18,534.72 167.00,533.95 C164.82,533.18 163.03,531.95 161.15,530.66 C159.28,529.37 157.47,527.77 155.75,526.21 C154.03,524.65 152.30,523.02 150.80,521.32 C149.30,519.61 147.72,517.75 146.75,515.98 C145.78,514.20 145.17,512.34 144.95,510.63 C144.72,508.93 144.95,507.30 145.40,505.74 C145.85,504.18 146.75,502.85 147.65,501.29 C148.55,499.73 149.60,498.03 150.80,496.39 C152.00,494.76 153.48,493.07 154.85,491.50 C156.22,489.93 157.62,488.56 158.99,486.96 C160.36,485.36 161.51,483.58 163.04,481.89 C164.57,480.20 166.46,478.62 168.17,476.81 C169.88,475.01 171.55,472.96 173.30,471.03 C175.06,469.10 176.90,467.10 178.70,465.25 C180.50,463.39 182.30,461.31 184.10,459.90 C185.90,458.50 187.78,457.90 189.50,456.79 C191.22,455.68 192.72,454.19 194.45,453.23 C196.17,452.27 198.12,451.30 199.85,451.00Z"/></clipPath><filter id="i6n3" x="0" y="0" width="100%" height="100%" color-interpolation-filters="sRGB"><feTurbulence type="fractalNoise" baseFrequency="0.18" numOctaves="2" seed="8"/><feColorMatrix type="matrix" values="0 0 0 0 0.243 0 0 0 0 0.290 0 0 0 0 0.537 2.8 0 0 0 -1.25"/></filter><clipPath id="i6c4"><path d="M199.44,452.32 C201.12,452.04 202.72,452.25 204.24,452.75 C205.77,453.26 207.30,454.19 208.61,455.34 C209.92,456.50 210.94,457.93 212.10,459.66 C213.27,461.39 214.50,463.55 215.59,465.70 C216.68,467.86 217.85,470.31 218.65,472.61 C219.45,474.91 219.89,477.22 220.39,479.52 C220.90,481.82 221.41,484.12 221.70,486.42 C222.00,488.73 222.14,491.32 222.14,493.33 C222.14,495.34 222.07,496.64 221.70,498.51 C221.34,500.38 220.83,502.61 219.96,504.55 C219.09,506.50 217.78,508.29 216.47,510.16 C215.16,512.03 213.70,513.83 212.10,515.78 C210.50,517.72 208.61,519.95 206.86,521.82 C205.12,523.69 203.52,525.56 201.63,527.00 C199.73,528.44 197.41,529.49 195.51,530.45 C193.62,531.42 192.46,532.21 190.28,532.78 C188.09,533.36 185.04,533.69 182.42,533.91 C179.80,534.12 177.04,534.26 174.56,534.08 C172.09,533.89 169.69,533.53 167.58,532.78 C165.47,532.03 163.72,530.84 161.90,529.59 C160.09,528.34 158.34,526.78 156.67,525.27 C154.99,523.76 153.32,522.18 151.86,520.52 C150.41,518.87 148.88,517.07 147.94,515.34 C146.99,513.62 146.41,511.82 146.19,510.16 C145.97,508.51 146.19,506.93 146.63,505.42 C147.06,503.91 147.94,502.61 148.81,501.10 C149.68,499.59 150.70,497.93 151.86,496.35 C153.03,494.77 154.47,493.13 155.79,491.60 C157.12,490.08 158.48,488.75 159.81,487.20 C161.13,485.65 162.25,483.92 163.74,482.28 C165.22,480.64 167.05,479.11 168.71,477.36 C170.37,475.60 171.99,473.62 173.69,471.75 C175.39,469.88 177.18,467.93 178.93,466.14 C180.67,464.34 182.42,462.32 184.17,460.96 C185.91,459.59 187.73,459.01 189.40,457.93 C191.08,456.86 192.53,455.42 194.20,454.48 C195.88,453.55 197.77,452.61 199.44,452.32Z"/></clipPath><filter id="i6n5" x="0" y="0" width="100%" height="100%" color-interpolation-filters="sRGB"><feTurbulence type="fractalNoise" baseFrequency="0.18" numOctaves="2" seed="28"/><feColorMatrix type="matrix" values="0 0 0 0 0.282 0 0 0 0 0.098 0 0 0 0 0.478 2.8 0 0 0 -1.3"/></filter><clipPath id="i6c6"><path d="M199.44,452.32 C201.12,452.04 202.72,452.25 204.24,452.75 C205.77,453.26 207.30,454.19 208.61,455.34 C209.92,456.50 210.94,457.93 212.10,459.66 C213.27,461.39 214.50,463.55 215.59,465.70 C216.68,467.86 217.85,470.31 218.65,472.61 C219.45,474.91 219.89,477.22 220.39,479.52 C220.90,481.82 221.41,484.12 221.70,486.42 C222.00,488.73 222.14,491.32 222.14,493.33 C222.14,495.34 222.07,496.64 221.70,498.51 C221.34,500.38 220.83,502.61 219.96,504.55 C219.09,506.50 217.78,508.29 216.47,510.16 C215.16,512.03 213.70,513.83 212.10,515.78 C210.50,517.72 208.61,519.95 206.86,521.82 C205.12,523.69 203.52,525.56 201.63,527.00 C199.73,528.44 197.41,529.49 195.51,530.45 C193.62,531.42 192.46,532.21 190.28,532.78 C188.09,533.36 185.04,533.69 182.42,533.91 C179.80,534.12 177.04,534.26 174.56,534.08 C172.09,533.89 169.69,533.53 167.58,532.78 C165.47,532.03 163.72,530.84 161.90,529.59 C160.09,528.34 158.34,526.78 156.67,525.27 C154.99,523.76 153.32,522.18 151.86,520.52 C150.41,518.87 148.88,517.07 147.94,515.34 C146.99,513.62 146.41,511.82 146.19,510.16 C145.97,508.51 146.19,506.93 146.63,505.42 C147.06,503.91 147.94,502.61 148.81,501.10 C149.68,499.59 150.70,497.93 151.86,496.35 C153.03,494.77 154.47,493.13 155.79,491.60 C157.12,490.08 158.48,488.75 159.81,487.20 C161.13,485.65 162.25,483.92 163.74,482.28 C165.22,480.64 167.05,479.11 168.71,477.36 C170.37,475.60 171.99,473.62 173.69,471.75 C175.39,469.88 177.18,467.93 178.93,466.14 C180.67,464.34 182.42,462.32 184.17,460.96 C185.91,459.59 187.73,459.01 189.40,457.93 C191.08,456.86 192.53,455.42 194.20,454.48 C195.88,453.55 197.77,452.61 199.44,452.32Z"/></clipPath><filter id="i6n7" x="0" y="0" width="100%" height="100%" color-interpolation-filters="sRGB"><feTurbulence type="fractalNoise" baseFrequency="0.5" numOctaves="2" seed="38"/><feColorMatrix type="matrix" values="0 0 0 0 0.231 0 0 0 0 0.322 0 0 0 0 0.545 2.6 0 0 0 -1.3"/></filter><clipPath id="i6c8"><path d="M199.44,452.32 C201.12,452.04 202.72,452.25 204.24,452.75 C205.77,453.26 207.30,454.19 208.61,455.34 C209.92,456.50 210.94,457.93 212.10,459.66 C213.27,461.39 214.50,463.55 215.59,465.70 C216.68,467.86 217.85,470.31 218.65,472.61 C219.45,474.91 219.89,477.22 220.39,479.52 C220.90,481.82 221.41,484.12 221.70,486.42 C222.00,488.73 222.14,491.32 222.14,493.33 C222.14,495.34 222.07,496.64 221.70,498.51 C221.34,500.38 220.83,502.61 219.96,504.55 C219.09,506.50 217.78,508.29 216.47,510.16 C215.16,512.03 213.70,513.83 212.10,515.78 C210.50,517.72 208.61,519.95 206.86,521.82 C205.12,523.69 203.52,525.56 201.63,527.00 C199.73,528.44 197.41,529.49 195.51,530.45 C193.62,531.42 192.46,532.21 190.28,532.78 C188.09,533.36 185.04,533.69 182.42,533.91 C179.80,534.12 177.04,534.26 174.56,534.08 C172.09,533.89 169.69,533.53 167.58,532.78 C165.47,532.03 163.72,530.84 161.90,529.59 C160.09,528.34 158.34,526.78 156.67,525.27 C154.99,523.76 153.32,522.18 151.86,520.52 C150.41,518.87 148.88,517.07 147.94,515.34 C146.99,513.62 146.41,511.82 146.19,510.16 C145.97,508.51 146.19,506.93 146.63,505.42 C147.06,503.91 147.94,502.61 148.81,501.10 C149.68,499.59 150.70,497.93 151.86,496.35 C153.03,494.77 154.47,493.13 155.79,491.60 C157.12,490.08 158.48,488.75 159.81,487.20 C161.13,485.65 162.25,483.92 163.74,482.28 C165.22,480.64 167.05,479.11 168.71,477.36 C170.37,475.60 171.99,473.62 173.69,471.75 C175.39,469.88 177.18,467.93 178.93,466.14 C180.67,464.34 182.42,462.32 184.17,460.96 C185.91,459.59 187.73,459.01 189.40,457.93 C191.08,456.86 192.53,455.42 194.20,454.48 C195.88,453.55 197.77,452.61 199.44,452.32Z"/></clipPath><filter id="i6r9" x="-20%" y="-20%" width="140%" height="140%" color-interpolation-filters="sRGB"><feTurbulence type="fractalNoise" baseFrequency="0.2" numOctaves="2" seed="4" result="t"/><feDisplacementMap in="SourceGraphic" in2="t" scale="4" xChannelSelector="R" yChannelSelector="G" result="d"/><feGaussianBlur in="d" stdDeviation="1.0"/></filter><filter id="i6b10" x="-50%" y="-50%" width="200%" height="200%"><feGaussianBlur stdDeviation="0.6"/></filter><filter id="i6b11" x="-50%" y="-50%" width="200%" height="200%"><feGaussianBlur stdDeviation="0.5"/></filter></defs><g clip-path="url(#i6clip)"><rect x="140.00" y="447.00" width="90.00" height="89.00" fill="#450457"/><path d="M199.85,451.00 C201.57,450.71 203.23,450.93 204.80,451.45 C206.38,451.97 207.95,452.93 209.30,454.12 C210.65,455.31 211.70,456.79 212.90,458.57 C214.10,460.35 215.38,462.57 216.50,464.80 C217.62,467.03 218.83,469.55 219.65,471.92 C220.47,474.29 220.92,476.67 221.45,479.04 C221.97,481.41 222.50,483.79 222.80,486.16 C223.10,488.53 223.25,491.20 223.25,493.28 C223.25,495.36 223.18,496.69 222.80,498.62 C222.43,500.55 221.90,502.85 221.00,504.85 C220.10,506.85 218.75,508.71 217.40,510.63 C216.05,512.56 214.55,514.42 212.90,516.42 C211.25,518.42 209.30,520.72 207.50,522.65 C205.70,524.58 204.05,526.51 202.10,527.99 C200.15,529.47 197.75,530.56 195.80,531.55 C193.85,532.54 192.65,533.36 190.40,533.95 C188.15,534.55 185.00,534.89 182.30,535.11 C179.60,535.33 176.75,535.48 174.20,535.29 C171.65,535.10 169.18,534.72 167.00,533.95 C164.82,533.18 163.03,531.95 161.15,530.66 C159.28,529.37 157.47,527.77 155.75,526.21 C154.03,524.65 152.30,523.02 150.80,521.32 C149.30,519.61 147.72,517.75 146.75,515.98 C145.78,514.20 145.17,512.34 144.95,510.63 C144.72,508.93 144.95,507.30 145.40,505.74 C145.85,504.18 146.75,502.85 147.65,501.29 C148.55,499.73 149.60,498.03 150.80,496.39 C152.00,494.76 153.48,493.07 154.85,491.50 C156.22,489.93 157.62,488.56 158.99,486.96 C160.36,485.36 161.51,483.58 163.04,481.89 C164.57,480.20 166.46,478.62 168.17,476.81 C169.88,475.01 171.55,472.96 173.30,471.03 C175.06,469.10 176.90,467.10 178.70,465.25 C180.50,463.39 182.30,461.31 184.10,459.90 C185.90,458.50 187.78,457.90 189.50,456.79 C191.22,455.68 192.72,454.19 194.45,453.23 C196.17,452.27 198.12,451.30 199.85,451.00Z" fill="#47307c" opacity="1.0" filter="url(#i6r1)"/><g clip-path="url(#i6cc1000)"><g filter="url(#i6b2)"><ellipse cx="208.40" cy="486.16" rx="11.70" ry="17.80" fill="#433d84" opacity="0.8"/></g></g><g clip-path="url(#i6c4)"><g><rect x="140.00" y="447.00" width="90.00" height="89.00" filter="url(#i6n3)" opacity="0.75"/></g></g><g clip-path="url(#i6c6)"><g><rect x="140.00" y="447.00" width="90.00" height="89.00" filter="url(#i6n5)" opacity="0.6"/></g></g><g clip-path="url(#i6c8)"><g><rect x="140.00" y="447.00" width="90.00" height="89.00" filter="url(#i6n7)" opacity="0.45"/></g></g><g filter="url(#i6r9)"><ellipse cx="176.90" cy="511.97" rx="7.92" ry="9.34" fill="#450457" opacity="1.0"/></g><g filter="url(#i6b10)"><ellipse cx="161.87" cy="506.10" rx="1.80" ry="1.78" fill="#450457" opacity="1.0"/></g><g filter="url(#i6b11)"><ellipse cx="155.66" cy="498.62" rx="1.08" ry="1.07" fill="#450457" opacity="1.0"/></g></g>
<rect x="140.00" y="447.00" width="90.00" height="89.00" fill="none" stroke="#333" stroke-width="0.5"/>
<line x1="138.5" y1="341.60" x2="140.0" y2="341.60" stroke="#333" stroke-width="0.5"/>
<text x="137.70" y="343.60" font-size="5.6" text-anchor="end" fill="#1a1a1a" stroke="#1a1a1a" stroke-width="0.1" font-family="DejaVu Sans, Liberation Sans, sans-serif" >0</text>
<line x1="138.5" y1="359.06" x2="140.0" y2="359.06" stroke="#333" stroke-width="0.5"/>
<text x="137.70" y="361.06" font-size="5.6" text-anchor="end" fill="#1a1a1a" stroke="#1a1a1a" stroke-width="0.1" font-family="DejaVu Sans, Liberation Sans, sans-serif" >100</text>
<line x1="138.5" y1="376.52" x2="140.0" y2="376.52" stroke="#333" stroke-width="0.5"/>
<text x="137.70" y="378.52" font-size="5.6" text-anchor="end" fill="#1a1a1a" stroke="#1a1a1a" stroke-width="0.1" font-family="DejaVu Sans, Liberation Sans, sans-serif" >200</text>
<line x1="138.5" y1="393.98" x2="140.0" y2="393.98" stroke="#333" stroke-width="0.5"/>
<text x="137.70" y="395.98" font-size="5.6" text-anchor="end" fill="#1a1a1a" stroke="#1a1a1a" stroke-width="0.1" font-family="DejaVu Sans, Liberation Sans, sans-serif" >300</text>
<line x1="138.5" y1="411.44" x2="140.0" y2="411.44" stroke="#333" stroke-width="0.5"/>
<text x="137.70" y="413.44" font-size="5.6" text-anchor="end" fill="#1a1a1a" stroke="#1a1a1a" stroke-width="0.1" font-family="DejaVu Sans, Liberation Sans, sans-serif" >400</text>
<line x1="138.5" y1="428.90" x2="140.0" y2="428.90" stroke="#333" stroke-width="0.5"/>
<text x="137.70" y="430.90" font-size="5.6" text-anchor="end" fill="#1a1a1a" stroke="#1a1a1a" stroke-width="0.1" font-family="DejaVu Sans, Liberation Sans, sans-serif" >500</text>
<line x1="140.00" y1="431.0" x2="140.00" y2="432.5" stroke="#333" stroke-width="0.5"/>
<text x="140.00" y="438.40" font-size="5.6" text-anchor="middle" fill="#1a1a1a" stroke="#1a1a1a" stroke-width="0.1" font-family="DejaVu Sans, Liberation Sans, sans-serif" >0</text>
<line x1="175.16" y1="431.0" x2="175.16" y2="432.5" stroke="#333" stroke-width="0.5"/>
<text x="175.16" y="438.40" font-size="5.6" text-anchor="middle" fill="#1a1a1a" stroke="#1a1a1a" stroke-width="0.1" font-family="DejaVu Sans, Liberation Sans, sans-serif" >200</text>
<line x1="210.31" y1="431.0" x2="210.31" y2="432.5" stroke="#333" stroke-width="0.5"/>
<text x="210.31" y="438.40" font-size="5.6" text-anchor="middle" fill="#1a1a1a" stroke="#1a1a1a" stroke-width="0.1" font-family="DejaVu Sans, Liberation Sans, sans-serif" >400</text>
<line x1="138.5" y1="447.00" x2="140.0" y2="447.00" stroke="#333" stroke-width="0.5"/>
<text x="137.70" y="449.00" font-size="5.6" text-anchor="end" fill="#1a1a1a" stroke="#1a1a1a" stroke-width="0.1" font-family="DejaVu Sans, Liberation Sans, sans-serif" >0</text>
<line x1="138.5" y1="464.38" x2="140.0" y2="464.38" stroke="#333" stroke-width="0.5"/>
<text x="137.70" y="466.38" font-size="5.6" text-anchor="end" fill="#1a1a1a" stroke="#1a1a1a" stroke-width="0.1" font-family="DejaVu Sans, Liberation Sans, sans-serif" >100</text>
<line x1="138.5" y1="481.77" x2="140.0" y2="481.77" stroke="#333" stroke-width="0.5"/>
<text x="137.70" y="483.77" font-size="5.6" text-anchor="end" fill="#1a1a1a" stroke="#1a1a1a" stroke-width="0.1" font-family="DejaVu Sans, Liberation Sans, sans-serif" >200</text>
<line x1="138.5" y1="499.15" x2="140.0" y2="499.15" stroke="#333" stroke-width="0.5"/>
<text x="137.70" y="501.15" font-size="5.6" text-anchor="end" fill="#1a1a1a" stroke="#1a1a1a" stroke-width="0.1" font-family="DejaVu Sans, Liberation Sans, sans-serif" >300</text>
<line x1="138.5" y1="516.53" x2="140.0" y2="516.53" stroke="#333" stroke-width="0.5"/>
<text x="137.70" y="518.53" font-size="5.6" text-anchor="end" fill="#1a1a1a" stroke="#1a1a1a" stroke-width="0.1" font-family="DejaVu Sans, Liberation Sans, sans-serif" >400</text>
<line x1="138.5" y1="533.91" x2="140.0" y2="533.91" stroke="#333" stroke-width="0.5"/>
<text x="137.70" y="535.91" font-size="5.6" text-anchor="end" fill="#1a1a1a" stroke="#1a1a1a" stroke-width="0.1" font-family="DejaVu Sans, Liberation Sans, sans-serif" >500</text>
<line x1="140.00" y1="536.0" x2="140.00" y2="537.5" stroke="#333" stroke-width="0.5"/>
<text x="140.00" y="543.40" font-size="5.6" text-anchor="middle" fill="#1a1a1a" stroke="#1a1a1a" stroke-width="0.1" font-family="DejaVu Sans, Liberation Sans, sans-serif" >0</text>
<line x1="175.16" y1="536.0" x2="175.16" y2="537.5" stroke="#333" stroke-width="0.5"/>
<text x="175.16" y="543.40" font-size="5.6" text-anchor="middle" fill="#1a1a1a" stroke="#1a1a1a" stroke-width="0.1" font-family="DejaVu Sans, Liberation Sans, sans-serif" >200</text>
<line x1="210.31" y1="536.0" x2="210.31" y2="537.5" stroke="#333" stroke-width="0.5"/>
<text x="210.31" y="543.40" font-size="5.6" text-anchor="middle" fill="#1a1a1a" stroke="#1a1a1a" stroke-width="0.1" font-family="DejaVu Sans, Liberation Sans, sans-serif" >400</text>
<defs><clipPath id="i7clip"><rect x="248.20" y="341.60" width="90.00" height="89.40"/></clipPath><filter id="i7r1" x="-20%" y="-20%" width="140%" height="140%" color-interpolation-filters="sRGB"><feTurbulence type="fractalNoise" baseFrequency="0.1" numOctaves="2" seed="3" result="t"/><feDisplacementMap in="SourceGraphic" in2="t" scale="4" xChannelSelector="R" yChannelSelector="G" result="d"/><feGaussianBlur in="d" stdDeviation="1.5"/></filter><filter id="i7r2" x="-20%" y="-20%" width="140%" height="140%" color-interpolation-filters="sRGB"><feTurbulence type="fractalNoise" baseFrequency="0.12" numOctaves="2" seed="5" result="t"/><feDisplacementMap in="SourceGraphic" in2="t" scale="5" xChannelSelector="R" yChannelSelector="G" result="d"/><feGaussianBlur in="d" stdDeviation="1.5"/></filter><filter id="i7b3" x="-50%" y="-50%" width="200%" height="200%"><feGaussianBlur stdDeviation="6"/></filter><clipPath id="i7cc950"><path d="M307.37,347.83 C309.01,347.55 310.58,347.76 312.07,348.25 C313.57,348.75 315.07,349.67 316.35,350.80 C317.63,351.93 318.63,353.35 319.77,355.05 C320.91,356.75 322.12,358.87 323.19,360.99 C324.26,363.12 325.40,365.52 326.18,367.79 C326.97,370.05 327.39,372.32 327.89,374.58 C328.39,376.85 328.89,379.11 329.17,381.38 C329.46,383.64 329.60,386.19 329.60,388.17 C329.60,390.15 329.53,391.43 329.17,393.27 C328.82,395.11 328.32,397.30 327.46,399.21 C326.61,401.12 325.33,402.89 324.04,404.73 C322.76,406.57 321.34,408.34 319.77,410.25 C318.20,412.16 316.35,414.36 314.64,416.20 C312.93,418.04 311.36,419.88 309.51,421.29 C307.66,422.71 305.38,423.74 303.52,424.69 C301.67,425.64 300.53,426.42 298.39,426.98 C296.26,427.55 293.26,427.88 290.70,428.09 C288.13,428.30 285.43,428.44 283.00,428.26 C280.58,428.07 278.23,427.72 276.16,426.98 C274.10,426.25 272.39,425.07 270.61,423.84 C268.83,422.61 267.12,421.08 265.48,419.60 C263.84,418.11 262.20,416.55 260.77,414.92 C259.35,413.30 257.85,411.53 256.93,409.83 C256.00,408.13 255.43,406.36 255.22,404.73 C255.00,403.11 255.22,401.55 255.64,400.06 C256.07,398.58 256.93,397.30 257.78,395.82 C258.64,394.33 259.63,392.70 260.77,391.14 C261.91,389.59 263.32,387.97 264.62,386.47 C265.92,384.97 267.26,383.67 268.55,382.14 C269.85,380.61 270.95,378.91 272.40,377.30 C273.86,375.69 275.65,374.19 277.28,372.46 C278.90,370.73 280.48,368.78 282.15,366.94 C283.82,365.10 285.57,363.19 287.28,361.42 C288.99,359.65 290.70,357.67 292.41,356.32 C294.12,354.98 295.90,354.41 297.54,353.35 C299.18,352.29 300.60,350.87 302.24,349.95 C303.88,349.03 305.73,348.11 307.37,347.83Z"/></clipPath><filter id="i7b4" x="-50%" y="-50%" width="200%" height="200%"><feGaussianBlur stdDeviation="7"/></filter><clipPath id="i7cc1000"><path d="M308.05,345.62 C309.78,345.33 311.43,345.55 313.00,346.07 C314.57,346.59 316.15,347.56 317.50,348.75 C318.85,349.94 319.90,351.43 321.10,353.22 C322.30,355.01 323.57,357.25 324.70,359.48 C325.82,361.72 327.03,364.25 327.85,366.63 C328.68,369.02 329.12,371.40 329.65,373.78 C330.17,376.17 330.70,378.55 331.00,380.94 C331.30,383.32 331.45,386.00 331.45,388.09 C331.45,390.17 331.38,391.51 331.00,393.45 C330.62,395.39 330.10,397.70 329.20,399.71 C328.30,401.72 326.95,403.58 325.60,405.52 C324.25,407.46 322.75,409.32 321.10,411.33 C319.45,413.34 317.50,415.65 315.70,417.59 C313.90,419.53 312.25,421.46 310.30,422.95 C308.35,424.44 305.95,425.53 304.00,426.53 C302.05,427.53 300.85,428.35 298.60,428.94 C296.35,429.54 293.20,429.88 290.50,430.11 C287.80,430.33 284.95,430.48 282.40,430.28 C279.85,430.09 277.38,429.72 275.20,428.94 C273.02,428.17 271.22,426.93 269.35,425.64 C267.47,424.34 265.67,422.73 263.95,421.17 C262.23,419.60 260.50,417.96 259.00,416.25 C257.50,414.54 255.92,412.67 254.95,410.88 C253.97,409.10 253.37,407.23 253.15,405.52 C252.92,403.81 253.15,402.17 253.60,400.60 C254.05,399.04 254.95,397.70 255.85,396.13 C256.75,394.57 257.80,392.86 259.00,391.22 C260.20,389.58 261.69,387.88 263.05,386.30 C264.42,384.72 265.82,383.35 267.19,381.74 C268.56,380.13 269.71,378.34 271.24,376.64 C272.77,374.95 274.66,373.37 276.37,371.55 C278.08,369.73 279.75,367.68 281.50,365.74 C283.25,363.80 285.10,361.79 286.90,359.93 C288.70,358.06 290.50,355.98 292.30,354.56 C294.10,353.15 295.98,352.55 297.70,351.43 C299.42,350.32 300.92,348.83 302.65,347.86 C304.38,346.89 306.32,345.92 308.05,345.62Z"/></clipPath><filter id="i7b5" x="-50%" y="-50%" width="200%" height="200%"><feGaussianBlur stdDeviation="4"/></filter><filter id="i7b6" x="-50%" y="-50%" width="200%" height="200%"><feGaussianBlur stdDeviation="4"/></filter><filter id="i7n7" x="0" y="0" width="100%" height="100%" color-interpolation-filters="sRGB"><feTurbulence type="fractalNoise" baseFrequency="0.45" numOctaves="2" seed="7"/><feColorMatrix type="matrix" values="0 0 0 0 0.227 0 0 0 0 0.361 0 0 0 0 0.549 2.6 0 0 0 -1.3"/></filter><clipPath id="i7c8"><path d="M307.10,348.71 C308.70,348.44 310.24,348.64 311.70,349.13 C313.17,349.61 314.63,350.51 315.89,351.62 C317.14,352.73 318.12,354.12 319.24,355.78 C320.35,357.44 321.54,359.52 322.58,361.60 C323.63,363.68 324.75,366.03 325.51,368.25 C326.28,370.47 326.70,372.69 327.19,374.90 C327.68,377.12 328.16,379.34 328.44,381.55 C328.72,383.77 328.86,386.27 328.86,388.21 C328.86,390.15 328.79,391.39 328.44,393.19 C328.09,394.99 327.61,397.14 326.77,399.01 C325.93,400.88 324.68,402.62 323.42,404.42 C322.17,406.22 320.77,407.95 319.24,409.82 C317.70,411.69 315.89,413.84 314.21,415.64 C312.54,417.44 311.01,419.24 309.19,420.63 C307.38,422.02 305.15,423.03 303.33,423.96 C301.52,424.88 300.40,425.65 298.31,426.20 C296.22,426.76 293.29,427.07 290.78,427.28 C288.27,427.49 285.62,427.63 283.25,427.45 C280.87,427.27 278.57,426.92 276.55,426.20 C274.53,425.48 272.85,424.33 271.11,423.12 C269.37,421.92 267.69,420.42 266.09,418.97 C264.48,417.51 262.88,415.99 261.48,414.39 C260.09,412.80 258.62,411.07 257.72,409.41 C256.81,407.74 256.25,406.01 256.04,404.42 C255.83,402.82 256.04,401.30 256.46,399.84 C256.88,398.39 257.72,397.14 258.55,395.69 C259.39,394.23 260.37,392.64 261.48,391.12 C262.60,389.59 263.98,388.01 265.25,386.54 C266.52,385.07 267.83,383.80 269.10,382.30 C270.37,380.81 271.44,379.14 272.87,377.56 C274.29,375.98 276.05,374.51 277.64,372.82 C279.23,371.13 280.78,369.22 282.41,367.42 C284.04,365.62 285.76,363.75 287.43,362.02 C289.10,360.28 290.78,358.34 292.45,357.03 C294.13,355.71 295.87,355.16 297.47,354.12 C299.08,353.08 300.47,351.69 302.08,350.79 C303.68,349.89 305.50,348.99 307.10,348.71Z"/></clipPath><filter id="i7n9" x="0" y="0" width="100%" height="100%" color-interpolation-filters="sRGB"><feTurbulence type="fractalNoise" baseFrequency="0.45" numOctaves="2" seed="17"/><feColorMatrix type="matrix" values="0 0 0 0 0.282 0 0 0 0 0.137 0 0 0 0 0.478 2.6 0 0 0 -1.3"/></filter><clipPath id="i7c10"><path d="M307.10,348.71 C308.70,348.44 310.24,348.64 311.70,349.13 C313.17,349.61 314.63,350.51 315.89,351.62 C317.14,352.73 318.12,354.12 319.24,355.78 C320.35,357.44 321.54,359.52 322.58,361.60 C323.63,363.68 324.75,366.03 325.51,368.25 C326.28,370.47 326.70,372.69 327.19,374.90 C327.68,377.12 328.16,379.34 328.44,381.55 C328.72,383.77 328.86,386.27 328.86,388.21 C328.86,390.15 328.79,391.39 328.44,393.19 C328.09,394.99 327.61,397.14 326.77,399.01 C325.93,400.88 324.68,402.62 323.42,404.42 C322.17,406.22 320.77,407.95 319.24,409.82 C317.70,411.69 315.89,413.84 314.21,415.64 C312.54,417.44 311.01,419.24 309.19,420.63 C307.38,422.02 305.15,423.03 303.33,423.96 C301.52,424.88 300.40,425.65 298.31,426.20 C296.22,426.76 293.29,427.07 290.78,427.28 C288.27,427.49 285.62,427.63 283.25,427.45 C280.87,427.27 278.57,426.92 276.55,426.20 C274.53,425.48 272.85,424.33 271.11,423.12 C269.37,421.92 267.69,420.42 266.09,418.97 C264.48,417.51 262.88,415.99 261.48,414.39 C260.09,412.80 258.62,411.07 257.72,409.41 C256.81,407.74 256.25,406.01 256.04,404.42 C255.83,402.82 256.04,401.30 256.46,399.84 C256.88,398.39 257.72,397.14 258.55,395.69 C259.39,394.23 260.37,392.64 261.48,391.12 C262.60,389.59 263.98,388.01 265.25,386.54 C266.52,385.07 267.83,383.80 269.10,382.30 C270.37,380.81 271.44,379.14 272.87,377.56 C274.29,375.98 276.05,374.51 277.64,372.82 C279.23,371.13 280.78,369.22 282.41,367.42 C284.04,365.62 285.76,363.75 287.43,362.02 C289.10,360.28 290.78,358.34 292.45,357.03 C294.13,355.71 295.87,355.16 297.47,354.12 C299.08,353.08 300.47,351.69 302.08,350.79 C303.68,349.89 305.50,348.99 307.10,348.71Z"/></clipPath><filter id="i7b11" x="-50%" y="-50%" width="200%" height="200%"><feGaussianBlur stdDeviation="3"/></filter><filter id="i7r12" x="-20%" y="-20%" width="140%" height="140%" color-interpolation-filters="sRGB"><feTurbulence type="fractalNoise" baseFrequency="0.2" numOctaves="2" seed="4" result="t"/><feDisplacementMap in="SourceGraphic" in2="t" scale="3" xChannelSelector="R" yChannelSelector="G" result="d"/><feGaussianBlur in="d" stdDeviation="1.4"/></filter><filter id="i7r13" x="-20%" y="-20%" width="140%" height="140%" color-interpolation-filters="sRGB"><feTurbulence type="fractalNoise" baseFrequency="0.2" numOctaves="2" seed="6" result="t"/><feDisplacementMap in="SourceGraphic" in2="t" scale="3" xChannelSelector="R" yChannelSelector="G" result="d"/><feGaussianBlur in="d" stdDeviation="1.1"/></filter><filter id="i7b14" x="-50%" y="-50%" width="200%" height="200%"><feGaussianBlur stdDeviation="0.6"/></filter><filter id="i7b15" x="-50%" y="-50%" width="200%" height="200%"><feGaussianBlur stdDeviation="0.6"/></filter></defs><g clip-path="url(#i7clip)"><rect x="248.20" y="341.60" width="90.00" height="89.40" fill="#460a5c"/><path d="M308.72,347.48 C310.40,347.19 312.00,347.41 313.52,347.92 C315.05,348.42 316.58,349.36 317.89,350.52 C319.20,351.67 320.22,353.12 321.38,354.85 C322.55,356.59 323.78,358.76 324.87,360.92 C325.96,363.09 327.13,365.55 327.93,367.86 C328.73,370.17 329.17,372.49 329.67,374.80 C330.18,377.11 330.69,379.42 330.98,381.74 C331.28,384.05 331.42,386.65 331.42,388.67 C331.42,390.70 331.35,392.00 330.98,393.88 C330.62,395.76 330.11,398.00 329.24,399.95 C328.37,401.90 327.06,403.71 325.75,405.58 C324.44,407.46 322.98,409.27 321.38,411.22 C319.78,413.17 317.89,415.41 316.14,417.29 C314.40,419.17 312.80,421.05 310.91,422.49 C309.01,423.94 306.69,424.99 304.79,425.96 C302.90,426.93 301.74,427.73 299.56,428.30 C297.37,428.88 294.32,429.22 291.70,429.43 C289.08,429.65 286.32,429.79 283.84,429.61 C281.37,429.42 278.97,429.06 276.86,428.30 C274.75,427.55 273.00,426.35 271.18,425.10 C269.37,423.84 267.62,422.28 265.95,420.76 C264.27,419.24 262.60,417.65 261.14,415.99 C259.69,414.33 258.16,412.52 257.22,410.79 C256.27,409.05 255.69,407.25 255.47,405.58 C255.25,403.92 255.47,402.33 255.91,400.82 C256.34,399.30 257.22,398.00 258.09,396.48 C258.96,394.96 259.98,393.30 261.14,391.71 C262.31,390.12 263.75,388.47 265.07,386.94 C266.40,385.41 267.76,384.08 269.09,382.52 C270.41,380.96 271.53,379.22 273.02,377.57 C274.50,375.93 276.33,374.39 277.99,372.63 C279.65,370.87 281.27,368.87 282.97,367.00 C284.67,365.12 286.46,363.17 288.21,361.36 C289.95,359.55 291.70,357.53 293.45,356.16 C295.19,354.78 297.01,354.20 298.68,353.12 C300.36,352.04 301.81,350.59 303.48,349.65 C305.16,348.71 307.05,347.77 308.72,347.48Z" fill="#472472" opacity="1.0" filter="url(#i7r1)"/><path d="M305.30,346.92 C306.90,346.65 308.44,346.86 309.90,347.34 C311.37,347.83 312.83,348.73 314.09,349.83 C315.34,350.94 316.32,352.33 317.44,353.99 C318.55,355.65 319.74,357.73 320.78,359.81 C321.83,361.89 322.95,364.25 323.71,366.46 C324.48,368.68 324.90,370.90 325.39,373.11 C325.88,375.33 326.36,377.55 326.64,379.77 C326.92,381.98 327.06,384.48 327.06,386.42 C327.06,388.36 326.99,389.60 326.64,391.41 C326.29,393.21 325.81,395.35 324.97,397.23 C324.13,399.10 322.88,400.83 321.62,402.63 C320.37,404.43 318.97,406.16 317.44,408.03 C315.90,409.90 314.09,412.05 312.41,413.85 C310.74,415.66 309.21,417.46 307.39,418.84 C305.58,420.23 303.35,421.24 301.53,422.17 C299.72,423.10 298.60,423.86 296.51,424.41 C294.42,424.97 291.49,425.29 288.98,425.49 C286.47,425.70 283.82,425.84 281.45,425.66 C279.07,425.48 276.77,425.13 274.75,424.41 C272.73,423.69 271.05,422.54 269.31,421.34 C267.57,420.13 265.89,418.63 264.29,417.18 C262.68,415.72 261.08,414.20 259.68,412.61 C258.29,411.01 256.82,409.28 255.92,407.62 C255.01,405.96 254.45,404.22 254.24,402.63 C254.03,401.04 254.24,399.51 254.66,398.06 C255.08,396.60 255.92,395.35 256.75,393.90 C257.59,392.44 258.57,390.85 259.68,389.33 C260.80,387.80 262.18,386.22 263.45,384.75 C264.72,383.29 266.03,382.01 267.30,380.51 C268.57,379.02 269.64,377.35 271.07,375.77 C272.49,374.20 274.25,372.73 275.84,371.04 C277.43,369.35 278.98,367.43 280.61,365.63 C282.24,363.83 283.96,361.96 285.63,360.23 C287.30,358.50 288.98,356.56 290.65,355.24 C292.33,353.92 294.07,353.37 295.67,352.33 C297.28,351.29 298.67,349.90 300.28,349.00 C301.88,348.10 303.70,347.20 305.30,346.92Z" fill="#433c84" opacity="1.0" filter="url(#i7r2)"/><g clip-path="url(#i7cc950)"><g filter="url(#i7b3)"><ellipse cx="280.60" cy="402.39" rx="19.80" ry="19.67" fill="#355f8d" opacity="0.35"/></g></g><g clip-path="url(#i7cc1000)"><g filter="url(#i7b4)"><ellipse cx="311.20" cy="368.42" rx="19.80" ry="22.35" fill="#472c7c" opacity="0.4"/></g></g><g clip-path="url(#i7cc1000)"><g filter="url(#i7b5)"><ellipse cx="304.00" cy="346.07" rx="22.50" ry="9.83" fill="#46146a" opacity="0.85"/></g></g><g clip-path="url(#i7cc1000)"><g filter="url(#i7b6)"><ellipse cx="329.20" cy="352.33" rx="9.00" ry="8.94" fill="#46166a" opacity="0.5"/></g></g><g clip-path="url(#i7c8)"><g><rect x="248.20" y="341.60" width="90.00" height="89.40" filter="url(#i7n7)" opacity="0.5"/></g></g><g clip-path="url(#i7c10)"><g><rect x="248.20" y="341.60" width="90.00" height="89.40" filter="url(#i7n9)" opacity="0.45"/></g></g><g filter="url(#i7b11)"><ellipse cx="284.20" cy="407.76" rx="9.00" ry="10.73" fill="#1f968b" opacity="0.55"/></g><g filter="url(#i7r12)"><ellipse cx="287.35" cy="408.20" rx="5.04" ry="7.69" fill="#48c16e" opacity="1.0" transform="rotate(-10 287.35 408.20)"/></g><g filter="url(#i7r13)"><ellipse cx="287.80" cy="408.20" rx="3.24" ry="5.72" fill="#acdc38" opacity="1.0" transform="rotate(-10 287.80 408.20)"/></g><g filter="url(#i7b14)"><ellipse cx="269.80" cy="400.60" rx="1.26" ry="1.25" fill="#5ac864" opacity="1.0"/></g><g filter="url(#i7b15)"><ellipse cx="263.50" cy="393.09" rx="0.99" ry="0.98" fill="#2a9a8a" opacity="1.0"/></g></g>
<rect x="248.20" y="341.60" width="90.00" height="89.40" fill="none" stroke="#333" stroke-width="0.5"/>
<defs><clipPath id="i8clip"><rect x="248.20" y="447.00" width="90.00" height="89.00"/></clipPath><filter id="i8r1" x="-20%" y="-20%" width="140%" height="140%" color-interpolation-filters="sRGB"><feTurbulence type="fractalNoise" baseFrequency="0.12" numOctaves="2" seed="3" result="t"/><feDisplacementMap in="SourceGraphic" in2="t" scale="6" xChannelSelector="R" yChannelSelector="G" result="d"/><feGaussianBlur in="d" stdDeviation="1.0"/></filter><filter id="i8r2" x="-20%" y="-20%" width="140%" height="140%" color-interpolation-filters="sRGB"><feTurbulence type="fractalNoise" baseFrequency="0.2" numOctaves="2" seed="4" result="t"/><feDisplacementMap in="SourceGraphic" in2="t" scale="4" xChannelSelector="R" yChannelSelector="G" result="d"/><feGaussianBlur in="d" stdDeviation="1.0"/></filter><filter id="i8b3" x="-50%" y="-50%" width="200%" height="200%"><feGaussianBlur stdDeviation="0.6"/></filter><filter id="i8b4" x="-50%" y="-50%" width="200%" height="200%"><feGaussianBlur stdDeviation="0.5"/></filter></defs><g clip-path="url(#i8clip)"><rect x="248.20" y="447.00" width="90.00" height="89.00" fill="#450457"/><path d="M308.05,451.00 C309.78,450.71 311.43,450.93 313.00,451.45 C314.57,451.97 316.15,452.93 317.50,454.12 C318.85,455.31 319.90,456.79 321.10,458.57 C322.30,460.35 323.57,462.57 324.70,464.80 C325.82,467.03 327.03,469.55 327.85,471.92 C328.68,474.29 329.12,476.67 329.65,479.04 C330.17,481.41 330.70,483.79 331.00,486.16 C331.30,488.53 331.45,491.20 331.45,493.28 C331.45,495.36 331.38,496.69 331.00,498.62 C330.62,500.55 330.10,502.85 329.20,504.85 C328.30,506.85 326.95,508.71 325.60,510.63 C324.25,512.56 322.75,514.42 321.10,516.42 C319.45,518.42 317.50,520.72 315.70,522.65 C313.90,524.58 312.25,526.51 310.30,527.99 C308.35,529.47 305.95,530.56 304.00,531.55 C302.05,532.54 300.85,533.36 298.60,533.95 C296.35,534.55 293.20,534.89 290.50,535.11 C287.80,535.33 284.95,535.48 282.40,535.29 C279.85,535.10 277.38,534.72 275.20,533.95 C273.02,533.18 271.22,531.95 269.35,530.66 C267.47,529.37 265.67,527.77 263.95,526.21 C262.23,524.65 260.50,523.02 259.00,521.32 C257.50,519.61 255.92,517.75 254.95,515.98 C253.97,514.20 253.37,512.34 253.15,510.63 C252.92,508.93 253.15,507.30 253.60,505.74 C254.05,504.18 254.95,502.85 255.85,501.29 C256.75,499.73 257.80,498.03 259.00,496.39 C260.20,494.76 261.69,493.07 263.05,491.50 C264.42,489.93 265.82,488.56 267.19,486.96 C268.56,485.36 269.71,483.58 271.24,481.89 C272.77,480.20 274.66,478.62 276.37,476.81 C278.08,475.01 279.75,472.96 281.50,471.03 C283.25,469.10 285.10,467.10 286.90,465.25 C288.70,463.39 290.50,461.31 292.30,459.90 C294.10,458.50 295.98,457.90 297.70,456.79 C299.42,455.68 300.92,454.19 302.65,453.23 C304.38,452.27 306.32,451.30 308.05,451.00Z" fill="#4a196e" opacity="1.0" filter="url(#i8r1)"/><g filter="url(#i8r2)"><ellipse cx="285.10" cy="511.97" rx="7.92" ry="9.34" fill="#450457" opacity="1.0"/></g><g filter="url(#i8b3)"><ellipse cx="270.07" cy="506.10" rx="1.80" ry="1.78" fill="#450457" opacity="1.0"/></g><g filter="url(#i8b4)"><ellipse cx="263.86" cy="498.62" rx="1.08" ry="1.07" fill="#450457" opacity="1.0"/></g></g>
<rect x="248.20" y="447.00" width="90.00" height="89.00" fill="none" stroke="#333" stroke-width="0.5"/>
<line x1="246.7" y1="341.60" x2="248.2" y2="341.60" stroke="#333" stroke-width="0.5"/>
<text x="245.90" y="343.60" font-size="5.6" text-anchor="end" fill="#1a1a1a" stroke="#1a1a1a" stroke-width="0.1" font-family="DejaVu Sans, Liberation Sans, sans-serif" >0</text>
<line x1="246.7" y1="359.06" x2="248.2" y2="359.06" stroke="#333" stroke-width="0.5"/>
<text x="245.90" y="361.06" font-size="5.6" text-anchor="end" fill="#1a1a1a" stroke="#1a1a1a" stroke-width="0.1" font-family="DejaVu Sans, Liberation Sans, sans-serif" >100</text>
<line x1="246.7" y1="376.52" x2="248.2" y2="376.52" stroke="#333" stroke-width="0.5"/>
<text x="245.90" y="378.52" font-size="5.6" text-anchor="end" fill="#1a1a1a" stroke="#1a1a1a" stroke-width="0.1" font-family="DejaVu Sans, Liberation Sans, sans-serif" >200</text>
<line x1="246.7" y1="393.98" x2="248.2" y2="393.98" stroke="#333" stroke-width="0.5"/>
<text x="245.90" y="395.98" font-size="5.6" text-anchor="end" fill="#1a1a1a" stroke="#1a1a1a" stroke-width="0.1" font-family="DejaVu Sans, Liberation Sans, sans-serif" >300</text>
<line x1="246.7" y1="411.44" x2="248.2" y2="411.44" stroke="#333" stroke-width="0.5"/>
<text x="245.90" y="413.44" font-size="5.6" text-anchor="end" fill="#1a1a1a" stroke="#1a1a1a" stroke-width="0.1" font-family="DejaVu Sans, Liberation Sans, sans-serif" >400</text>
<line x1="246.7" y1="428.90" x2="248.2" y2="428.90" stroke="#333" stroke-width="0.5"/>
<text x="245.90" y="430.90" font-size="5.6" text-anchor="end" fill="#1a1a1a" stroke="#1a1a1a" stroke-width="0.1" font-family="DejaVu Sans, Liberation Sans, sans-serif" >500</text>
<line x1="248.20" y1="431.0" x2="248.20" y2="432.5" stroke="#333" stroke-width="0.5"/>
<text x="248.20" y="438.40" font-size="5.6" text-anchor="middle" fill="#1a1a1a" stroke="#1a1a1a" stroke-width="0.1" font-family="DejaVu Sans, Liberation Sans, sans-serif" >0</text>
<line x1="283.36" y1="431.0" x2="283.36" y2="432.5" stroke="#333" stroke-width="0.5"/>
<text x="283.36" y="438.40" font-size="5.6" text-anchor="middle" fill="#1a1a1a" stroke="#1a1a1a" stroke-width="0.1" font-family="DejaVu Sans, Liberation Sans, sans-serif" >200</text>
<line x1="318.51" y1="431.0" x2="318.51" y2="432.5" stroke="#333" stroke-width="0.5"/>
<text x="318.51" y="438.40" font-size="5.6" text-anchor="middle" fill="#1a1a1a" stroke="#1a1a1a" stroke-width="0.1" font-family="DejaVu Sans, Liberation Sans, sans-serif" >400</text>
<line x1="246.7" y1="447.00" x2="248.2" y2="447.00" stroke="#333" stroke-width="0.5"/>
<text x="245.90" y="449.00" font-size="5.6" text-anchor="end" fill="#1a1a1a" stroke="#1a1a1a" stroke-width="0.1" font-family="DejaVu Sans, Liberation Sans, sans-serif" >0</text>
<line x1="246.7" y1="464.38" x2="248.2" y2="464.38" stroke="#333" stroke-width="0.5"/>
<text x="245.90" y="466.38" font-size="5.6" text-anchor="end" fill="#1a1a1a" stroke="#1a1a1a" stroke-width="0.1" font-family="DejaVu Sans, Liberation Sans, sans-serif" >100</text>
<line x1="246.7" y1="481.77" x2="248.2" y2="481.77" stroke="#333" stroke-width="0.5"/>
<text x="245.90" y="483.77" font-size="5.6" text-anchor="end" fill="#1a1a1a" stroke="#1a1a1a" stroke-width="0.1" font-family="DejaVu Sans, Liberation Sans, sans-serif" >200</text>
<line x1="246.7" y1="499.15" x2="248.2" y2="499.15" stroke="#333" stroke-width="0.5"/>
<text x="245.90" y="501.15" font-size="5.6" text-anchor="end" fill="#1a1a1a" stroke="#1a1a1a" stroke-width="0.1" font-family="DejaVu Sans, Liberation Sans, sans-serif" >300</text>
<line x1="246.7" y1="516.53" x2="248.2" y2="516.53" stroke="#333" stroke-width="0.5"/>
<text x="245.90" y="518.53" font-size="5.6" text-anchor="end" fill="#1a1a1a" stroke="#1a1a1a" stroke-width="0.1" font-family="DejaVu Sans, Liberation Sans, sans-serif" >400</text>
<line x1="246.7" y1="533.91" x2="248.2" y2="533.91" stroke="#333" stroke-width="0.5"/>
<text x="245.90" y="535.91" font-size="5.6" text-anchor="end" fill="#1a1a1a" stroke="#1a1a1a" stroke-width="0.1" font-family="DejaVu Sans, Liberation Sans, sans-serif" >500</text>
<line x1="248.20" y1="536.0" x2="248.20" y2="537.5" stroke="#333" stroke-width="0.5"/>
<text x="248.20" y="543.40" font-size="5.6" text-anchor="middle" fill="#1a1a1a" stroke="#1a1a1a" stroke-width="0.1" font-family="DejaVu Sans, Liberation Sans, sans-serif" >0</text>
<line x1="283.36" y1="536.0" x2="283.36" y2="537.5" stroke="#333" stroke-width="0.5"/>
<text x="283.36" y="543.40" font-size="5.6" text-anchor="middle" fill="#1a1a1a" stroke="#1a1a1a" stroke-width="0.1" font-family="DejaVu Sans, Liberation Sans, sans-serif" >200</text>
<line x1="318.51" y1="536.0" x2="318.51" y2="537.5" stroke="#333" stroke-width="0.5"/>
<text x="318.51" y="543.40" font-size="5.6" text-anchor="middle" fill="#1a1a1a" stroke="#1a1a1a" stroke-width="0.1" font-family="DejaVu Sans, Liberation Sans, sans-serif" >400</text>
<defs><clipPath id="i9clip"><rect x="355.70" y="341.60" width="90.00" height="89.40"/></clipPath><filter id="i9r1" x="-20%" y="-20%" width="140%" height="140%" color-interpolation-filters="sRGB"><feTurbulence type="fractalNoise" baseFrequency="0.1" numOctaves="2" seed="3" result="t"/><feDisplacementMap in="SourceGraphic" in2="t" scale="4" xChannelSelector="R" yChannelSelector="G" result="d"/><feGaussianBlur in="d" stdDeviation="1.5"/></filter><filter id="i9r2" x="-20%" y="-20%" width="140%" height="140%" color-interpolation-filters="sRGB"><feTurbulence type="fractalNoise" baseFrequency="0.12" numOctaves="2" seed="5" result="t"/><feDisplacementMap in="SourceGraphic" in2="t" scale="5" xChannelSelector="R" yChannelSelector="G" result="d"/><feGaussianBlur in="d" stdDeviation="1.5"/></filter><filter id="i9b3" x="-50%" y="-50%" width="200%" height="200%"><feGaussianBlur stdDeviation="6"/></filter><clipPath id="i9cc950"><path d="M414.87,347.83 C416.51,347.55 418.08,347.76 419.57,348.25 C421.07,348.75 422.57,349.67 423.85,350.80 C425.13,351.93 426.13,353.35 427.27,355.05 C428.41,356.75 429.62,358.87 430.69,360.99 C431.76,363.12 432.90,365.52 433.68,367.79 C434.47,370.05 434.89,372.32 435.39,374.58 C435.89,376.85 436.39,379.11 436.67,381.38 C436.96,383.64 437.10,386.19 437.10,388.17 C437.10,390.15 437.03,391.43 436.67,393.27 C436.32,395.11 435.82,397.30 434.96,399.21 C434.11,401.12 432.83,402.89 431.54,404.73 C430.26,406.57 428.84,408.34 427.27,410.25 C425.70,412.16 423.85,414.36 422.14,416.20 C420.43,418.04 418.86,419.88 417.01,421.29 C415.16,422.71 412.88,423.74 411.02,424.69 C409.17,425.64 408.03,426.42 405.89,426.98 C403.76,427.55 400.76,427.88 398.20,428.09 C395.63,428.30 392.93,428.44 390.50,428.26 C388.08,428.07 385.73,427.72 383.66,426.98 C381.60,426.25 379.89,425.07 378.11,423.84 C376.33,422.61 374.62,421.08 372.98,419.60 C371.34,418.11 369.70,416.55 368.27,414.92 C366.85,413.30 365.35,411.53 364.43,409.83 C363.50,408.13 362.93,406.36 362.72,404.73 C362.50,403.11 362.72,401.55 363.14,400.06 C363.57,398.58 364.43,397.30 365.28,395.82 C366.14,394.33 367.13,392.70 368.27,391.14 C369.41,389.59 370.82,387.97 372.12,386.47 C373.42,384.97 374.76,383.67 376.05,382.14 C377.35,380.61 378.45,378.91 379.90,377.30 C381.36,375.69 383.15,374.19 384.78,372.46 C386.40,370.73 387.98,368.78 389.65,366.94 C391.32,365.10 393.07,363.19 394.78,361.42 C396.49,359.65 398.20,357.67 399.91,356.32 C401.62,354.98 403.40,354.41 405.04,353.35 C406.68,352.29 408.10,350.87 409.74,349.95 C411.38,349.03 413.23,348.11 414.87,347.83Z"/></clipPath><filter id="i9b4" x="-50%" y="-50%" width="200%" height="200%"><feGaussianBlur stdDeviation="7"/></filter><clipPath id="i9cc1000"><path d="M415.55,345.62 C417.28,345.33 418.93,345.55 420.50,346.07 C422.07,346.59 423.65,347.56 425.00,348.75 C426.35,349.94 427.40,351.43 428.60,353.22 C429.80,355.01 431.07,357.25 432.20,359.48 C433.32,361.72 434.53,364.25 435.35,366.63 C436.18,369.02 436.62,371.40 437.15,373.78 C437.67,376.17 438.20,378.55 438.50,380.94 C438.80,383.32 438.95,386.00 438.95,388.09 C438.95,390.17 438.88,391.51 438.50,393.45 C438.12,395.39 437.60,397.70 436.70,399.71 C435.80,401.72 434.45,403.58 433.10,405.52 C431.75,407.46 430.25,409.32 428.60,411.33 C426.95,413.34 425.00,415.65 423.20,417.59 C421.40,419.53 419.75,421.46 417.80,422.95 C415.85,424.44 413.45,425.53 411.50,426.53 C409.55,427.53 408.35,428.35 406.10,428.94 C403.85,429.54 400.70,429.88 398.00,430.11 C395.30,430.33 392.45,430.48 389.90,430.28 C387.35,430.09 384.88,429.72 382.70,428.94 C380.52,428.17 378.72,426.93 376.85,425.64 C374.97,424.34 373.17,422.73 371.45,421.17 C369.73,419.60 368.00,417.96 366.50,416.25 C365.00,414.54 363.43,412.67 362.45,410.88 C361.47,409.10 360.88,407.23 360.65,405.52 C360.42,403.81 360.65,402.17 361.10,400.60 C361.55,399.04 362.45,397.70 363.35,396.13 C364.25,394.57 365.30,392.86 366.50,391.22 C367.70,389.58 369.19,387.88 370.55,386.30 C371.92,384.72 373.32,383.35 374.69,381.74 C376.06,380.13 377.21,378.34 378.74,376.64 C380.27,374.95 382.16,373.37 383.87,371.55 C385.58,369.73 387.25,367.68 389.00,365.74 C390.75,363.80 392.60,361.79 394.40,359.93 C396.20,358.06 398.00,355.98 399.80,354.56 C401.60,353.15 403.48,352.55 405.20,351.43 C406.92,350.32 408.42,348.83 410.15,347.86 C411.88,346.89 413.82,345.92 415.55,345.62Z"/></clipPath><filter id="i9b5" x="-50%" y="-50%" width="200%" height="200%"><feGaussianBlur stdDeviation="4"/></filter><filter id="i9b6" x="-50%" y="-50%" width="200%" height="200%"><feGaussianBlur stdDeviation="4"/></filter><filter id="i9n7" x="0" y="0" width="100%" height="100%" color-interpolation-filters="sRGB"><feTurbulence type="fractalNoise" baseFrequency="0.45" numOctaves="2" seed="8"/><feColorMatrix type="matrix" values="0 0 0 0 0.227 0 0 0 0 0.361 0 0 0 0 0.549 2.6 0 0 0 -1.3"/></filter><clipPath id="i9c8"><path d="M414.60,348.71 C416.20,348.44 417.74,348.64 419.20,349.13 C420.67,349.61 422.13,350.51 423.39,351.62 C424.64,352.73 425.62,354.12 426.74,355.78 C427.85,357.44 429.04,359.52 430.08,361.60 C431.13,363.68 432.25,366.03 433.01,368.25 C433.78,370.47 434.20,372.69 434.69,374.90 C435.18,377.12 435.66,379.34 435.94,381.55 C436.22,383.77 436.36,386.27 436.36,388.21 C436.36,390.15 436.29,391.39 435.94,393.19 C435.59,394.99 435.11,397.14 434.27,399.01 C433.43,400.88 432.18,402.62 430.92,404.42 C429.67,406.22 428.27,407.95 426.74,409.82 C425.20,411.69 423.39,413.84 421.71,415.64 C420.04,417.44 418.51,419.24 416.69,420.63 C414.88,422.02 412.65,423.03 410.83,423.96 C409.02,424.88 407.90,425.65 405.81,426.20 C403.72,426.76 400.79,427.07 398.28,427.28 C395.77,427.49 393.12,427.63 390.75,427.45 C388.37,427.27 386.07,426.92 384.05,426.20 C382.03,425.48 380.35,424.33 378.61,423.12 C376.87,421.92 375.19,420.42 373.59,418.97 C371.98,417.51 370.38,415.99 368.98,414.39 C367.59,412.80 366.12,411.07 365.22,409.41 C364.31,407.74 363.75,406.01 363.54,404.42 C363.33,402.82 363.54,401.30 363.96,399.84 C364.38,398.39 365.22,397.14 366.05,395.69 C366.89,394.23 367.87,392.64 368.98,391.12 C370.10,389.59 371.48,388.01 372.75,386.54 C374.02,385.07 375.33,383.80 376.60,382.30 C377.87,380.81 378.94,379.14 380.37,377.56 C381.79,375.98 383.55,374.51 385.14,372.82 C386.73,371.13 388.28,369.22 389.91,367.42 C391.54,365.62 393.26,363.75 394.93,362.02 C396.60,360.28 398.28,358.34 399.95,357.03 C401.63,355.71 403.37,355.16 404.97,354.12 C406.58,353.08 407.97,351.69 409.58,350.79 C411.18,349.89 413.00,348.99 414.60,348.71Z"/></clipPath><filter id="i9n9" x="0" y="0" width="100%" height="100%" color-interpolation-filters="sRGB"><feTurbulence type="fractalNoise" baseFrequency="0.45" numOctaves="2" seed="18"/><feColorMatrix type="matrix" values="0 0 0 0 0.282 0 0 0 0 0.137 0 0 0 0 0.478 2.6 0 0 0 -1.3"/></filter><clipPath id="i9c10"><path d="M414.60,348.71 C416.20,348.44 417.74,348.64 419.20,349.13 C420.67,349.61 422.13,350.51 423.39,351.62 C424.64,352.73 425.62,354.12 426.74,355.78 C427.85,357.44 429.04,359.52 430.08,361.60 C431.13,363.68 432.25,366.03 433.01,368.25 C433.78,370.47 434.20,372.69 434.69,374.90 C435.18,377.12 435.66,379.34 435.94,381.55 C436.22,383.77 436.36,386.27 436.36,388.21 C436.36,390.15 436.29,391.39 435.94,393.19 C435.59,394.99 435.11,397.14 434.27,399.01 C433.43,400.88 432.18,402.62 430.92,404.42 C429.67,406.22 428.27,407.95 426.74,409.82 C425.20,411.69 423.39,413.84 421.71,415.64 C420.04,417.44 418.51,419.24 416.69,420.63 C414.88,422.02 412.65,423.03 410.83,423.96 C409.02,424.88 407.90,425.65 405.81,426.20 C403.72,426.76 400.79,427.07 398.28,427.28 C395.77,427.49 393.12,427.63 390.75,427.45 C388.37,427.27 386.07,426.92 384.05,426.20 C382.03,425.48 380.35,424.33 378.61,423.12 C376.87,421.92 375.19,420.42 373.59,418.97 C371.98,417.51 370.38,415.99 368.98,414.39 C367.59,412.80 366.12,411.07 365.22,409.41 C364.31,407.74 363.75,406.01 363.54,404.42 C363.33,402.82 363.54,401.30 363.96,399.84 C364.38,398.39 365.22,397.14 366.05,395.69 C366.89,394.23 367.87,392.64 368.98,391.12 C370.10,389.59 371.48,388.01 372.75,386.54 C374.02,385.07 375.33,383.80 376.60,382.30 C377.87,380.81 378.94,379.14 380.37,377.56 C381.79,375.98 383.55,374.51 385.14,372.82 C386.73,371.13 388.28,369.22 389.91,367.42 C391.54,365.62 393.26,363.75 394.93,362.02 C396.60,360.28 398.28,358.34 399.95,357.03 C401.63,355.71 403.37,355.16 404.97,354.12 C406.58,353.08 407.97,351.69 409.58,350.79 C411.18,349.89 413.00,348.99 414.60,348.71Z"/></clipPath><filter id="i9b11" x="-50%" y="-50%" width="200%" height="200%"><feGaussianBlur stdDeviation="3"/></filter><filter id="i9r12" x="-20%" y="-20%" width="140%" height="140%" color-interpolation-filters="sRGB"><feTurbulence type="fractalNoise" baseFrequency="0.2" numOctaves="2" seed="4" result="t"/><feDisplacementMap in="SourceGraphic" in2="t" scale="3" xChannelSelector="R" yChannelSelector="G" result="d"/><feGaussianBlur in="d" stdDeviation="1.4"/></filter><filter id="i9r13" x="-20%" y="-20%" width="140%" height="140%" color-interpolation-filters="sRGB"><feTurbulence type="fractalNoise" baseFrequency="0.2" numOctaves="2" seed="6" result="t"/><feDisplacementMap in="SourceGraphic" in2="t" scale="3" xChannelSelector="R" yChannelSelector="G" result="d"/><feGaussianBlur in="d" stdDeviation="1.1"/></filter><filter id="i9b14" x="-50%" y="-50%" width="200%" height="200%"><feGaussianBlur stdDeviation="0.6"/></filter><filter id="i9b15" x="-50%" y="-50%" width="200%" height="200%"><feGaussianBlur stdDeviation="0.6"/></filter></defs><g clip-path="url(#i9clip)"><rect x="355.70" y="341.60" width="90.00" height="89.40" fill="#460a5c"/><path d="M416.22,347.48 C417.90,347.19 419.50,347.41 421.02,347.92 C422.55,348.42 424.08,349.36 425.39,350.52 C426.70,351.67 427.72,353.12 428.88,354.85 C430.05,356.59 431.28,358.76 432.37,360.92 C433.46,363.09 434.63,365.55 435.43,367.86 C436.23,370.17 436.67,372.49 437.17,374.80 C437.68,377.11 438.19,379.42 438.48,381.74 C438.78,384.05 438.92,386.65 438.92,388.67 C438.92,390.70 438.85,392.00 438.48,393.88 C438.12,395.76 437.61,398.00 436.74,399.95 C435.87,401.90 434.56,403.71 433.25,405.58 C431.94,407.46 430.48,409.27 428.88,411.22 C427.28,413.17 425.39,415.41 423.64,417.29 C421.90,419.17 420.30,421.05 418.41,422.49 C416.51,423.94 414.19,424.99 412.29,425.96 C410.40,426.93 409.24,427.73 407.06,428.30 C404.87,428.88 401.82,429.22 399.20,429.43 C396.58,429.65 393.82,429.79 391.34,429.61 C388.87,429.42 386.47,429.06 384.36,428.30 C382.25,427.55 380.50,426.35 378.68,425.10 C376.87,423.84 375.12,422.28 373.45,420.76 C371.77,419.24 370.10,417.65 368.64,415.99 C367.19,414.33 365.66,412.52 364.72,410.79 C363.77,409.05 363.19,407.25 362.97,405.58 C362.75,403.92 362.97,402.33 363.41,400.82 C363.84,399.30 364.72,398.00 365.59,396.48 C366.46,394.96 367.48,393.30 368.64,391.71 C369.81,390.12 371.25,388.47 372.57,386.94 C373.90,385.41 375.26,384.08 376.59,382.52 C377.91,380.96 379.03,379.22 380.52,377.57 C382.00,375.93 383.83,374.39 385.49,372.63 C387.15,370.87 388.77,368.87 390.47,367.00 C392.17,365.12 393.96,363.17 395.71,361.36 C397.45,359.55 399.20,357.53 400.95,356.16 C402.69,354.78 404.51,354.20 406.18,353.12 C407.86,352.04 409.31,350.59 410.98,349.65 C412.66,348.71 414.55,347.77 416.22,347.48Z" fill="#472472" opacity="1.0" filter="url(#i9r1)"/><path d="M412.80,346.92 C414.40,346.65 415.94,346.86 417.40,347.34 C418.87,347.83 420.33,348.73 421.59,349.83 C422.84,350.94 423.82,352.33 424.94,353.99 C426.05,355.65 427.24,357.73 428.28,359.81 C429.33,361.89 430.45,364.25 431.21,366.46 C431.98,368.68 432.40,370.90 432.89,373.11 C433.38,375.33 433.86,377.55 434.14,379.77 C434.42,381.98 434.56,384.48 434.56,386.42 C434.56,388.36 434.49,389.60 434.14,391.41 C433.79,393.21 433.31,395.35 432.47,397.23 C431.63,399.10 430.38,400.83 429.12,402.63 C427.87,404.43 426.47,406.16 424.94,408.03 C423.40,409.90 421.59,412.05 419.91,413.85 C418.24,415.66 416.71,417.46 414.89,418.84 C413.08,420.23 410.85,421.24 409.03,422.17 C407.22,423.10 406.10,423.86 404.01,424.41 C401.92,424.97 398.99,425.29 396.48,425.49 C393.97,425.70 391.32,425.84 388.95,425.66 C386.57,425.48 384.27,425.13 382.25,424.41 C380.23,423.69 378.55,422.54 376.81,421.34 C375.07,420.13 373.39,418.63 371.79,417.18 C370.18,415.72 368.58,414.20 367.18,412.61 C365.79,411.01 364.32,409.28 363.42,407.62 C362.51,405.96 361.95,404.22 361.74,402.63 C361.53,401.04 361.74,399.51 362.16,398.06 C362.58,396.60 363.42,395.35 364.25,393.90 C365.09,392.44 366.07,390.85 367.18,389.33 C368.30,387.80 369.68,386.22 370.95,384.75 C372.22,383.29 373.53,382.01 374.80,380.51 C376.07,379.02 377.14,377.35 378.57,375.77 C379.99,374.20 381.75,372.73 383.34,371.04 C384.93,369.35 386.48,367.43 388.11,365.63 C389.74,363.83 391.46,361.96 393.13,360.23 C394.80,358.50 396.48,356.56 398.15,355.24 C399.83,353.92 401.57,353.37 403.17,352.33 C404.78,351.29 406.17,349.90 407.78,349.00 C409.38,348.10 411.20,347.20 412.80,346.92Z" fill="#443a83" opacity="1.0" filter="url(#i9r2)"/><g clip-path="url(#i9cc950)"><g filter="url(#i9b3)"><ellipse cx="388.10" cy="402.39" rx="19.80" ry="19.67" fill="#355f8d" opacity="0.35"/></g></g><g clip-path="url(#i9cc1000)"><g filter="url(#i9b4)"><ellipse cx="418.70" cy="368.42" rx="19.80" ry="22.35" fill="#472c7c" opacity="0.4"/></g></g><g clip-path="url(#i9cc1000)"><g filter="url(#i9b5)"><ellipse cx="411.50" cy="346.07" rx="22.50" ry="9.83" fill="#46146a" opacity="0.85"/></g></g><g clip-path="url(#i9cc1000)"><g filter="url(#i9b6)"><ellipse cx="436.70" cy="352.33" rx="9.00" ry="8.94" fill="#46166a" opacity="0.5"/></g></g><g clip-path="url(#i9c8)"><g><rect x="355.70" y="341.60" width="90.00" height="89.40" filter="url(#i9n7)" opacity="0.5"/></g></g><g clip-path="url(#i9c10)"><g><rect x="355.70" y="341.60" width="90.00" height="89.40" filter="url(#i9n9)" opacity="0.45"/></g></g><g filter="url(#i9b11)"><ellipse cx="391.70" cy="407.76" rx="9.00" ry="10.73" fill="#1f968b" opacity="0.55"/></g><g filter="url(#i9r12)"><ellipse cx="394.85" cy="408.20" rx="5.04" ry="7.69" fill="#29af7f" opacity="1.0" transform="rotate(-10 394.85 408.20)"/></g><g filter="url(#i9r13)"><ellipse cx="395.30" cy="408.20" rx="3.24" ry="5.72" fill="#50c46a" opacity="1.0" transform="rotate(-10 395.30 408.20)"/></g><g filter="url(#i9b14)"><ellipse cx="377.30" cy="400.60" rx="1.26" ry="1.25" fill="#5ac864" opacity="1.0"/></g><g filter="url(#i9b15)"><ellipse cx="371.00" cy="393.09" rx="0.99" ry="0.98" fill="#2a9a8a" opacity="1.0"/></g></g>
<rect x="355.70" y="341.60" width="90.00" height="89.40" fill="none" stroke="#333" stroke-width="0.5"/>
<defs><clipPath id="i10clip"><rect x="355.70" y="447.00" width="90.00" height="89.00"/></clipPath><filter id="i10r1" x="-20%" y="-20%" width="140%" height="140%" color-interpolation-filters="sRGB"><feTurbulence type="fractalNoise" baseFrequency="0.12" numOctaves="2" seed="3" result="t"/><feDisplacementMap in="SourceGraphic" in2="t" scale="6" xChannelSelector="R" yChannelSelector="G" result="d"/><feGaussianBlur in="d" stdDeviation="1.0"/></filter><filter id="i10r2" x="-20%" y="-20%" width="140%" height="140%" color-interpolation-filters="sRGB"><feTurbulence type="fractalNoise" baseFrequency="0.2" numOctaves="2" seed="4" result="t"/><feDisplacementMap in="SourceGraphic" in2="t" scale="4" xChannelSelector="R" yChannelSelector="G" result="d"/><feGaussianBlur in="d" stdDeviation="1.0"/></filter><filter id="i10b3" x="-50%" y="-50%" width="200%" height="200%"><feGaussianBlur stdDeviation="0.6"/></filter><filter id="i10b4" x="-50%" y="-50%" width="200%" height="200%"><feGaussianBlur stdDeviation="0.5"/></filter></defs><g clip-path="url(#i10clip)"><rect x="355.70" y="447.00" width="90.00" height="89.00" fill="#450457"/><path d="M415.55,451.00 C417.28,450.71 418.93,450.93 420.50,451.45 C422.07,451.97 423.65,452.93 425.00,454.12 C426.35,455.31 427.40,456.79 428.60,458.57 C429.80,460.35 431.07,462.57 432.20,464.80 C433.32,467.03 434.53,469.55 435.35,471.92 C436.18,474.29 436.62,476.67 437.15,479.04 C437.67,481.41 438.20,483.79 438.50,486.16 C438.80,488.53 438.95,491.20 438.95,493.28 C438.95,495.36 438.88,496.69 438.50,498.62 C438.12,500.55 437.60,502.85 436.70,504.85 C435.80,506.85 434.45,508.71 433.10,510.63 C431.75,512.56 430.25,514.42 428.60,516.42 C426.95,518.42 425.00,520.72 423.20,522.65 C421.40,524.58 419.75,526.51 417.80,527.99 C415.85,529.47 413.45,530.56 411.50,531.55 C409.55,532.54 408.35,533.36 406.10,533.95 C403.85,534.55 400.70,534.89 398.00,535.11 C395.30,535.33 392.45,535.48 389.90,535.29 C387.35,535.10 384.88,534.72 382.70,533.95 C380.52,533.18 378.72,531.95 376.85,530.66 C374.97,529.37 373.17,527.77 371.45,526.21 C369.73,524.65 368.00,523.02 366.50,521.32 C365.00,519.61 363.43,517.75 362.45,515.98 C361.47,514.20 360.88,512.34 360.65,510.63 C360.42,508.93 360.65,507.30 361.10,505.74 C361.55,504.18 362.45,502.85 363.35,501.29 C364.25,499.73 365.30,498.03 366.50,496.39 C367.70,494.76 369.19,493.07 370.55,491.50 C371.92,489.93 373.32,488.56 374.69,486.96 C376.06,485.36 377.21,483.58 378.74,481.89 C380.27,480.20 382.16,478.62 383.87,476.81 C385.58,475.01 387.25,472.96 389.00,471.03 C390.75,469.10 392.60,467.10 394.40,465.25 C396.20,463.39 398.00,461.31 399.80,459.90 C401.60,458.50 403.48,457.90 405.20,456.79 C406.92,455.68 408.42,454.19 410.15,453.23 C411.88,452.27 413.82,451.30 415.55,451.00Z" fill="#470d60" opacity="1.0" filter="url(#i10r1)"/><g filter="url(#i10r2)"><ellipse cx="392.60" cy="511.97" rx="7.92" ry="9.34" fill="#450457" opacity="1.0"/></g><g filter="url(#i10b3)"><ellipse cx="377.57" cy="506.10" rx="1.80" ry="1.78" fill="#450457" opacity="1.0"/></g><g filter="url(#i10b4)"><ellipse cx="371.36" cy="498.62" rx="1.08" ry="1.07" fill="#450457" opacity="1.0"/></g></g>
<rect x="355.70" y="447.00" width="90.00" height="89.00" fill="none" stroke="#333" stroke-width="0.5"/>
<line x1="354.2" y1="341.60" x2="355.7" y2="341.60" stroke="#333" stroke-width="0.5"/>
<text x="353.40" y="343.60" font-size="5.6" text-anchor="end" fill="#1a1a1a" stroke="#1a1a1a" stroke-width="0.1" font-family="DejaVu Sans, Liberation Sans, sans-serif" >0</text>
<line x1="354.2" y1="359.06" x2="355.7" y2="359.06" stroke="#333" stroke-width="0.5"/>
<text x="353.40" y="361.06" font-size="5.6" text-anchor="end" fill="#1a1a1a" stroke="#1a1a1a" stroke-width="0.1" font-family="DejaVu Sans, Liberation Sans, sans-serif" >100</text>
<line x1="354.2" y1="376.52" x2="355.7" y2="376.52" stroke="#333" stroke-width="0.5"/>
<text x="353.40" y="378.52" font-size="5.6" text-anchor="end" fill="#1a1a1a" stroke="#1a1a1a" stroke-width="0.1" font-family="DejaVu Sans, Liberation Sans, sans-serif" >200</text>
<line x1="354.2" y1="393.98" x2="355.7" y2="393.98" stroke="#333" stroke-width="0.5"/>
<text x="353.40" y="395.98" font-size="5.6" text-anchor="end" fill="#1a1a1a" stroke="#1a1a1a" stroke-width="0.1" font-family="DejaVu Sans, Liberation Sans, sans-serif" >300</text>
<line x1="354.2" y1="411.44" x2="355.7" y2="411.44" stroke="#333" stroke-width="0.5"/>
<text x="353.40" y="413.44" font-size="5.6" text-anchor="end" fill="#1a1a1a" stroke="#1a1a1a" stroke-width="0.1" font-family="DejaVu Sans, Liberation Sans, sans-serif" >400</text>
<line x1="354.2" y1="428.90" x2="355.7" y2="428.90" stroke="#333" stroke-width="0.5"/>
<text x="353.40" y="430.90" font-size="5.6" text-anchor="end" fill="#1a1a1a" stroke="#1a1a1a" stroke-width="0.1" font-family="DejaVu Sans, Liberation Sans, sans-serif" >500</text>
<line x1="355.70" y1="431.0" x2="355.70" y2="432.5" stroke="#333" stroke-width="0.5"/>
<text x="355.70" y="438.40" font-size="5.6" text-anchor="middle" fill="#1a1a1a" stroke="#1a1a1a" stroke-width="0.1" font-family="DejaVu Sans, Liberation Sans, sans-serif" >0</text>
<line x1="390.86" y1="431.0" x2="390.86" y2="432.5" stroke="#333" stroke-width="0.5"/>
<text x="390.86" y="438.40" font-size="5.6" text-anchor="middle" fill="#1a1a1a" stroke="#1a1a1a" stroke-width="0.1" font-family="DejaVu Sans, Liberation Sans, sans-serif" >200</text>
<line x1="426.01" y1="431.0" x2="426.01" y2="432.5" stroke="#333" stroke-width="0.5"/>
<text x="426.01" y="438.40" font-size="5.6" text-anchor="middle" fill="#1a1a1a" stroke="#1a1a1a" stroke-width="0.1" font-family="DejaVu Sans, Liberation Sans, sans-serif" >400</text>
<line x1="354.2" y1="447.00" x2="355.7" y2="447.00" stroke="#333" stroke-width="0.5"/>
<text x="353.40" y="449.00" font-size="5.6" text-anchor="end" fill="#1a1a1a" stroke="#1a1a1a" stroke-width="0.1" font-family="DejaVu Sans, Liberation Sans, sans-serif" >0</text>
<line x1="354.2" y1="464.38" x2="355.7" y2="464.38" stroke="#333" stroke-width="0.5"/>
<text x="353.40" y="466.38" font-size="5.6" text-anchor="end" fill="#1a1a1a" stroke="#1a1a1a" stroke-width="0.1" font-family="DejaVu Sans, Liberation Sans, sans-serif" >100</text>
<line x1="354.2" y1="481.77" x2="355.7" y2="481.77" stroke="#333" stroke-width="0.5"/>
<text x="353.40" y="483.77" font-size="5.6" text-anchor="end" fill="#1a1a1a" stroke="#1a1a1a" stroke-width="0.1" font-family="DejaVu Sans, Liberation Sans, sans-serif" >200</text>
<line x1="354.2" y1="499.15" x2="355.7" y2="499.15" stroke="#333" stroke-width="0.5"/>
<text x="353.40" y="501.15" font-size="5.6" text-anchor="end" fill="#1a1a1a" stroke="#1a1a1a" stroke-width="0.1" font-family="DejaVu Sans, Liberation Sans, sans-serif" >300</text>
<line x1="354.2" y1="516.53" x2="355.7" y2="516.53" stroke="#333" stroke-width="0.5"/>
<text x="353.40" y="518.53" font-size="5.6" text-anchor="end" fill="#1a1a1a" stroke="#1a1a1a" stroke-width="0.1" font-family="DejaVu Sans, Liberation Sans, sans-serif" >400</text>
<line x1="354.2" y1="533.91" x2="355.7" y2="533.91" stroke="#333" stroke-width="0.5"/>
<text x="353.40" y="535.91" font-size="5.6" text-anchor="end" fill="#1a1a1a" stroke="#1a1a1a" stroke-width="0.1" font-family="DejaVu Sans, Liberation Sans, sans-serif" >500</text>
<line x1="355.70" y1="536.0" x2="355.70" y2="537.5" stroke="#333" stroke-width="0.5"/>
<text x="355.70" y="543.40" font-size="5.6" text-anchor="middle" fill="#1a1a1a" stroke="#1a1a1a" stroke-width="0.1" font-family="DejaVu Sans, Liberation Sans, sans-serif" >0</text>
<line x1="390.86" y1="536.0" x2="390.86" y2="537.5" stroke="#333" stroke-width="0.5"/>
<text x="390.86" y="543.40" font-size="5.6" text-anchor="middle" fill="#1a1a1a" stroke="#1a1a1a" stroke-width="0.1" font-family="DejaVu Sans, Liberation Sans, sans-serif" >200</text>
<line x1="426.01" y1="536.0" x2="426.01" y2="537.5" stroke="#333" stroke-width="0.5"/>
<text x="426.01" y="543.40" font-size="5.6" text-anchor="middle" fill="#1a1a1a" stroke="#1a1a1a" stroke-width="0.1" font-family="DejaVu Sans, Liberation Sans, sans-serif" >400</text>
<text x="0.00" y="0.00" font-size="20" text-anchor="start" fill="#000" stroke="#000" stroke-width="0.28" font-family="Liberation Sans, Arial, sans-serif" font-weight="bold" transform="translate(9.4,349.9) scale(0.72,1)">E</text>
<text x="0.00" y="0.00" font-size="7.6" text-anchor="middle" fill="#000" stroke="#000" stroke-width="0.28" font-family="DejaVu Sans, Liberation Sans, sans-serif" font-weight="bold" transform="translate(15.5,386.3) rotate(-90) scale(0.9,1)">Mode 0</text>
<text x="0.00" y="0.00" font-size="7.6" text-anchor="middle" fill="#000" stroke="#000" stroke-width="0.28" font-family="DejaVu Sans, Liberation Sans, sans-serif" font-weight="bold" transform="translate(15.5,490.3) rotate(-90) scale(0.9,1)">Mode 1</text>
</svg></body></html>
